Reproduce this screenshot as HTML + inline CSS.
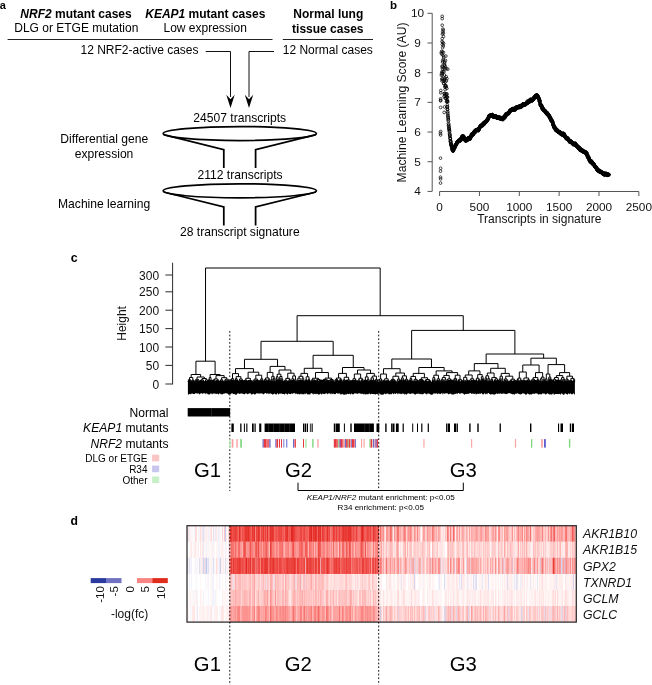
<!DOCTYPE html>
<html lang="en">
<head>
<meta charset="utf-8">
<title>NRF2 signature figure</title>
<style>
html,body{margin:0;padding:0;background:#fff;}
body{width:652px;height:685px;overflow:hidden;}
svg{display:block;font-family:'Liberation Sans', sans-serif;}
</style>
</head>
<body>
<svg width="652" height="685" viewBox="0 0 652 685">
<rect width="652" height="685" fill="#fff"/>
<g id="panel-a">
<text x="-0.2" y="8.9" font-size="11" font-weight="bold">a</text>
<text x="76" y="17.5" font-size="12" text-anchor="middle" font-weight="bold"><tspan font-style="italic">NRF2</tspan> mutant cases</text>
<text x="76.3" y="31.6" font-size="12" text-anchor="middle">DLG or ETGE mutation</text>
<text x="205.3" y="17.6" font-size="12" text-anchor="middle" font-weight="bold"><tspan font-style="italic">KEAP1</tspan> mutant cases</text>
<text x="205.2" y="31.6" font-size="12" text-anchor="middle">Low expression</text>
<text x="328.3" y="17.6" font-size="12" text-anchor="middle" font-weight="bold">Normal lung</text>
<text x="327.8" y="32.5" font-size="12" text-anchor="middle" font-weight="bold">tissue cases</text>
<path d="M7.6 39.5H272.5M282.8 39.5H373" stroke="#222" stroke-width="1" fill="none"/>
<text x="139.5" y="54" font-size="12" text-anchor="middle">12 NRF2-active cases</text>
<text x="327.8" y="54" font-size="12" text-anchor="middle">12 Normal cases</text>
<path d="M205.7 51.5H230.5V97M274 51.5H249V97" stroke="#111" stroke-width="1" fill="none"/>
<path d="M230.5 108L226.3 94.8L230.5 99.2L234.7 94.8Z" fill="#000"/>
<path d="M249 108L244.8 94.8L249 99.2L253.2 94.8Z" fill="#000"/>
<text x="239.7" y="122.2" font-size="12.1" text-anchor="middle">24507 transcripts</text>
<text x="240" y="179" font-size="12.1" text-anchor="middle">2112 transcripts</text>
<text x="239.8" y="236" font-size="12.1" text-anchor="middle">28 transcript signature</text>
<text x="104.3" y="142.85" font-size="12.1" text-anchor="middle">Differential gene</text>
<text x="104.1" y="158" font-size="12.1" text-anchor="middle">expression</text>
<text x="104.1" y="208.15" font-size="12.1" text-anchor="middle">Machine learning</text>
<ellipse cx="239.8" cy="133.5" rx="76.6" ry="7.0" fill="none" stroke="#000" stroke-width="1.75"/>
<path d="M163.6 134.7 L223.8 149.6 V168.1 M316 134.7 L255.6 149.6 V168.1" fill="none" stroke="#000" stroke-width="1.75" stroke-linejoin="miter"/>
<ellipse cx="239.8" cy="190.8" rx="76.6" ry="7.0" fill="none" stroke="#000" stroke-width="1.75"/>
<path d="M163.6 192 L223.8 206.9 V225.4 M316 192 L255.6 206.9 V225.4" fill="none" stroke="#000" stroke-width="1.75" stroke-linejoin="miter"/>
</g>
<g id="panel-b">
<text x="389.9" y="8.55" font-size="11.5" font-weight="bold">b</text>
<path d="M432.2 13.32 V191.4M432.2 191.4H427.5M432.2 161.72H427.5M432.2 132.04H427.5M432.2 102.36H427.5M432.2 72.68H427.5M432.2 43H427.5M432.2 13.32H427.5M439.6 191.5H638.85M439.6 191.5V196M479.45 191.5V196M519.3 191.5V196M559.15 191.5V196M599 191.5V196M638.85 191.5V196" stroke="#555" stroke-width="1" fill="none"/>
<text x="417.6" y="195.3" font-size="11.8" text-anchor="middle" fill="#111">4</text>
<text x="417.6" y="165.62" font-size="11.8" text-anchor="middle" fill="#111">5</text>
<text x="417.6" y="135.94" font-size="11.8" text-anchor="middle" fill="#111">6</text>
<text x="417.6" y="106.26" font-size="11.8" text-anchor="middle" fill="#111">7</text>
<text x="417.6" y="76.58" font-size="11.8" text-anchor="middle" fill="#111">8</text>
<text x="417.6" y="46.9" font-size="11.8" text-anchor="middle" fill="#111">9</text>
<text x="417.6" y="17.22" font-size="11.8" text-anchor="middle" fill="#111">10</text>
<text x="439.6" y="211.3" font-size="11.8" text-anchor="middle" fill="#111">0</text>
<text x="479.45" y="211.3" font-size="11.8" text-anchor="middle" fill="#111">500</text>
<text x="519.3" y="211.3" font-size="11.8" text-anchor="middle" fill="#111">1000</text>
<text x="559.15" y="211.3" font-size="11.8" text-anchor="middle" fill="#111">1500</text>
<text x="599" y="211.3" font-size="11.8" text-anchor="middle" fill="#111">2000</text>
<text x="638.85" y="211.3" font-size="11.8" text-anchor="middle" fill="#111">2500</text>
<text x="539.3" y="222.6" font-size="12" text-anchor="middle" fill="#111">Transcripts in signature</text>
<text x="405.6" y="102.4" font-size="12.15" text-anchor="middle" fill="#111" transform="rotate(-90 405.6 102.4)">Machine Learning Score (AU)</text>
<g fill="none" stroke="#000" stroke-width="0.7">
<circle cx="442.2" cy="16.29" r="1.35"/><circle cx="442.2" cy="18.66" r="1.35"/><circle cx="442.2" cy="25.19" r="1.35"/><circle cx="442.9" cy="29.05" r="1.35"/><circle cx="443.3" cy="30.24" r="1.35"/><circle cx="442.7" cy="31.72" r="1.35"/><circle cx="443.4" cy="33.21" r="1.35"/><circle cx="442.4" cy="34.1" r="1.35"/><circle cx="443.5" cy="36.47" r="1.35"/><circle cx="442.2" cy="38.55" r="1.35"/><circle cx="442" cy="41.52" r="1.35"/><circle cx="442.9" cy="42.41" r="1.35"/><circle cx="443.6" cy="43.59" r="1.35"/><circle cx="442.3" cy="44.48" r="1.35"/><circle cx="443.3" cy="45.97" r="1.35"/><circle cx="442.6" cy="47.75" r="1.35"/><circle cx="441.6" cy="51.31" r="1.35"/><circle cx="442.5" cy="51.9" r="1.35"/><circle cx="443.4" cy="52.5" r="1.35"/><circle cx="441.9" cy="54.28" r="1.35"/><circle cx="443" cy="55.47" r="1.35"/><circle cx="441.23" cy="53.05" r="1.35"/><circle cx="442.2" cy="67.05" r="1.35"/><circle cx="445.85" cy="56.04" r="1.35"/><circle cx="443.87" cy="67.77" r="1.35"/><circle cx="442.15" cy="66.02" r="1.35"/><circle cx="444.62" cy="62.9" r="1.35"/><circle cx="445.5" cy="60.36" r="1.35"/><circle cx="445.06" cy="68.83" r="1.35"/><circle cx="443.71" cy="56.97" r="1.35"/><circle cx="442.68" cy="60.58" r="1.35"/><circle cx="443" cy="71.47" r="1.35"/><circle cx="447.8" cy="69.2" r="1.35"/><circle cx="446.59" cy="68.82" r="1.35"/><circle cx="444.37" cy="64.98" r="1.35"/><circle cx="442.56" cy="62.1" r="1.35"/><circle cx="444.58" cy="61.62" r="1.35"/><circle cx="445.01" cy="78.15" r="1.35"/><circle cx="444.8" cy="65.3" r="1.35"/><circle cx="443.38" cy="59.21" r="1.35"/><circle cx="445.41" cy="66.86" r="1.35"/><circle cx="446.22" cy="76.74" r="1.35"/><circle cx="442.02" cy="80.98" r="1.35"/><circle cx="442.43" cy="68.75" r="1.35"/><circle cx="441.53" cy="73.57" r="1.35"/><circle cx="442.45" cy="73.01" r="1.35"/><circle cx="441.82" cy="71.88" r="1.35"/><circle cx="444.02" cy="71.83" r="1.35"/><circle cx="444.41" cy="75" r="1.35"/><circle cx="442.33" cy="75.21" r="1.35"/><circle cx="444.68" cy="93.46" r="1.35"/><circle cx="443.9" cy="83.48" r="1.35"/><circle cx="441.35" cy="75.23" r="1.35"/><circle cx="443.73" cy="83.65" r="1.35"/><circle cx="445.38" cy="86.22" r="1.35"/><circle cx="443.47" cy="80.89" r="1.35"/><circle cx="446.29" cy="87.05" r="1.35"/><circle cx="445.96" cy="85.58" r="1.35"/><circle cx="441.8" cy="78.99" r="1.35"/><circle cx="445.07" cy="89.65" r="1.35"/><circle cx="446.44" cy="80.99" r="1.35"/><circle cx="446.92" cy="78.64" r="1.35"/><circle cx="444.86" cy="86.97" r="1.35"/><circle cx="444.54" cy="80.11" r="1.35"/><circle cx="442.61" cy="78.93" r="1.35"/><circle cx="445.07" cy="82.21" r="1.35"/><circle cx="447.08" cy="99.97" r="1.35"/><circle cx="445.5" cy="85.75" r="1.35"/><circle cx="444.72" cy="95.46" r="1.35"/><circle cx="444.15" cy="79.21" r="1.35"/><circle cx="444.15" cy="112.4" r="1.35"/><circle cx="445.43" cy="98.22" r="1.35"/><circle cx="444.15" cy="93.6" r="1.35"/><circle cx="447.54" cy="97.18" r="1.35"/><circle cx="447.8" cy="101.76" r="1.35"/><circle cx="444" cy="96.54" r="1.35"/><circle cx="446.86" cy="88.5" r="1.35"/><circle cx="447.22" cy="101.1" r="1.35"/><circle cx="444.43" cy="106.95" r="1.35"/><circle cx="446.51" cy="93.91" r="1.35"/><circle cx="445.53" cy="93.93" r="1.35"/><circle cx="446.63" cy="96.27" r="1.35"/><circle cx="445.52" cy="98.23" r="1.35"/><circle cx="446.63" cy="97.63" r="1.35"/><circle cx="447.39" cy="100.83" r="1.35"/><circle cx="446.45" cy="101.83" r="1.35"/><circle cx="447.32" cy="104.83" r="1.35"/><circle cx="447.48" cy="109.43" r="1.35"/><circle cx="447.36" cy="107.12" r="1.35"/><circle cx="440.5" cy="183.09" r="1.35"/><circle cx="440.6" cy="178.93" r="1.35"/><circle cx="440.5" cy="177.15" r="1.35"/><circle cx="440.5" cy="171.22" r="1.35"/><circle cx="440.6" cy="168.25" r="1.35"/><circle cx="440.5" cy="158.16" r="1.35"/><circle cx="440.6" cy="135.01" r="1.35"/><circle cx="440.4" cy="133.23" r="1.35"/><circle cx="440.7" cy="131.45" r="1.35"/><circle cx="440.6" cy="107.41" r="1.35"/><circle cx="440.7" cy="100.28" r="1.35"/><circle cx="440.6" cy="98.8" r="1.35"/><circle cx="440.8" cy="92.86" r="1.35"/><circle cx="440.8" cy="90.49" r="1.35"/><circle cx="440.6" cy="100.88" r="1.35"/><circle cx="447" cy="94.05" r="1.35"/><circle cx="447" cy="97.02" r="1.35"/><circle cx="447.1" cy="101.77" r="1.35"/>
</g>
<g fill="none" stroke="#000" stroke-width="0.9">
<circle cx="447.25" cy="106.7" r="1.45"/><circle cx="447.41" cy="109.27" r="1.45"/><circle cx="447.57" cy="111.69" r="1.45"/><circle cx="447.73" cy="113.35" r="1.45"/><circle cx="447.89" cy="115.36" r="1.45"/><circle cx="448.05" cy="117.05" r="1.45"/><circle cx="448.21" cy="119.03" r="1.45"/><circle cx="448.37" cy="120.74" r="1.45"/><circle cx="448.53" cy="123.72" r="1.45"/><circle cx="448.69" cy="125.19" r="1.45"/><circle cx="448.85" cy="126.62" r="1.45"/><circle cx="449" cy="128.2" r="1.45"/><circle cx="449.16" cy="129.12" r="1.45"/><circle cx="449.32" cy="130.22" r="1.45"/><circle cx="449.48" cy="131.62" r="1.45"/><circle cx="449.64" cy="133.87" r="1.45"/><circle cx="449.8" cy="135.1" r="1.45"/><circle cx="449.96" cy="136.17" r="1.45"/><circle cx="450.12" cy="138.11" r="1.45"/><circle cx="450.28" cy="138.85" r="1.45"/><circle cx="450.44" cy="140.78" r="1.45"/><circle cx="450.6" cy="141.97" r="1.45"/><circle cx="450.76" cy="141.66" r="1.45"/><circle cx="450.92" cy="143.48" r="1.45"/><circle cx="451.08" cy="144.34" r="1.45"/><circle cx="451.24" cy="144.59" r="1.45"/><circle cx="451.4" cy="145.34" r="1.45"/><circle cx="451.56" cy="145.76" r="1.45"/><circle cx="451.71" cy="146.26" r="1.45"/><circle cx="451.87" cy="147.55" r="1.45"/><circle cx="452.03" cy="147.88" r="1.45"/><circle cx="452.19" cy="148.99" r="1.45"/><circle cx="452.35" cy="149.72" r="1.45"/><circle cx="452.51" cy="150.03" r="1.45"/><circle cx="452.67" cy="149.77" r="1.45"/><circle cx="452.83" cy="149.37" r="1.45"/><circle cx="452.99" cy="151.15" r="1.45"/><circle cx="453.15" cy="150.52" r="1.45"/><circle cx="453.31" cy="150.32" r="1.45"/><circle cx="453.47" cy="149.9" r="1.45"/><circle cx="453.63" cy="149.35" r="1.45"/><circle cx="453.79" cy="148.48" r="1.45"/><circle cx="453.95" cy="148.05" r="1.45"/><circle cx="454.11" cy="147.9" r="1.45"/><circle cx="454.26" cy="147.55" r="1.45"/><circle cx="454.42" cy="148.15" r="1.45"/><circle cx="454.58" cy="147.95" r="1.45"/><circle cx="454.74" cy="146.62" r="1.45"/><circle cx="454.9" cy="146.46" r="1.45"/><circle cx="455.06" cy="146.6" r="1.45"/><circle cx="455.22" cy="145.92" r="1.45"/><circle cx="455.38" cy="145.41" r="1.45"/><circle cx="455.54" cy="145.85" r="1.45"/><circle cx="455.7" cy="145.1" r="1.45"/><circle cx="455.86" cy="144.73" r="1.45"/><circle cx="456.02" cy="144.53" r="1.45"/><circle cx="456.18" cy="144.54" r="1.45"/><circle cx="456.34" cy="144.33" r="1.45"/><circle cx="456.5" cy="143.91" r="1.45"/><circle cx="456.66" cy="143.47" r="1.45"/><circle cx="456.82" cy="142.92" r="1.45"/><circle cx="456.97" cy="142.43" r="1.45"/><circle cx="457.13" cy="142.51" r="1.45"/><circle cx="457.29" cy="142.23" r="1.45"/><circle cx="457.45" cy="142.31" r="1.45"/><circle cx="457.61" cy="142.16" r="1.45"/><circle cx="457.77" cy="141.67" r="1.45"/><circle cx="457.93" cy="141.15" r="1.45"/><circle cx="458.09" cy="141.51" r="1.45"/><circle cx="458.25" cy="141.01" r="1.45"/><circle cx="458.41" cy="141.24" r="1.45"/><circle cx="458.57" cy="141.72" r="1.45"/><circle cx="458.73" cy="141" r="1.45"/><circle cx="458.89" cy="140.82" r="1.45"/><circle cx="459.05" cy="140.71" r="1.45"/><circle cx="459.21" cy="140.97" r="1.45"/><circle cx="459.37" cy="139.91" r="1.45"/><circle cx="459.53" cy="140.21" r="1.45"/><circle cx="459.68" cy="140.16" r="1.45"/><circle cx="459.84" cy="140.93" r="1.45"/><circle cx="460" cy="140.7" r="1.45"/><circle cx="460.16" cy="139.79" r="1.45"/><circle cx="460.32" cy="139.19" r="1.45"/><circle cx="460.48" cy="140.15" r="1.45"/><circle cx="460.64" cy="139.69" r="1.45"/><circle cx="460.8" cy="140.36" r="1.45"/><circle cx="460.96" cy="139.45" r="1.45"/><circle cx="461.12" cy="139.14" r="1.45"/><circle cx="461.28" cy="138.01" r="1.45"/><circle cx="461.44" cy="138.28" r="1.45"/><circle cx="461.6" cy="137.95" r="1.45"/><circle cx="461.76" cy="137.36" r="1.45"/><circle cx="461.92" cy="137.6" r="1.45"/><circle cx="462.08" cy="137.06" r="1.45"/><circle cx="462.23" cy="136.48" r="1.45"/><circle cx="462.39" cy="136.09" r="1.45"/><circle cx="462.55" cy="136.02" r="1.45"/><circle cx="462.71" cy="137.15" r="1.45"/><circle cx="462.87" cy="136.68" r="1.45"/><circle cx="463.03" cy="137.04" r="1.45"/><circle cx="463.19" cy="136.03" r="1.45"/><circle cx="463.35" cy="136.64" r="1.45"/><circle cx="463.51" cy="137.16" r="1.45"/><circle cx="463.67" cy="136.42" r="1.45"/><circle cx="463.83" cy="137.11" r="1.45"/><circle cx="463.99" cy="137.87" r="1.45"/><circle cx="464.15" cy="138.26" r="1.45"/><circle cx="464.31" cy="139.35" r="1.45"/><circle cx="464.47" cy="139.23" r="1.45"/><circle cx="464.63" cy="139.69" r="1.45"/><circle cx="464.79" cy="138.9" r="1.45"/><circle cx="464.94" cy="139.53" r="1.45"/><circle cx="465.1" cy="139.77" r="1.45"/><circle cx="465.26" cy="140.48" r="1.45"/><circle cx="465.42" cy="140.15" r="1.45"/><circle cx="465.58" cy="140.76" r="1.45"/><circle cx="465.74" cy="140.68" r="1.45"/><circle cx="465.9" cy="140.91" r="1.45"/><circle cx="466.06" cy="140.21" r="1.45"/><circle cx="466.22" cy="139.82" r="1.45"/><circle cx="466.38" cy="139.76" r="1.45"/><circle cx="466.54" cy="138.98" r="1.45"/><circle cx="466.7" cy="139.28" r="1.45"/><circle cx="466.86" cy="140.32" r="1.45"/><circle cx="467.02" cy="139.86" r="1.45"/><circle cx="467.18" cy="140.29" r="1.45"/><circle cx="467.34" cy="140.05" r="1.45"/><circle cx="467.5" cy="139.82" r="1.45"/><circle cx="467.65" cy="139.1" r="1.45"/><circle cx="467.81" cy="138.4" r="1.45"/><circle cx="467.97" cy="139.05" r="1.45"/><circle cx="468.13" cy="138.16" r="1.45"/><circle cx="468.29" cy="138.98" r="1.45"/><circle cx="468.45" cy="138.01" r="1.45"/><circle cx="468.61" cy="137.84" r="1.45"/><circle cx="468.77" cy="138.34" r="1.45"/><circle cx="468.93" cy="138.42" r="1.45"/><circle cx="469.09" cy="137.95" r="1.45"/><circle cx="469.25" cy="138.12" r="1.45"/><circle cx="469.41" cy="138.11" r="1.45"/><circle cx="469.57" cy="138.04" r="1.45"/><circle cx="469.73" cy="138.44" r="1.45"/><circle cx="469.89" cy="139.12" r="1.45"/><circle cx="470.05" cy="138.03" r="1.45"/><circle cx="470.2" cy="138.58" r="1.45"/><circle cx="470.36" cy="138.04" r="1.45"/><circle cx="470.52" cy="137.13" r="1.45"/><circle cx="470.68" cy="136.87" r="1.45"/><circle cx="470.84" cy="136.2" r="1.45"/><circle cx="471" cy="136.91" r="1.45"/><circle cx="471.16" cy="135.34" r="1.45"/><circle cx="471.32" cy="135.96" r="1.45"/><circle cx="471.48" cy="135.79" r="1.45"/><circle cx="471.64" cy="134.13" r="1.45"/><circle cx="471.8" cy="134.96" r="1.45"/><circle cx="471.96" cy="134.66" r="1.45"/><circle cx="472.12" cy="134.13" r="1.45"/><circle cx="472.28" cy="134.71" r="1.45"/><circle cx="472.44" cy="134.25" r="1.45"/><circle cx="472.6" cy="134.57" r="1.45"/><circle cx="472.76" cy="134.84" r="1.45"/><circle cx="472.91" cy="134.34" r="1.45"/><circle cx="473.07" cy="134.75" r="1.45"/><circle cx="473.23" cy="133.14" r="1.45"/><circle cx="473.39" cy="134.19" r="1.45"/><circle cx="473.55" cy="132.84" r="1.45"/><circle cx="473.71" cy="132.32" r="1.45"/><circle cx="473.87" cy="132.25" r="1.45"/><circle cx="474.03" cy="132.52" r="1.45"/><circle cx="474.19" cy="132.91" r="1.45"/><circle cx="474.35" cy="131.52" r="1.45"/><circle cx="474.51" cy="132.67" r="1.45"/><circle cx="474.67" cy="132.13" r="1.45"/><circle cx="474.83" cy="132.49" r="1.45"/><circle cx="474.99" cy="131.03" r="1.45"/><circle cx="475.15" cy="132.09" r="1.45"/><circle cx="475.31" cy="130.65" r="1.45"/><circle cx="475.47" cy="130.11" r="1.45"/><circle cx="475.62" cy="130.48" r="1.45"/><circle cx="475.78" cy="131.31" r="1.45"/><circle cx="475.94" cy="130.69" r="1.45"/><circle cx="476.1" cy="130.93" r="1.45"/><circle cx="476.26" cy="130.41" r="1.45"/><circle cx="476.42" cy="130.18" r="1.45"/><circle cx="476.58" cy="129.97" r="1.45"/><circle cx="476.74" cy="130.42" r="1.45"/><circle cx="476.9" cy="130.18" r="1.45"/><circle cx="477.06" cy="130.02" r="1.45"/><circle cx="477.22" cy="129.89" r="1.45"/><circle cx="477.38" cy="130.3" r="1.45"/><circle cx="477.54" cy="129.23" r="1.45"/><circle cx="477.7" cy="129.44" r="1.45"/><circle cx="477.86" cy="129.49" r="1.45"/><circle cx="478.02" cy="129.54" r="1.45"/><circle cx="478.17" cy="129.39" r="1.45"/><circle cx="478.33" cy="130.7" r="1.45"/><circle cx="478.49" cy="129.27" r="1.45"/><circle cx="478.65" cy="130.19" r="1.45"/><circle cx="478.81" cy="129.49" r="1.45"/><circle cx="478.97" cy="129.24" r="1.45"/><circle cx="479.13" cy="128.44" r="1.45"/><circle cx="479.29" cy="128.34" r="1.45"/><circle cx="479.45" cy="127.61" r="1.45"/><circle cx="479.61" cy="127.93" r="1.45"/><circle cx="479.77" cy="127.21" r="1.45"/><circle cx="479.93" cy="127.05" r="1.45"/><circle cx="480.09" cy="126.81" r="1.45"/><circle cx="480.25" cy="126.16" r="1.45"/><circle cx="480.41" cy="126.67" r="1.45"/><circle cx="480.57" cy="125.55" r="1.45"/><circle cx="480.73" cy="126.15" r="1.45"/><circle cx="480.88" cy="126.07" r="1.45"/><circle cx="481.04" cy="126.22" r="1.45"/><circle cx="481.2" cy="125.65" r="1.45"/><circle cx="481.36" cy="125.7" r="1.45"/><circle cx="481.52" cy="125.17" r="1.45"/><circle cx="481.68" cy="125.2" r="1.45"/><circle cx="481.84" cy="124.94" r="1.45"/><circle cx="482" cy="125.58" r="1.45"/><circle cx="482.16" cy="125.73" r="1.45"/><circle cx="482.32" cy="125.88" r="1.45"/><circle cx="482.48" cy="124.98" r="1.45"/><circle cx="482.64" cy="124.86" r="1.45"/><circle cx="482.8" cy="125.23" r="1.45"/><circle cx="482.96" cy="123.88" r="1.45"/><circle cx="483.12" cy="123.97" r="1.45"/><circle cx="483.28" cy="124.26" r="1.45"/><circle cx="483.44" cy="122.97" r="1.45"/><circle cx="483.59" cy="123.74" r="1.45"/><circle cx="483.75" cy="124.02" r="1.45"/><circle cx="483.91" cy="124.12" r="1.45"/><circle cx="484.07" cy="124.21" r="1.45"/><circle cx="484.23" cy="123.4" r="1.45"/><circle cx="484.39" cy="122.83" r="1.45"/><circle cx="484.55" cy="122.05" r="1.45"/><circle cx="484.71" cy="122.83" r="1.45"/><circle cx="484.87" cy="123.1" r="1.45"/><circle cx="485.03" cy="122.5" r="1.45"/><circle cx="485.19" cy="122.69" r="1.45"/><circle cx="485.35" cy="122.25" r="1.45"/><circle cx="485.51" cy="122.15" r="1.45"/><circle cx="485.67" cy="122.07" r="1.45"/><circle cx="485.83" cy="121.23" r="1.45"/><circle cx="485.99" cy="121.4" r="1.45"/><circle cx="486.14" cy="121.95" r="1.45"/><circle cx="486.3" cy="121.01" r="1.45"/><circle cx="486.46" cy="121.1" r="1.45"/><circle cx="486.62" cy="121.33" r="1.45"/><circle cx="486.78" cy="120.74" r="1.45"/><circle cx="486.94" cy="120.01" r="1.45"/><circle cx="487.1" cy="120.29" r="1.45"/><circle cx="487.26" cy="119.8" r="1.45"/><circle cx="487.42" cy="119.23" r="1.45"/><circle cx="487.58" cy="119.79" r="1.45"/><circle cx="487.74" cy="119.44" r="1.45"/><circle cx="487.9" cy="119.27" r="1.45"/><circle cx="488.06" cy="119.04" r="1.45"/><circle cx="488.22" cy="118.81" r="1.45"/><circle cx="488.38" cy="117.9" r="1.45"/><circle cx="488.54" cy="117.27" r="1.45"/><circle cx="488.7" cy="117.72" r="1.45"/><circle cx="488.85" cy="116.88" r="1.45"/><circle cx="489.01" cy="115.83" r="1.45"/><circle cx="489.17" cy="116.11" r="1.45"/><circle cx="489.33" cy="116.01" r="1.45"/><circle cx="489.49" cy="116.28" r="1.45"/><circle cx="489.65" cy="116.48" r="1.45"/><circle cx="489.81" cy="116.16" r="1.45"/><circle cx="489.97" cy="115.02" r="1.45"/><circle cx="490.13" cy="115.87" r="1.45"/><circle cx="490.29" cy="115.58" r="1.45"/><circle cx="490.45" cy="115.75" r="1.45"/><circle cx="490.61" cy="115.44" r="1.45"/><circle cx="490.77" cy="115.29" r="1.45"/><circle cx="490.93" cy="115.44" r="1.45"/><circle cx="491.09" cy="115.55" r="1.45"/><circle cx="491.25" cy="115.29" r="1.45"/><circle cx="491.41" cy="115.08" r="1.45"/><circle cx="491.56" cy="114.95" r="1.45"/><circle cx="491.72" cy="114.98" r="1.45"/><circle cx="491.88" cy="115.02" r="1.45"/><circle cx="492.04" cy="115.33" r="1.45"/><circle cx="492.2" cy="114.73" r="1.45"/><circle cx="492.36" cy="114.6" r="1.45"/><circle cx="492.52" cy="115.25" r="1.45"/><circle cx="492.68" cy="115.82" r="1.45"/><circle cx="492.84" cy="115.7" r="1.45"/><circle cx="493" cy="116.42" r="1.45"/><circle cx="493.16" cy="117.02" r="1.45"/><circle cx="493.32" cy="116.29" r="1.45"/><circle cx="493.48" cy="116.3" r="1.45"/><circle cx="493.64" cy="116.65" r="1.45"/><circle cx="493.8" cy="116.8" r="1.45"/><circle cx="493.96" cy="116.23" r="1.45"/><circle cx="494.11" cy="116.33" r="1.45"/><circle cx="494.27" cy="116.48" r="1.45"/><circle cx="494.43" cy="116.12" r="1.45"/><circle cx="494.59" cy="116.51" r="1.45"/><circle cx="494.75" cy="116.87" r="1.45"/><circle cx="494.91" cy="117.01" r="1.45"/><circle cx="495.07" cy="116.6" r="1.45"/><circle cx="495.23" cy="115.88" r="1.45"/><circle cx="495.39" cy="116.83" r="1.45"/><circle cx="495.55" cy="116.79" r="1.45"/><circle cx="495.71" cy="116.33" r="1.45"/><circle cx="495.87" cy="116.3" r="1.45"/><circle cx="496.03" cy="116.48" r="1.45"/><circle cx="496.19" cy="116.41" r="1.45"/><circle cx="496.35" cy="117.59" r="1.45"/><circle cx="496.51" cy="117.66" r="1.45"/><circle cx="496.67" cy="117.38" r="1.45"/><circle cx="496.82" cy="117.55" r="1.45"/><circle cx="496.98" cy="117.45" r="1.45"/><circle cx="497.14" cy="117.47" r="1.45"/><circle cx="497.3" cy="117.86" r="1.45"/><circle cx="497.46" cy="117.91" r="1.45"/><circle cx="497.62" cy="117.5" r="1.45"/><circle cx="497.78" cy="117.8" r="1.45"/><circle cx="497.94" cy="117.72" r="1.45"/><circle cx="498.1" cy="117.6" r="1.45"/><circle cx="498.26" cy="117.09" r="1.45"/><circle cx="498.42" cy="117.33" r="1.45"/><circle cx="498.58" cy="117.23" r="1.45"/><circle cx="498.74" cy="117.31" r="1.45"/><circle cx="498.9" cy="118.27" r="1.45"/><circle cx="499.06" cy="117.59" r="1.45"/><circle cx="499.22" cy="117.4" r="1.45"/><circle cx="499.38" cy="118.13" r="1.45"/><circle cx="499.53" cy="117.92" r="1.45"/><circle cx="499.69" cy="118.58" r="1.45"/><circle cx="499.85" cy="118.38" r="1.45"/><circle cx="500.01" cy="117.93" r="1.45"/><circle cx="500.17" cy="117.31" r="1.45"/><circle cx="500.33" cy="118.54" r="1.45"/><circle cx="500.49" cy="117.99" r="1.45"/><circle cx="500.65" cy="118.92" r="1.45"/><circle cx="500.81" cy="118.35" r="1.45"/><circle cx="500.97" cy="118.89" r="1.45"/><circle cx="501.13" cy="118.77" r="1.45"/><circle cx="501.29" cy="118.97" r="1.45"/><circle cx="501.45" cy="118.63" r="1.45"/><circle cx="501.61" cy="118.73" r="1.45"/><circle cx="501.77" cy="118.66" r="1.45"/><circle cx="501.93" cy="118.14" r="1.45"/><circle cx="502.08" cy="118.19" r="1.45"/><circle cx="502.24" cy="118.09" r="1.45"/><circle cx="502.4" cy="118.63" r="1.45"/><circle cx="502.56" cy="118.71" r="1.45"/><circle cx="502.72" cy="119.67" r="1.45"/><circle cx="502.88" cy="118.66" r="1.45"/><circle cx="503.04" cy="118.38" r="1.45"/><circle cx="503.2" cy="118.78" r="1.45"/><circle cx="503.36" cy="118.78" r="1.45"/><circle cx="503.52" cy="118.22" r="1.45"/><circle cx="503.68" cy="117.83" r="1.45"/><circle cx="503.84" cy="117.75" r="1.45"/><circle cx="504" cy="116.68" r="1.45"/><circle cx="504.16" cy="116.46" r="1.45"/><circle cx="504.32" cy="117.3" r="1.45"/><circle cx="504.48" cy="116.7" r="1.45"/><circle cx="504.64" cy="117.96" r="1.45"/><circle cx="504.79" cy="116.55" r="1.45"/><circle cx="504.95" cy="115.54" r="1.45"/><circle cx="505.11" cy="116.16" r="1.45"/><circle cx="505.27" cy="115.71" r="1.45"/><circle cx="505.43" cy="115.71" r="1.45"/><circle cx="505.59" cy="116.52" r="1.45"/><circle cx="505.75" cy="115.11" r="1.45"/><circle cx="505.91" cy="113.88" r="1.45"/><circle cx="506.07" cy="114.68" r="1.45"/><circle cx="506.23" cy="114.95" r="1.45"/><circle cx="506.39" cy="114.5" r="1.45"/><circle cx="506.55" cy="114.57" r="1.45"/><circle cx="506.71" cy="114.2" r="1.45"/><circle cx="506.87" cy="114.31" r="1.45"/><circle cx="507.03" cy="114.03" r="1.45"/><circle cx="507.19" cy="113.67" r="1.45"/><circle cx="507.35" cy="114.26" r="1.45"/><circle cx="507.5" cy="113.39" r="1.45"/><circle cx="507.66" cy="113.26" r="1.45"/><circle cx="507.82" cy="113.28" r="1.45"/><circle cx="507.98" cy="113.46" r="1.45"/><circle cx="508.14" cy="113.34" r="1.45"/><circle cx="508.3" cy="113.6" r="1.45"/><circle cx="508.46" cy="113.19" r="1.45"/><circle cx="508.62" cy="113.01" r="1.45"/><circle cx="508.78" cy="113.51" r="1.45"/><circle cx="508.94" cy="112.48" r="1.45"/><circle cx="509.1" cy="112.34" r="1.45"/><circle cx="509.26" cy="111.56" r="1.45"/><circle cx="509.42" cy="111.83" r="1.45"/><circle cx="509.58" cy="111.5" r="1.45"/><circle cx="509.74" cy="111.36" r="1.45"/><circle cx="509.9" cy="111.03" r="1.45"/><circle cx="510.05" cy="110.51" r="1.45"/><circle cx="510.21" cy="110.45" r="1.45"/><circle cx="510.37" cy="110.2" r="1.45"/><circle cx="510.53" cy="110.45" r="1.45"/><circle cx="510.69" cy="110.49" r="1.45"/><circle cx="510.85" cy="110.73" r="1.45"/><circle cx="511.01" cy="110.47" r="1.45"/><circle cx="511.17" cy="110.29" r="1.45"/><circle cx="511.33" cy="109.88" r="1.45"/><circle cx="511.49" cy="110.27" r="1.45"/><circle cx="511.65" cy="109.38" r="1.45"/><circle cx="511.81" cy="109.79" r="1.45"/><circle cx="511.97" cy="109.46" r="1.45"/><circle cx="512.13" cy="109.02" r="1.45"/><circle cx="512.29" cy="109.97" r="1.45"/><circle cx="512.45" cy="109.15" r="1.45"/><circle cx="512.61" cy="108.81" r="1.45"/><circle cx="512.76" cy="109.52" r="1.45"/><circle cx="512.92" cy="108.76" r="1.45"/><circle cx="513.08" cy="109.78" r="1.45"/><circle cx="513.24" cy="110.07" r="1.45"/><circle cx="513.4" cy="109.55" r="1.45"/><circle cx="513.56" cy="109.46" r="1.45"/><circle cx="513.72" cy="109.54" r="1.45"/><circle cx="513.88" cy="109.57" r="1.45"/><circle cx="514.04" cy="108.98" r="1.45"/><circle cx="514.2" cy="108.24" r="1.45"/><circle cx="514.36" cy="109.16" r="1.45"/><circle cx="514.52" cy="108.93" r="1.45"/><circle cx="514.68" cy="109.66" r="1.45"/><circle cx="514.84" cy="109.82" r="1.45"/><circle cx="515" cy="109.08" r="1.45"/><circle cx="515.16" cy="109.34" r="1.45"/><circle cx="515.32" cy="109.62" r="1.45"/><circle cx="515.47" cy="108.55" r="1.45"/><circle cx="515.63" cy="108.26" r="1.45"/><circle cx="515.79" cy="108.08" r="1.45"/><circle cx="515.95" cy="107.89" r="1.45"/><circle cx="516.11" cy="107.83" r="1.45"/><circle cx="516.27" cy="106.97" r="1.45"/><circle cx="516.43" cy="107.52" r="1.45"/><circle cx="516.59" cy="108.05" r="1.45"/><circle cx="516.75" cy="107.35" r="1.45"/><circle cx="516.91" cy="107.34" r="1.45"/><circle cx="517.07" cy="107.03" r="1.45"/><circle cx="517.23" cy="107.77" r="1.45"/><circle cx="517.39" cy="107.27" r="1.45"/><circle cx="517.55" cy="107.54" r="1.45"/><circle cx="517.71" cy="107.14" r="1.45"/><circle cx="517.87" cy="107.65" r="1.45"/><circle cx="518.02" cy="107" r="1.45"/><circle cx="518.18" cy="107.02" r="1.45"/><circle cx="518.34" cy="107.42" r="1.45"/><circle cx="518.5" cy="106.54" r="1.45"/><circle cx="518.66" cy="106.99" r="1.45"/><circle cx="518.82" cy="106.48" r="1.45"/><circle cx="518.98" cy="106.9" r="1.45"/><circle cx="519.14" cy="107.1" r="1.45"/><circle cx="519.3" cy="107.57" r="1.45"/><circle cx="519.46" cy="106.54" r="1.45"/><circle cx="519.62" cy="106.9" r="1.45"/><circle cx="519.78" cy="105.98" r="1.45"/><circle cx="519.94" cy="106.13" r="1.45"/><circle cx="520.1" cy="106.41" r="1.45"/><circle cx="520.26" cy="106.8" r="1.45"/><circle cx="520.42" cy="106.33" r="1.45"/><circle cx="520.58" cy="107.26" r="1.45"/><circle cx="520.73" cy="105.94" r="1.45"/><circle cx="520.89" cy="106.02" r="1.45"/><circle cx="521.05" cy="105.85" r="1.45"/><circle cx="521.21" cy="106.69" r="1.45"/><circle cx="521.37" cy="105.92" r="1.45"/><circle cx="521.53" cy="106.69" r="1.45"/><circle cx="521.69" cy="105.5" r="1.45"/><circle cx="521.85" cy="105.25" r="1.45"/><circle cx="522.01" cy="104.98" r="1.45"/><circle cx="522.17" cy="104.9" r="1.45"/><circle cx="522.33" cy="104.71" r="1.45"/><circle cx="522.49" cy="104.57" r="1.45"/><circle cx="522.65" cy="104.61" r="1.45"/><circle cx="522.81" cy="104.42" r="1.45"/><circle cx="522.97" cy="104.88" r="1.45"/><circle cx="523.13" cy="104.23" r="1.45"/><circle cx="523.28" cy="104.84" r="1.45"/><circle cx="523.44" cy="104.4" r="1.45"/><circle cx="523.6" cy="105.37" r="1.45"/><circle cx="523.76" cy="104.09" r="1.45"/><circle cx="523.92" cy="104.27" r="1.45"/><circle cx="524.08" cy="104.22" r="1.45"/><circle cx="524.24" cy="104.55" r="1.45"/><circle cx="524.4" cy="104.58" r="1.45"/><circle cx="524.56" cy="104.34" r="1.45"/><circle cx="524.72" cy="104.54" r="1.45"/><circle cx="524.88" cy="104.74" r="1.45"/><circle cx="525.04" cy="104.22" r="1.45"/><circle cx="525.2" cy="104.33" r="1.45"/><circle cx="525.36" cy="104.76" r="1.45"/><circle cx="525.52" cy="104.1" r="1.45"/><circle cx="525.68" cy="104.09" r="1.45"/><circle cx="525.84" cy="103.49" r="1.45"/><circle cx="525.99" cy="103.17" r="1.45"/><circle cx="526.15" cy="103.36" r="1.45"/><circle cx="526.31" cy="103.43" r="1.45"/><circle cx="526.47" cy="103.86" r="1.45"/><circle cx="526.63" cy="103.23" r="1.45"/><circle cx="526.79" cy="103.36" r="1.45"/><circle cx="526.95" cy="103.12" r="1.45"/><circle cx="527.11" cy="103.3" r="1.45"/><circle cx="527.27" cy="103.02" r="1.45"/><circle cx="527.43" cy="101.09" r="1.45"/><circle cx="527.59" cy="102.62" r="1.45"/><circle cx="527.75" cy="102.5" r="1.45"/><circle cx="527.91" cy="102.94" r="1.45"/><circle cx="528.07" cy="101.69" r="1.45"/><circle cx="528.23" cy="101.97" r="1.45"/><circle cx="528.39" cy="101.7" r="1.45"/><circle cx="528.55" cy="101.6" r="1.45"/><circle cx="528.7" cy="101.98" r="1.45"/><circle cx="528.86" cy="101.51" r="1.45"/><circle cx="529.02" cy="101.91" r="1.45"/><circle cx="529.18" cy="101.53" r="1.45"/><circle cx="529.34" cy="100.42" r="1.45"/><circle cx="529.5" cy="101.98" r="1.45"/><circle cx="529.66" cy="100.41" r="1.45"/><circle cx="529.82" cy="100.34" r="1.45"/><circle cx="529.98" cy="100.99" r="1.45"/><circle cx="530.14" cy="100.74" r="1.45"/><circle cx="530.3" cy="101.21" r="1.45"/><circle cx="530.46" cy="99.38" r="1.45"/><circle cx="530.62" cy="100.47" r="1.45"/><circle cx="530.78" cy="100.35" r="1.45"/><circle cx="530.94" cy="99.7" r="1.45"/><circle cx="531.1" cy="99.47" r="1.45"/><circle cx="531.25" cy="99.95" r="1.45"/><circle cx="531.41" cy="100.05" r="1.45"/><circle cx="531.57" cy="100" r="1.45"/><circle cx="531.73" cy="100.95" r="1.45"/><circle cx="531.89" cy="100.63" r="1.45"/><circle cx="532.05" cy="100.17" r="1.45"/><circle cx="532.21" cy="99.82" r="1.45"/><circle cx="532.37" cy="100.19" r="1.45"/><circle cx="532.53" cy="100.39" r="1.45"/><circle cx="532.69" cy="99.79" r="1.45"/><circle cx="532.85" cy="99.88" r="1.45"/><circle cx="533.01" cy="99.36" r="1.45"/><circle cx="533.17" cy="98.8" r="1.45"/><circle cx="533.33" cy="98.35" r="1.45"/><circle cx="533.49" cy="98.97" r="1.45"/><circle cx="533.65" cy="99.2" r="1.45"/><circle cx="533.81" cy="97.71" r="1.45"/><circle cx="533.96" cy="98.02" r="1.45"/><circle cx="534.12" cy="97.51" r="1.45"/><circle cx="534.28" cy="97.85" r="1.45"/><circle cx="534.44" cy="97.37" r="1.45"/><circle cx="534.6" cy="97.05" r="1.45"/><circle cx="534.76" cy="97.41" r="1.45"/><circle cx="534.92" cy="97.7" r="1.45"/><circle cx="535.08" cy="97.12" r="1.45"/><circle cx="535.24" cy="96.07" r="1.45"/><circle cx="535.4" cy="96.35" r="1.45"/><circle cx="535.56" cy="96.46" r="1.45"/><circle cx="535.72" cy="95.9" r="1.45"/><circle cx="535.88" cy="95.74" r="1.45"/><circle cx="536.04" cy="95.72" r="1.45"/><circle cx="536.2" cy="95.09" r="1.45"/><circle cx="536.36" cy="95.98" r="1.45"/><circle cx="536.52" cy="96.05" r="1.45"/><circle cx="536.67" cy="95.6" r="1.45"/><circle cx="536.83" cy="95.05" r="1.45"/><circle cx="536.99" cy="95.89" r="1.45"/><circle cx="537.15" cy="95.1" r="1.45"/><circle cx="537.31" cy="95.89" r="1.45"/><circle cx="537.47" cy="96.23" r="1.45"/><circle cx="537.63" cy="95.97" r="1.45"/><circle cx="537.79" cy="96.33" r="1.45"/><circle cx="537.95" cy="96.44" r="1.45"/><circle cx="538.11" cy="98.03" r="1.45"/><circle cx="538.27" cy="97.93" r="1.45"/><circle cx="538.43" cy="98.27" r="1.45"/><circle cx="538.59" cy="98.67" r="1.45"/><circle cx="538.75" cy="97.97" r="1.45"/><circle cx="538.91" cy="98.69" r="1.45"/><circle cx="539.07" cy="99.16" r="1.45"/><circle cx="539.23" cy="99.38" r="1.45"/><circle cx="539.38" cy="101.04" r="1.45"/><circle cx="539.54" cy="101.01" r="1.45"/><circle cx="539.7" cy="101.24" r="1.45"/><circle cx="539.86" cy="100.74" r="1.45"/><circle cx="540.02" cy="102.72" r="1.45"/><circle cx="540.18" cy="104.04" r="1.45"/><circle cx="540.34" cy="104.01" r="1.45"/><circle cx="540.5" cy="105.26" r="1.45"/><circle cx="540.66" cy="105.06" r="1.45"/><circle cx="540.82" cy="105.86" r="1.45"/><circle cx="540.98" cy="105.4" r="1.45"/><circle cx="541.14" cy="105.27" r="1.45"/><circle cx="541.3" cy="105.88" r="1.45"/><circle cx="541.46" cy="105.31" r="1.45"/><circle cx="541.62" cy="106.16" r="1.45"/><circle cx="541.78" cy="106.63" r="1.45"/><circle cx="541.93" cy="107.67" r="1.45"/><circle cx="542.09" cy="108.29" r="1.45"/><circle cx="542.25" cy="107.6" r="1.45"/><circle cx="542.41" cy="108.04" r="1.45"/><circle cx="542.57" cy="109.36" r="1.45"/><circle cx="542.73" cy="108.31" r="1.45"/><circle cx="542.89" cy="108.95" r="1.45"/><circle cx="543.05" cy="108.61" r="1.45"/><circle cx="543.21" cy="108.92" r="1.45"/><circle cx="543.37" cy="109.49" r="1.45"/><circle cx="543.53" cy="110.06" r="1.45"/><circle cx="543.69" cy="110.15" r="1.45"/><circle cx="543.85" cy="109.94" r="1.45"/><circle cx="544.01" cy="110.46" r="1.45"/><circle cx="544.17" cy="110.19" r="1.45"/><circle cx="544.33" cy="110.47" r="1.45"/><circle cx="544.49" cy="110.23" r="1.45"/><circle cx="544.64" cy="110.88" r="1.45"/><circle cx="544.8" cy="111.05" r="1.45"/><circle cx="544.96" cy="111.32" r="1.45"/><circle cx="545.12" cy="110.79" r="1.45"/><circle cx="545.28" cy="111.28" r="1.45"/><circle cx="545.44" cy="111.47" r="1.45"/><circle cx="545.6" cy="112.3" r="1.45"/><circle cx="545.76" cy="112.4" r="1.45"/><circle cx="545.92" cy="112.54" r="1.45"/><circle cx="546.08" cy="112.3" r="1.45"/><circle cx="546.24" cy="113.38" r="1.45"/><circle cx="546.4" cy="112.24" r="1.45"/><circle cx="546.56" cy="112.94" r="1.45"/><circle cx="546.72" cy="112.64" r="1.45"/><circle cx="546.88" cy="112.96" r="1.45"/><circle cx="547.04" cy="112.85" r="1.45"/><circle cx="547.2" cy="113.66" r="1.45"/><circle cx="547.35" cy="114.55" r="1.45"/><circle cx="547.51" cy="113.68" r="1.45"/><circle cx="547.67" cy="113.48" r="1.45"/><circle cx="547.83" cy="114.76" r="1.45"/><circle cx="547.99" cy="114.79" r="1.45"/><circle cx="548.15" cy="114.75" r="1.45"/><circle cx="548.31" cy="115.12" r="1.45"/><circle cx="548.47" cy="115.2" r="1.45"/><circle cx="548.63" cy="115.01" r="1.45"/><circle cx="548.79" cy="115.45" r="1.45"/><circle cx="548.95" cy="115.31" r="1.45"/><circle cx="549.11" cy="115.56" r="1.45"/><circle cx="549.27" cy="116.68" r="1.45"/><circle cx="549.43" cy="117.19" r="1.45"/><circle cx="549.59" cy="116.78" r="1.45"/><circle cx="549.75" cy="116.48" r="1.45"/><circle cx="549.9" cy="118.12" r="1.45"/><circle cx="550.06" cy="117.47" r="1.45"/><circle cx="550.22" cy="118.56" r="1.45"/><circle cx="550.38" cy="117.96" r="1.45"/><circle cx="550.54" cy="118.64" r="1.45"/><circle cx="550.7" cy="118.5" r="1.45"/><circle cx="550.86" cy="119.99" r="1.45"/><circle cx="551.02" cy="119.45" r="1.45"/><circle cx="551.18" cy="119.69" r="1.45"/><circle cx="551.34" cy="120.58" r="1.45"/><circle cx="551.5" cy="120.8" r="1.45"/><circle cx="551.66" cy="121.02" r="1.45"/><circle cx="551.82" cy="120.25" r="1.45"/><circle cx="551.98" cy="120.84" r="1.45"/><circle cx="552.14" cy="121.13" r="1.45"/><circle cx="552.3" cy="122" r="1.45"/><circle cx="552.46" cy="121.52" r="1.45"/><circle cx="552.61" cy="122.21" r="1.45"/><circle cx="552.77" cy="122.85" r="1.45"/><circle cx="552.93" cy="123.4" r="1.45"/><circle cx="553.09" cy="124.7" r="1.45"/><circle cx="553.25" cy="125.2" r="1.45"/><circle cx="553.41" cy="124.68" r="1.45"/><circle cx="553.57" cy="125.42" r="1.45"/><circle cx="553.73" cy="125.93" r="1.45"/><circle cx="553.89" cy="126.64" r="1.45"/><circle cx="554.05" cy="126.61" r="1.45"/><circle cx="554.21" cy="127.73" r="1.45"/><circle cx="554.37" cy="127.67" r="1.45"/><circle cx="554.53" cy="127.5" r="1.45"/><circle cx="554.69" cy="127.78" r="1.45"/><circle cx="554.85" cy="127.36" r="1.45"/><circle cx="555.01" cy="127.57" r="1.45"/><circle cx="555.16" cy="128.47" r="1.45"/><circle cx="555.32" cy="128.48" r="1.45"/><circle cx="555.48" cy="128.58" r="1.45"/><circle cx="555.64" cy="129.39" r="1.45"/><circle cx="555.8" cy="130.32" r="1.45"/><circle cx="555.96" cy="129.09" r="1.45"/><circle cx="556.12" cy="129.98" r="1.45"/><circle cx="556.28" cy="130.43" r="1.45"/><circle cx="556.44" cy="130.1" r="1.45"/><circle cx="556.6" cy="129.54" r="1.45"/><circle cx="556.76" cy="130.06" r="1.45"/><circle cx="556.92" cy="129.52" r="1.45"/><circle cx="557.08" cy="130.57" r="1.45"/><circle cx="557.24" cy="131" r="1.45"/><circle cx="557.4" cy="131.3" r="1.45"/><circle cx="557.56" cy="131.15" r="1.45"/><circle cx="557.72" cy="131.07" r="1.45"/><circle cx="557.87" cy="131.67" r="1.45"/><circle cx="558.03" cy="130.85" r="1.45"/><circle cx="558.19" cy="131.67" r="1.45"/><circle cx="558.35" cy="131.6" r="1.45"/><circle cx="558.51" cy="131.79" r="1.45"/><circle cx="558.67" cy="132.1" r="1.45"/><circle cx="558.83" cy="132.33" r="1.45"/><circle cx="558.99" cy="131.97" r="1.45"/><circle cx="559.15" cy="132.48" r="1.45"/><circle cx="559.31" cy="131.71" r="1.45"/><circle cx="559.47" cy="132.45" r="1.45"/><circle cx="559.63" cy="131.94" r="1.45"/><circle cx="559.79" cy="132.87" r="1.45"/><circle cx="559.95" cy="132.8" r="1.45"/><circle cx="560.11" cy="131.99" r="1.45"/><circle cx="560.27" cy="132.84" r="1.45"/><circle cx="560.43" cy="133.73" r="1.45"/><circle cx="560.58" cy="133.41" r="1.45"/><circle cx="560.74" cy="133.75" r="1.45"/><circle cx="560.9" cy="133.93" r="1.45"/><circle cx="561.06" cy="133.85" r="1.45"/><circle cx="561.22" cy="133.69" r="1.45"/><circle cx="561.38" cy="134.02" r="1.45"/><circle cx="561.54" cy="133.77" r="1.45"/><circle cx="561.7" cy="133.69" r="1.45"/><circle cx="561.86" cy="133.78" r="1.45"/><circle cx="562.02" cy="134.4" r="1.45"/><circle cx="562.18" cy="135.12" r="1.45"/><circle cx="562.34" cy="134.72" r="1.45"/><circle cx="562.5" cy="133.83" r="1.45"/><circle cx="562.66" cy="134.2" r="1.45"/><circle cx="562.82" cy="133.23" r="1.45"/><circle cx="562.98" cy="134.07" r="1.45"/><circle cx="563.13" cy="133.52" r="1.45"/><circle cx="563.29" cy="134.21" r="1.45"/><circle cx="563.45" cy="134" r="1.45"/><circle cx="563.61" cy="133.7" r="1.45"/><circle cx="563.77" cy="134.47" r="1.45"/><circle cx="563.93" cy="134.82" r="1.45"/><circle cx="564.09" cy="133.76" r="1.45"/><circle cx="564.25" cy="135.42" r="1.45"/><circle cx="564.41" cy="136.15" r="1.45"/><circle cx="564.57" cy="136.17" r="1.45"/><circle cx="564.73" cy="135.01" r="1.45"/><circle cx="564.89" cy="136.24" r="1.45"/><circle cx="565.05" cy="136.46" r="1.45"/><circle cx="565.21" cy="137.07" r="1.45"/><circle cx="565.37" cy="136.79" r="1.45"/><circle cx="565.53" cy="137.1" r="1.45"/><circle cx="565.69" cy="137.24" r="1.45"/><circle cx="565.84" cy="137.59" r="1.45"/><circle cx="566" cy="138.3" r="1.45"/><circle cx="566.16" cy="137.52" r="1.45"/><circle cx="566.32" cy="137.82" r="1.45"/><circle cx="566.48" cy="138.75" r="1.45"/><circle cx="566.64" cy="138.07" r="1.45"/><circle cx="566.8" cy="138.22" r="1.45"/><circle cx="566.96" cy="138.81" r="1.45"/><circle cx="567.12" cy="137.95" r="1.45"/><circle cx="567.28" cy="139.08" r="1.45"/><circle cx="567.44" cy="137.82" r="1.45"/><circle cx="567.6" cy="139.01" r="1.45"/><circle cx="567.76" cy="138.94" r="1.45"/><circle cx="567.92" cy="139.42" r="1.45"/><circle cx="568.08" cy="138.59" r="1.45"/><circle cx="568.24" cy="139.06" r="1.45"/><circle cx="568.4" cy="139.86" r="1.45"/><circle cx="568.55" cy="139.34" r="1.45"/><circle cx="568.71" cy="139.84" r="1.45"/><circle cx="568.87" cy="140.23" r="1.45"/><circle cx="569.03" cy="140.22" r="1.45"/><circle cx="569.19" cy="140.21" r="1.45"/><circle cx="569.35" cy="141.04" r="1.45"/><circle cx="569.51" cy="141.79" r="1.45"/><circle cx="569.67" cy="141.11" r="1.45"/><circle cx="569.83" cy="141.04" r="1.45"/><circle cx="569.99" cy="142.28" r="1.45"/><circle cx="570.15" cy="141.26" r="1.45"/><circle cx="570.31" cy="141.51" r="1.45"/><circle cx="570.47" cy="141.02" r="1.45"/><circle cx="570.63" cy="141.08" r="1.45"/><circle cx="570.79" cy="141.18" r="1.45"/><circle cx="570.95" cy="141.95" r="1.45"/><circle cx="571.11" cy="141.56" r="1.45"/><circle cx="571.26" cy="142.07" r="1.45"/><circle cx="571.42" cy="142.43" r="1.45"/><circle cx="571.58" cy="142.39" r="1.45"/><circle cx="571.74" cy="142.76" r="1.45"/><circle cx="571.9" cy="142.67" r="1.45"/><circle cx="572.06" cy="142.48" r="1.45"/><circle cx="572.22" cy="143.36" r="1.45"/><circle cx="572.38" cy="143.13" r="1.45"/><circle cx="572.54" cy="143.3" r="1.45"/><circle cx="572.7" cy="143.17" r="1.45"/><circle cx="572.86" cy="142.91" r="1.45"/><circle cx="573.02" cy="143.14" r="1.45"/><circle cx="573.18" cy="144.61" r="1.45"/><circle cx="573.34" cy="143.54" r="1.45"/><circle cx="573.5" cy="143.61" r="1.45"/><circle cx="573.66" cy="144.08" r="1.45"/><circle cx="573.81" cy="143.72" r="1.45"/><circle cx="573.97" cy="143.4" r="1.45"/><circle cx="574.13" cy="144.61" r="1.45"/><circle cx="574.29" cy="144.02" r="1.45"/><circle cx="574.45" cy="144.15" r="1.45"/><circle cx="574.61" cy="144.69" r="1.45"/><circle cx="574.77" cy="144.55" r="1.45"/><circle cx="574.93" cy="144.31" r="1.45"/><circle cx="575.09" cy="143.36" r="1.45"/><circle cx="575.25" cy="143.41" r="1.45"/><circle cx="575.41" cy="143.98" r="1.45"/><circle cx="575.57" cy="144.59" r="1.45"/><circle cx="575.73" cy="144.82" r="1.45"/><circle cx="575.89" cy="144.19" r="1.45"/><circle cx="576.05" cy="145.44" r="1.45"/><circle cx="576.21" cy="145.15" r="1.45"/><circle cx="576.37" cy="145.91" r="1.45"/><circle cx="576.52" cy="146.08" r="1.45"/><circle cx="576.68" cy="145.47" r="1.45"/><circle cx="576.84" cy="146.55" r="1.45"/><circle cx="577" cy="146.16" r="1.45"/><circle cx="577.16" cy="146.44" r="1.45"/><circle cx="577.32" cy="146.08" r="1.45"/><circle cx="577.48" cy="145.87" r="1.45"/><circle cx="577.64" cy="146.72" r="1.45"/><circle cx="577.8" cy="146.77" r="1.45"/><circle cx="577.96" cy="147.39" r="1.45"/><circle cx="578.12" cy="146.87" r="1.45"/><circle cx="578.28" cy="147.35" r="1.45"/><circle cx="578.44" cy="148.28" r="1.45"/><circle cx="578.6" cy="148.01" r="1.45"/><circle cx="578.76" cy="148.23" r="1.45"/><circle cx="578.92" cy="148.43" r="1.45"/><circle cx="579.08" cy="147.36" r="1.45"/><circle cx="579.23" cy="148.66" r="1.45"/><circle cx="579.39" cy="147.92" r="1.45"/><circle cx="579.55" cy="148.05" r="1.45"/><circle cx="579.71" cy="148.5" r="1.45"/><circle cx="579.87" cy="148.64" r="1.45"/><circle cx="580.03" cy="148.96" r="1.45"/><circle cx="580.19" cy="150.3" r="1.45"/><circle cx="580.35" cy="150.05" r="1.45"/><circle cx="580.51" cy="149.6" r="1.45"/><circle cx="580.67" cy="149.76" r="1.45"/><circle cx="580.83" cy="150.47" r="1.45"/><circle cx="580.99" cy="149.2" r="1.45"/><circle cx="581.15" cy="149.97" r="1.45"/><circle cx="581.31" cy="149.77" r="1.45"/><circle cx="581.47" cy="150.01" r="1.45"/><circle cx="581.63" cy="150.61" r="1.45"/><circle cx="581.78" cy="149.96" r="1.45"/><circle cx="581.94" cy="150.86" r="1.45"/><circle cx="582.1" cy="150.01" r="1.45"/><circle cx="582.26" cy="150.6" r="1.45"/><circle cx="582.42" cy="151.25" r="1.45"/><circle cx="582.58" cy="151.12" r="1.45"/><circle cx="582.74" cy="150.65" r="1.45"/><circle cx="582.9" cy="151.61" r="1.45"/><circle cx="583.06" cy="150.56" r="1.45"/><circle cx="583.22" cy="151.27" r="1.45"/><circle cx="583.38" cy="152.01" r="1.45"/><circle cx="583.54" cy="151.76" r="1.45"/><circle cx="583.7" cy="151.87" r="1.45"/><circle cx="583.86" cy="151.72" r="1.45"/><circle cx="584.02" cy="151.34" r="1.45"/><circle cx="584.18" cy="151.83" r="1.45"/><circle cx="584.34" cy="152.27" r="1.45"/><circle cx="584.49" cy="152.44" r="1.45"/><circle cx="584.65" cy="152.34" r="1.45"/><circle cx="584.81" cy="151.83" r="1.45"/><circle cx="584.97" cy="152.45" r="1.45"/><circle cx="585.13" cy="152.78" r="1.45"/><circle cx="585.29" cy="152.78" r="1.45"/><circle cx="585.45" cy="151.85" r="1.45"/><circle cx="585.61" cy="152.39" r="1.45"/><circle cx="585.77" cy="152.61" r="1.45"/><circle cx="585.93" cy="153" r="1.45"/><circle cx="586.09" cy="152.58" r="1.45"/><circle cx="586.25" cy="153.15" r="1.45"/><circle cx="586.41" cy="152.65" r="1.45"/><circle cx="586.57" cy="152.9" r="1.45"/><circle cx="586.73" cy="153.38" r="1.45"/><circle cx="586.89" cy="154.6" r="1.45"/><circle cx="587.05" cy="155.07" r="1.45"/><circle cx="587.2" cy="155.53" r="1.45"/><circle cx="587.36" cy="156.15" r="1.45"/><circle cx="587.52" cy="155.08" r="1.45"/><circle cx="587.68" cy="155.56" r="1.45"/><circle cx="587.84" cy="157.44" r="1.45"/><circle cx="588" cy="157.47" r="1.45"/><circle cx="588.16" cy="157.51" r="1.45"/><circle cx="588.32" cy="157.27" r="1.45"/><circle cx="588.48" cy="157.29" r="1.45"/><circle cx="588.64" cy="157.43" r="1.45"/><circle cx="588.8" cy="158.09" r="1.45"/><circle cx="588.96" cy="158.11" r="1.45"/><circle cx="589.12" cy="158.87" r="1.45"/><circle cx="589.28" cy="160.03" r="1.45"/><circle cx="589.44" cy="159.34" r="1.45"/><circle cx="589.6" cy="160.58" r="1.45"/><circle cx="589.75" cy="160.47" r="1.45"/><circle cx="589.91" cy="161.24" r="1.45"/><circle cx="590.07" cy="160.83" r="1.45"/><circle cx="590.23" cy="161.1" r="1.45"/><circle cx="590.39" cy="161.61" r="1.45"/><circle cx="590.55" cy="161.6" r="1.45"/><circle cx="590.71" cy="162.04" r="1.45"/><circle cx="590.87" cy="162.44" r="1.45"/><circle cx="591.03" cy="161.6" r="1.45"/><circle cx="591.19" cy="161.1" r="1.45"/><circle cx="591.35" cy="162.36" r="1.45"/><circle cx="591.51" cy="161.61" r="1.45"/><circle cx="591.67" cy="161.24" r="1.45"/><circle cx="591.83" cy="162.28" r="1.45"/><circle cx="591.99" cy="162.36" r="1.45"/><circle cx="592.15" cy="162.99" r="1.45"/><circle cx="592.31" cy="163.19" r="1.45"/><circle cx="592.46" cy="163.2" r="1.45"/><circle cx="592.62" cy="164.11" r="1.45"/><circle cx="592.78" cy="163.03" r="1.45"/><circle cx="592.94" cy="163.56" r="1.45"/><circle cx="593.1" cy="163.85" r="1.45"/><circle cx="593.26" cy="164.51" r="1.45"/><circle cx="593.42" cy="164.01" r="1.45"/><circle cx="593.58" cy="164.2" r="1.45"/><circle cx="593.74" cy="163.95" r="1.45"/><circle cx="593.9" cy="164.12" r="1.45"/><circle cx="594.06" cy="165.05" r="1.45"/><circle cx="594.22" cy="165.35" r="1.45"/><circle cx="594.38" cy="165.43" r="1.45"/><circle cx="594.54" cy="165.64" r="1.45"/><circle cx="594.7" cy="166.05" r="1.45"/><circle cx="594.86" cy="165.95" r="1.45"/><circle cx="595.01" cy="166.39" r="1.45"/><circle cx="595.17" cy="166.9" r="1.45"/><circle cx="595.33" cy="166.82" r="1.45"/><circle cx="595.49" cy="167.28" r="1.45"/><circle cx="595.65" cy="167.2" r="1.45"/><circle cx="595.81" cy="167.67" r="1.45"/><circle cx="595.97" cy="167.08" r="1.45"/><circle cx="596.13" cy="167.66" r="1.45"/><circle cx="596.29" cy="168.01" r="1.45"/><circle cx="596.45" cy="167.42" r="1.45"/><circle cx="596.61" cy="168.5" r="1.45"/><circle cx="596.77" cy="168.34" r="1.45"/><circle cx="596.93" cy="169.17" r="1.45"/><circle cx="597.09" cy="168.9" r="1.45"/><circle cx="597.25" cy="170.02" r="1.45"/><circle cx="597.41" cy="170.12" r="1.45"/><circle cx="597.57" cy="169.71" r="1.45"/><circle cx="597.72" cy="170.41" r="1.45"/><circle cx="597.88" cy="170.35" r="1.45"/><circle cx="598.04" cy="170.62" r="1.45"/><circle cx="598.2" cy="170.81" r="1.45"/><circle cx="598.36" cy="170.48" r="1.45"/><circle cx="598.52" cy="170.65" r="1.45"/><circle cx="598.68" cy="170.73" r="1.45"/><circle cx="598.84" cy="169.95" r="1.45"/><circle cx="599" cy="170.78" r="1.45"/><circle cx="599.16" cy="171.08" r="1.45"/><circle cx="599.32" cy="171.29" r="1.45"/><circle cx="599.48" cy="171.59" r="1.45"/><circle cx="599.64" cy="171.12" r="1.45"/><circle cx="599.8" cy="172.06" r="1.45"/><circle cx="599.96" cy="171.22" r="1.45"/><circle cx="600.12" cy="171.75" r="1.45"/><circle cx="600.28" cy="171.44" r="1.45"/><circle cx="600.43" cy="171.65" r="1.45"/><circle cx="600.59" cy="172.05" r="1.45"/><circle cx="600.75" cy="172.18" r="1.45"/><circle cx="600.91" cy="172.12" r="1.45"/><circle cx="601.07" cy="171.98" r="1.45"/><circle cx="601.23" cy="171.58" r="1.45"/><circle cx="601.39" cy="172.19" r="1.45"/><circle cx="601.55" cy="172.62" r="1.45"/><circle cx="601.71" cy="172.08" r="1.45"/><circle cx="601.87" cy="172.76" r="1.45"/><circle cx="602.03" cy="172.85" r="1.45"/><circle cx="602.19" cy="172.91" r="1.45"/><circle cx="602.35" cy="172.43" r="1.45"/><circle cx="602.51" cy="172.91" r="1.45"/><circle cx="602.67" cy="172.85" r="1.45"/><circle cx="602.83" cy="173.12" r="1.45"/><circle cx="602.99" cy="174.12" r="1.45"/><circle cx="603.14" cy="173.16" r="1.45"/><circle cx="603.3" cy="173.79" r="1.45"/><circle cx="603.46" cy="174.08" r="1.45"/><circle cx="603.62" cy="173.38" r="1.45"/><circle cx="603.78" cy="173.87" r="1.45"/><circle cx="603.94" cy="173.54" r="1.45"/><circle cx="604.1" cy="174.34" r="1.45"/><circle cx="604.26" cy="173.69" r="1.45"/><circle cx="604.42" cy="174.32" r="1.45"/><circle cx="604.58" cy="175.19" r="1.45"/><circle cx="604.74" cy="174.85" r="1.45"/><circle cx="604.9" cy="173.77" r="1.45"/><circle cx="605.06" cy="173.57" r="1.45"/><circle cx="605.22" cy="173.1" r="1.45"/><circle cx="605.38" cy="174" r="1.45"/><circle cx="605.54" cy="173.96" r="1.45"/><circle cx="605.69" cy="174.11" r="1.45"/><circle cx="605.85" cy="174.14" r="1.45"/><circle cx="606.01" cy="173.88" r="1.45"/><circle cx="606.17" cy="173.71" r="1.45"/><circle cx="606.33" cy="174.14" r="1.45"/><circle cx="606.49" cy="173.61" r="1.45"/><circle cx="606.65" cy="174.04" r="1.45"/><circle cx="606.81" cy="174.29" r="1.45"/><circle cx="606.97" cy="174.93" r="1.45"/><circle cx="607.13" cy="175.07" r="1.45"/><circle cx="607.29" cy="175.22" r="1.45"/><circle cx="607.45" cy="175.03" r="1.45"/><circle cx="607.61" cy="174.6" r="1.45"/><circle cx="607.77" cy="174.49" r="1.45"/><circle cx="607.93" cy="174.66" r="1.45"/><circle cx="608.09" cy="174.26" r="1.45"/><circle cx="608.25" cy="174.91" r="1.45"/><circle cx="608.4" cy="174.68" r="1.45"/><circle cx="608.56" cy="174.59" r="1.45"/><circle cx="608.72" cy="174.78" r="1.45"/><circle cx="608.88" cy="174.56" r="1.45"/>
</g>
</g>
<g id="panel-c">
<text x="70.8" y="262.4" font-size="12.4" font-weight="bold">c</text>
<path d="M172.6 262.7V384.4M172.6 275H165.4M172.6 291.8H165.4M172.6 310.2H165.4M172.6 328.6H165.4M172.6 347H165.4M172.6 365.4H165.4M172.6 384H165.4" stroke="#222" stroke-width="0.95" fill="none"/>
<text x="159.1" y="279.6" font-size="12" text-anchor="end" fill="#111">300</text>
<text x="159.1" y="296.4" font-size="12" text-anchor="end" fill="#111">250</text>
<text x="159.1" y="314.8" font-size="12" text-anchor="end" fill="#111">200</text>
<text x="159.1" y="333.2" font-size="12" text-anchor="end" fill="#111">150</text>
<text x="159.1" y="351.6" font-size="12" text-anchor="end" fill="#111">100</text>
<text x="159.1" y="370" font-size="12" text-anchor="end" fill="#111">50</text>
<text x="159.1" y="388.6" font-size="12" text-anchor="end" fill="#111">0</text>
<text x="126.5" y="323.4" font-size="12" text-anchor="middle" fill="#111" transform="rotate(-90 126.5 323.4)">Height</text>
<path d="M188.24 382V380.7H189.06V382M190.04 382V380.76H190.9V382M188.65 380.7V379.62H190.47V380.76M191.51 382V381.19H192.19V382M193.21 382V381.12H194.3V382M191.85 381.19V380.17H193.76V381.12M189.56 379.62V377.5H192.81V380.17M195.3 382V380.28H196.32V382M197.25 382V381.04H197.98V382M198.78 382V380.95H199.49V382M197.61 381.04V380.08H199.13V380.95M195.81 380.28V379.3H198.37V380.08M200.26 382V380.51H201.32V382M202.73 382V381.01H204.08V382M200.79 380.51V379.86H203.4V381.01M205.09 382V381.08H205.89V382M206.77 382V380.74H207.89V382M205.49 381.08V379.75H207.33V380.74M202.1 379.86V378.5H206.41V379.75M197.09 379.3V377H204.25V378.5M191.18 377.5V374.5H200.67V377M208.84 382V379.33H209.61V382M211.2 382V381.23H211.96V382M210.42 382V380.27H211.58V381.23M209.22 379.33V377.6H211V380.27M212.87 382V380.71H213.68V382M214.48 382V381.2H215.59V382M213.27 380.71V379.95H215.04V381.2M216.61 382V380.81H217.49V382M218.35 382V381.33H219.1V382M217.05 380.81V380.26H218.72V381.33M214.16 379.95V378.98H217.89V380.26M220.16 382V380.66H221.18V382M222.12 382V380.72H223.03V382M220.67 380.66V379.74H222.57V380.72M224.18 382V380.78H226.09V382M228.57 382V381.26H229.27V382M227.7 382V380.25H228.92V381.26M225.14 380.78V379.24H228.31V380.25M221.62 379.74V377.68H226.72V379.24M216.02 378.98V375.6H224.17V377.68M210.11 377.6V374.5H220.1V375.6M195.93 374.5V361.2H215.1V374.5M230.31 382V380.71H231.03V382M231.68 382V380.62H232.33V382M230.67 380.71V379.91H232.01V380.62M233.13 382V380.55H234.22V382M231.34 379.91V378.7H233.67V380.55M236.48 382V379.99H237.43V382M235.41 382V378.63H236.95V379.99M238.22 382V381.39H239.11V382M240.08 382V381.21H240.8V382M238.66 381.39V380.82H240.44V381.21M241.68 382V380.48H242.72V382M239.55 380.82V378.95H242.2V380.48M236.18 378.63V376.63H240.88V378.95M232.51 378.7V373.6H238.53V376.63M244.02 382V381.16H245.35V382M246.49 382V381.21H247.51V382M244.69 381.16V380.25H247V381.21M248.6 382V381.34H249.89V382M250.99 382V381.19H251.93V382M249.24 381.34V380.46H251.46V381.19M245.84 380.25V378.27H250.35V380.46M254.48 382V381.07H255.35V382M253.18 382V380.65H254.92V381.07M256.2 382V381.04H257.14V382M258.03 382V381.28H258.99V382M256.67 381.04V380.5H258.51V381.28M254.05 380.65V379.14H257.59V380.5M259.95 382V380.96H260.64V382M260.3 380.96V379.91H261.34V382M262.15 382V379.87H263.07V382M260.82 379.91V378.79H262.61V379.87M255.82 379.14V375.19H261.71V378.79M248.1 378.27V372.2H258.76V375.19M235.52 373.6V368.6H253.43V372.2M264.13 382V380.92H265.08V382M265.89 382V380.93H266.84V382M264.61 380.92V379.53H266.36V380.93M267.77 382V380.42H268.49V382M269.5 382V380.62H270.5V382M268.13 380.42V379.28H270V380.62M265.48 379.53V377.96H269.06V379.28M271.34 382V379.61H272.17V382M272.95 382V379.15H273.78V382M273.36 379.15V378.01H274.8V382M271.75 379.61V376.34H274.08V378.01M267.27 377.96V372.4H272.92V376.34M275.9 382V379.02H276.81V382M277.67 382V379.35H278.46V382M276.35 379.02V376.76H278.06V379.35M279.34 382V378.07H280.28V382M282.32 382V380.33H283.06V382M281.31 382V378.93H282.69V380.33M279.81 378.07V376.51H282V378.93M277.21 376.76V374.2H280.9V376.51M283.94 382V381.13H285.1V382M286.44 382V381.29H287.66V382M284.52 381.13V380.28H287.05V381.29M288.63 382V380.41H289.42V382M290.03 382V380.84H290.69V382M289.03 380.41V379.55H290.36V380.84M285.78 380.28V378.38H289.69V379.55M291.44 382V380.66H292.23V382M293.15 382V380.6H294.11V382M291.83 380.66V378.74H293.63V380.6M294.95 382V379.26H295.96V382M292.73 378.74V375.92H295.46V379.26M287.74 378.38V373.2H294.09V375.92M279.06 374.2V370H290.92V373.2M270.1 372.4V366.4H284.99V370M244.47 368.6V359.3H277.54V366.4M297.23 382V380.19H298.38V382M299.25 382V380.85H299.95V382M299.6 380.85V380.34H300.72V382M297.81 380.19V378.18H300.16V380.34M301.6 382V379.94H302.48V382M303.36 382V380.35H304.12V382M302.04 379.94V378.19H303.74V380.35M298.98 378.18V376.31H302.89V378.19M304.86 382V380.67H305.73V382M306.67 382V380.9H307.47V382M305.29 380.67V379.96H307.07V380.9M308.12 382V380.51H308.78V382M308.45 380.51V379.18H309.53V382M306.18 379.96V376.79H308.99V379.18M300.94 376.31V373.4H307.59V376.79M310.6 382V381.07H311.82V382M313.13 382V381.13H314.44V382M311.21 381.07V379.9H313.79V381.13M315.42 382V381.12H316.23V382M317.28 382V380.9H318.37V382M315.83 381.12V380.19H317.82V380.9M320.42 382V381.1H321.2V382M319.44 382V380.34H320.81V381.1M316.82 380.19V379.46H320.12V380.34M312.5 379.9V378.25H318.47V379.46M322.05 382V381.34H323.1V382M322.58 381.34V380.71H324.4V382M325.67 382V381.15H326.59V382M326.13 381.15V380.61H327.53V382M323.49 380.71V379.43H326.83V380.61M328.75 382V380.93H329.83V382M330.6 382V380.84H331.43V382M329.29 380.93V380.31H331.01V380.84M333.32 382V381.22H334.1V382M332.39 382V380.4H333.71V381.22M330.15 380.31V379.49H333.05V380.4M325.16 379.43V378.14H331.6V379.49M315.49 378.25V372.5H328.38V378.14M304.26 373.4V368.3H321.93V372.5M334.86 382V380.16H335.76V382M337.91 382V381.4H338.75V382M336.8 382V380.61H338.33V381.4M335.31 380.16V379.39H337.56V380.61M339.46 382V380.9H340.17V382M341.07 382V380.44H342.24V382M339.82 380.9V379.23H341.66V380.44M336.44 379.39V378.02H340.74V379.23M344.5 382V380.93H345.4V382M343.45 382V379.73H344.95V380.93M346.29 382V381.3H347.08V382M346.68 381.3V380.54H348V382M349.22 382V381.15H350.54V382M347.34 380.54V379.96H349.88V381.15M344.2 379.73V377.28H348.61V379.96M338.59 378.02V373.4H346.41V377.28M351.76 382V381.39H352.74V382M352.25 381.39V380.55H353.78V382M354.72 382V380.67H355.38V382M355.05 380.67V380.09H356.22V382M353.01 380.55V378.72H355.64V380.09M357.4 382V381.06H358.62V382M359.52 382V380.85H360.26V382M358.01 381.06V380.1H359.89V380.85M360.99 382V380.9H361.92V382M362.83 382V381.07H363.58V382M361.46 380.9V379.61H363.21V381.07M358.95 380.1V378.26H362.33V379.61M354.32 378.72V374H360.64V378.26M364.42 382V381.18H365.07V382M364.74 381.18V379.9H365.96V382M366.85 382V380.6H367.51V382M368.45 382V380.75H369.51V382M367.18 380.6V379.29H368.98V380.75M365.35 379.9V376.91H368.08V379.29M370.56 382V379.76H371.64V382M372.84 382V379.86H374.02V382M371.1 379.76V377.87H373.43V379.86M374.92 382V380.32H375.81V382M376.89 382V380.5H378.01V382M375.37 380.32V379.65H377.45V380.5M372.26 377.87V376.1H376.41V379.65M366.72 376.91V373.4H374.34V376.1M357.48 374V370H370.53V373.4M342.5 373.4V367.5H364V370M313.1 368.3V355.3H353.25V367.5M261.01 359.3V341.3H333.17V355.3M379.19 382V380.73H379.97V382M381.01 382V380.24H382.29V382M379.58 380.73V378.93H381.65V380.24M383.35 382V381.16H384.25V382M385.11 382V381.37H385.9V382M383.8 381.16V380.76H385.51V381.37M386.8 382V381.2H387.76V382M388.62 382V381.11H389.41V382M387.28 381.2V380.59H389.01V381.11M384.65 380.76V378.81H388.14V380.59M380.61 378.93V374H386.4V378.81M390.26 382V381.15H391.05V382M391.87 382V381.17H392.61V382M390.66 381.15V380.36H392.24V381.17M393.2 382V381.11H393.87V382M394.8 382V381.2H395.94V382M393.54 381.11V380.73H395.37V381.2M391.45 380.36V379.39H394.45V380.73M397.04 382V380.45H398.21V382M399.28 382V380.52H400.25V382M397.63 380.45V379.08H399.77V380.52M392.95 379.39V376.25H398.7V379.08M401.18 382V380.09H402.04V382M402.83 382V379.3H403.58V382M401.61 380.09V377.84H403.21V379.3M404.26 382V381.16H404.99V382M404.63 381.16V380.54H405.89V382M407.92 382V381.29H408.8V382M406.88 382V380.73H408.36V381.29M405.26 380.54V379.27H407.62V380.73M402.41 377.84V375.87H406.44V379.27M395.82 376.25V373H404.43V375.87M383.51 374V368.7H400.12V373M409.62 382V379.86H410.55V382M411.34 382V379.69H412.08V382M410.09 379.86V378.57H411.71V379.69M414.51 382V381.35H415.37V382M413.33 382V380.94H414.94V381.35M416.47 382V380.92H417.49V382M414.13 380.94V379.36H416.98V380.92M410.9 378.57V376.43H415.56V379.36M418.35 382V381.11H419.25V382M418.8 381.11V380.34H420.31V382M421.48 382V381.16H422.53V382M423.48 382V381.04H424.16V382M422.01 381.16V380.66H423.82V381.04M419.56 380.34V379.46H422.91V380.66M426.06 382V381.38H426.94V382M424.97 382V380.67H426.5V381.38M428.23 382V380.87H430.59V382M425.73 380.67V379.51H429.41V380.87M421.24 379.46V377.74H427.57V379.51M413.23 376.43V373.4H424.4V377.74M432.42 382V379.98H433.36V382M434.32 382V379.43H435.23V382M432.89 379.98V377.61H434.77V379.43M436.16 382V381.37H436.97V382M436.57 381.37V380.72H437.87V382M438.81 382V381.09H439.49V382M439.15 381.09V380.19H440.2V382M437.22 380.72V378.87H439.67V380.19M433.83 377.61V375.2H438.45V378.87M441.1 382V380.49H441.89V382M443.31 382V381.26H443.98V382M442.61 382V380.37H443.65V381.26M441.49 380.49V379.38H443.13V380.37M444.94 382V379.07H446.01V382M442.31 379.38V377.58H445.48V379.07M447.91 382V380.95H448.63V382M447.06 382V379.97H448.27V380.95M449.47 382V381.08H450.27V382M451.17 382V380.77H452.34V382M449.87 381.08V380H451.75V380.77M447.67 379.97V378.91H450.81V380M443.89 377.58V375.4H449.24V378.91M453.34 382V380.95H454V382M453.67 380.95V379.66H454.72V382M455.37 382V380.73H456.06V382M455.72 380.73V379.45H456.89V382M454.2 379.66V378.37H456.3V379.45M458.87 382V381.22H459.76V382M457.89 382V380.72H459.32V381.22M460.84 382V380.62H461.91V382M458.6 380.72V379.32H461.37V380.62M455.25 378.37V375.2H459.99V379.32M446.57 375.4V372.6H457.62V375.2M436.14 375.2V370.9H452.09V372.6M418.81 373.4V367.5H444.12V370.9M391.82 368.7V359H431.47V367.5M462.78 382V380.57H463.47V382M463.12 380.57V379.94H464.24V382M465.32 382V381.2H466.33V382M467.23 382V380.95H468.28V382M465.82 381.2V379.98H467.75V380.95M463.68 379.94V377.32H466.79V379.98M469.24 382V380.61H470.16V382M471.08 382V381.09H471.98V382M469.7 380.61V379.92H471.53V381.09M473.96 382V380.83H474.64V382M473.06 382V380.28H474.3V380.83M470.61 379.92V378.79H473.68V380.28M465.24 377.32V375H472.15V378.79M475.42 382V381.01H476.08V382M475.75 381.01V380.24H476.93V382M477.93 382V380.54H478.71V382M479.41 382V380.61H480.09V382M478.32 380.54V379.65H479.75V380.61M476.34 380.24V378.32H479.03V379.65M480.94 382V379.5H481.72V382M482.51 382V378.78H483.6V382M481.33 379.5V376.7H483.05V378.78M477.69 378.32V374.6H482.19V376.7M468.69 375V370.9H479.94V374.6M484.6 382V379.89H485.56V382M486.42 382V379.19H487.07V382M485.08 379.89V377.92H486.74V379.19M489.01 382V380.19H489.67V382M488.02 382V378.39H489.34V380.19M485.91 377.92V375.81H488.68V378.39M490.49 382V380.77H491.41V382M492.18 382V381.01H493.21V382M490.95 380.77V379.44H492.69V381.01M494.51 382V379.85H495.8V382M497.01 382V380.14H498.09V382M495.15 379.85V378.85H497.55V380.14M491.82 379.44V377.59H496.35V378.85M487.3 375.81V373H494.09V377.59M499.05 382V379.92H499.75V382M500.43 382V380.52H501.13V382M499.4 379.92V378.91H500.78V380.52M501.9 382V378.52H502.79V382M500.09 378.91V376.2H502.34V378.52M503.81 382V380.77H505.05V382M507.34 382V381.03H508.25V382M506.28 382V380.19H507.8V381.03M504.43 380.77V378.96H507.04V380.19M509.21 382V381.27H510.4V382M509.8 381.27V380.93H512.12V382M515 382V381.19H515.67V382M513.91 382V380.76H515.33V381.19M510.96 380.93V379.2H514.62V380.76M505.73 378.96V376.2H512.79V379.2M501.22 376.2V373.4H509.26V376.2M490.69 373V368.3H505.24V373.4M474.31 370.9V363.6H497.97V368.3M516.56 382V380.6H517.5V382M518.26 382V380.77H518.98V382M517.03 380.6V379.63H518.62V380.77M519.67 382V380.75H520.4V382M521.17 382V380.97H521.85V382M520.03 380.75V380.11H521.51V380.97M517.82 379.63V378.16H520.77V380.11M522.64 382V381.08H523.51V382M524.34 382V381.2H525.24V382M523.07 381.08V380.42H524.79V381.2M527.73 382V381.35H528.5V382M526.52 382V380.8H528.12V381.35M529.35 382V380.82H530.42V382M527.32 380.8V379.93H529.88V380.82M523.93 380.42V377.99H528.6V379.93M519.3 378.16V372H526.27V377.99M531.46 382V380.15H532.39V382M533.23 382V381.16H534.07V382M534.79 382V381.01H535.47V382M533.65 381.16V380.45H535.13V381.01M531.93 380.15V379.27H534.39V380.45M536.48 382V381.02H537.48V382M538.33 382V380.68H539.17V382M536.98 381.02V379.71H538.75V380.68M533.16 379.27V377.57H537.86V379.71M540.01 382V379.63H541V382M540.5 379.63V378.71H542.14V382M543.05 382V380.84H543.74V382M543.39 380.84V379.39H544.56V382M541.32 378.71V377.14H543.98V379.39M535.51 377.57V372.6H542.65V377.14M522.78 372V365H539.08V372.6M545.64 382V378.68H546.94V382M547.98 382V380.67H548.65V382M548.32 380.67V378.8H549.34V382M550.95 382V380.84H551.61V382M550.21 382V378.95H551.28V380.84M548.83 378.8V377.08H550.75V378.95M546.29 378.68V374H549.79V377.08M552.75 382V380.68H554.12V382M555.06 382V380.14H555.96V382M553.44 380.68V379.24H555.51V380.14M556.92 382V380.78H557.9V382M558.82 382V380.77H559.59V382M557.41 380.78V380.14H559.21V380.77M554.47 379.24V377.5H558.31V380.14M560.46 382V380.61H561.31V382M560.88 380.61V379.19H562.21V382M563.33 382V379.3H564.56V382M561.55 379.19V377.62H563.95V379.3M556.39 377.5V375.6H562.75V377.62M565.55 382V380.66H566.35V382M567.27 382V379.93H568.33V382M565.95 380.66V379.01H567.8V379.93M569.51 382V381.35H570.45V382M571.31 382V381.18H572.29V382M569.98 381.35V380.61H571.8V381.18M573.09 382V380.84H573.76V382M573.43 380.84V379.44H574.64V382M570.89 380.61V378.39H574.03V379.44M566.88 379.01V376.2H572.46V378.39M559.57 375.6V372.6H569.67V376.2M548.04 374V364.6H564.62V372.6M530.93 365V358.2H556.33V364.6M486.14 363.6V354H543.63V358.2M411.64 359V330.4H514.89V354M297.09 341.3V315.7H463.26V330.4M205.52 361.2V268H380.18V315.7" stroke="#000" stroke-width="1" fill="none" stroke-linejoin="miter"/>
<path d="M187.9 380.71L188.65 379.77L189.4 379.75L190.15 379.94L190.9 381.39L191.65 381.44L192.4 380.62L193.15 380.87L193.9 379.4L194.65 381.23L195.4 381.66L196.15 379.71L196.9 380.64L197.65 380.49L198.4 381.46L199.15 381.75L199.9 380.77L200.65 379.94L201.4 380.14L202.15 380.15L202.9 380.72L203.65 380.89L204.4 381.52L205.15 379.99L205.9 381.16L206.65 381.42L207.4 380.41L208.15 379.88L208.9 379.41L209.65 381.36L210.4 379.69L211.15 381.31L211.9 379.95L212.65 379.68L213.4 380.1L214.15 379.51L214.9 381.99L215.65 381.28L216.4 379.98L217.15 379.95L217.9 381.82L218.65 380.21L219.4 380.95L220.15 380.39L220.9 379.46L221.65 381.18L222.4 380.89L223.15 380.55L223.9 381.58L224.65 381.41L225.4 380.24L226.15 380.78L226.9 379.85L227.65 380.56L228.4 380.51L229.15 381.13L229.9 379.85L230.65 379.5L231.4 380.28L232.15 379.35L232.9 380.01L233.65 381.79L234.4 380.03L235.15 379.71L235.9 380.27L236.65 381.25L237.4 379.36L238.15 380.34L238.9 381.68L239.65 381.38L240.4 379.45L241.15 379.94L241.9 379.71L242.65 379.39L243.4 380.44L244.15 379.67L244.9 380L245.65 381.1L246.4 379.85L247.15 381.22L247.9 380.34L248.65 379.91L249.4 380.23L250.15 379.41L250.9 381L251.65 381.48L252.4 380.1L253.15 381.78L253.9 381.16L254.65 381.88L255.4 379.93L256.15 379.54L256.9 380.36L257.65 380.34L258.4 380.64L259.15 379.73L259.9 380.58L260.65 381.1L261.4 379.55L262.15 380.44L262.9 380.87L263.65 380.79L264.4 379.36L265.15 380.28L265.9 380.39L266.65 380.64L267.4 380.57L268.15 379.98L268.9 380.24L269.65 380.83L270.4 381.1L271.15 380.57L271.9 381.88L272.65 380.86L273.4 381.38L274.15 380.98L274.9 380.42L275.65 381.54L276.4 380.33L277.15 379.4L277.9 380.67L278.65 380.27L279.4 379.7L280.15 379.92L280.9 379.93L281.65 380.77L282.4 379.95L283.15 381.06L283.9 380.99L284.65 381.54L285.4 380.2L286.15 381.69L286.9 381.23L287.65 381.15L288.4 381.53L289.15 380.98L289.9 380.82L290.65 380.07L291.4 380.74L292.15 379.97L292.9 379.78L293.65 379.64L294.4 379.49L295.15 381.2L295.9 380.52L296.65 380.6L297.4 381.64L298.15 379.44L298.9 380.67L299.65 380.36L300.4 379.98L301.15 380.18L301.9 381.35L302.65 381.54L303.4 380.44L304.15 380.98L304.9 381.46L305.65 380.32L306.4 379.92L307.15 379.34L307.9 381.84L308.65 379.66L309.4 380.43L310.15 380.37L310.9 381.97L311.65 381.23L312.4 379.41L313.15 381.27L313.9 379.62L314.65 379.37L315.4 380.6L316.15 380.13L316.9 381.56L317.65 380.36L318.4 381.37L319.15 380.35L319.9 380.77L320.65 379.7L321.4 379.59L322.15 379.98L322.9 379.62L323.65 379.35L324.4 379.69L325.15 380.04L325.9 380.6L326.65 380L327.4 379.47L328.15 380.14L328.9 379.79L329.65 381.99L330.4 381.64L331.15 380.42L331.9 380.37L332.65 380.79L333.4 380.98L334.15 381.83L334.9 381.98L335.65 381.55L336.4 379.77L337.15 379.76L337.9 379.5L338.65 381.33L339.4 380.69L340.15 379.87L340.9 379.33L341.65 381.49L342.4 381.29L343.15 381.47L343.9 381.37L344.65 379.57L345.4 380.39L346.15 379.98L346.9 379.36L347.65 379.91L348.4 380.3L349.15 381.49L349.9 381.02L350.65 380.05L351.4 380.17L352.15 380.2L352.9 379.87L353.65 380.77L354.4 379.78L355.15 379.69L355.9 380.46L356.65 380.66L357.4 380.17L358.15 381.87L358.9 381.68L359.65 381.34L360.4 381.97L361.15 381.9L361.9 380.4L362.65 379.78L363.4 381.13L364.15 380.17L364.9 380.26L365.65 379.7L366.4 380.32L367.15 379.87L367.9 381.7L368.65 381L369.4 380.83L370.15 381.56L370.9 380.52L371.65 380.43L372.4 379.92L373.15 380.85L373.9 379.39L374.65 380.51L375.4 380.91L376.15 379.71L376.9 381.98L377.65 380.15L378.4 381.97L379.15 381.64L379.9 381.97L380.65 379.93L381.4 381.05L382.15 381.54L382.9 380.68L383.65 379.48L384.4 381.22L385.15 381.48L385.9 380.75L386.65 379.83L387.4 381.04L388.15 380.8L388.9 380.63L389.65 381.46L390.4 381.38L391.15 381.75L391.9 379.71L392.65 379.57L393.4 380.23L394.15 381.55L394.9 379.79L395.65 381.59L396.4 381.73L397.15 381.97L397.9 381L398.65 381.26L399.4 381.1L400.15 379.34L400.9 380.15L401.65 380.05L402.4 381.18L403.15 379.65L403.9 380.56L404.65 379.61L405.4 380.95L406.15 379.83L406.9 381.17L407.65 380.27L408.4 380.4L409.15 381L409.9 381.51L410.65 380.53L411.4 381.84L412.15 381.2L412.9 380.86L413.65 381.66L414.4 381.61L415.15 380.53L415.9 380.35L416.65 380.92L417.4 379.47L418.15 380.06L418.9 381.88L419.65 381.18L420.4 379.96L421.15 379.66L421.9 379.98L422.65 380.22L423.4 381.6L424.15 380.77L424.9 381.72L425.65 380.28L426.4 381.25L427.15 380.23L427.9 381.86L428.65 381.01L429.4 380.28L430.15 380.15L430.9 380.93L431.65 381.94L432.4 380.37L433.15 381.05L433.9 381.99L434.65 380.55L435.4 381.07L436.15 381.97L436.9 380.3L437.65 380.37L438.4 379.53L439.15 381.05L439.9 381.3L440.65 381.49L441.4 381.4L442.15 380.57L442.9 381.62L443.65 381.72L444.4 380.25L445.15 380.74L445.9 381.43L446.65 380.67L447.4 380.83L448.15 379.54L448.9 380.09L449.65 379.97L450.4 379.45L451.15 380.52L451.9 380.54L452.65 379.58L453.4 379.72L454.15 380.72L454.9 380.95L455.65 381.9L456.4 379.33L457.15 381.51L457.9 381.22L458.65 380.73L459.4 379.6L460.15 381.91L460.9 381.59L461.65 380.42L462.4 380L463.15 381.78L463.9 380.62L464.65 381.69L465.4 380.83L466.15 381.74L466.9 380.11L467.65 380L468.4 380.46L469.15 380.27L469.9 380.52L470.65 381.56L471.4 380.73L472.15 380.38L472.9 379.57L473.65 380.15L474.4 379.92L475.15 380.62L475.9 380.4L476.65 379.32L477.4 381.89L478.15 380.91L478.9 380.11L479.65 380.89L480.4 380.64L481.15 381.34L481.9 379.55L482.65 380.03L483.4 380.45L484.15 380.39L484.9 381.14L485.65 381.96L486.4 380.19L487.15 381.51L487.9 381.03L488.65 381.36L489.4 380.99L490.15 381.8L490.9 379.36L491.65 381.33L492.4 379.32L493.15 380.43L493.9 381.96L494.65 379.5L495.4 380.49L496.15 380.32L496.9 380.48L497.65 380.16L498.4 379.49L499.15 381.55L499.9 380.78L500.65 379.62L501.4 381.88L502.15 381.79L502.9 380.42L503.65 381.57L504.4 381.66L505.15 379.38L505.9 380.32L506.65 381.81L507.4 381.16L508.15 381.4L508.9 381.3L509.65 380.88L510.4 380.23L511.15 380.24L511.9 380.7L512.65 380.85L513.4 380.27L514.15 380.6L514.9 380.19L515.65 379.93L516.4 381.27L517.15 379.99L517.9 381.53L518.65 381.23L519.4 380.97L520.15 381.93L520.9 380.53L521.65 379.92L522.4 379.58L523.15 381.59L523.9 381.19L524.65 380.79L525.4 379.71L526.15 381.36L526.9 379.56L527.65 379.89L528.4 380.74L529.15 379.63L529.9 380.87L530.65 381.79L531.4 380.28L532.15 381.24L532.9 381.62L533.65 380.01L534.4 379.35L535.15 379.98L535.9 379.98L536.65 380.61L537.4 380.07L538.15 380.67L538.9 379.73L539.65 381.61L540.4 380.77L541.15 380.74L541.9 381.78L542.65 380L543.4 381.83L544.15 381.43L544.9 380.52L545.65 381.27L546.4 380.67L547.15 380.24L547.9 381.86L548.65 381.84L549.4 379.49L550.15 379.58L550.9 379.62L551.65 380.14L552.4 379.47L553.15 379.48L553.9 380.84L554.65 381.15L555.4 381.42L556.15 379.51L556.9 379.8L557.65 380.26L558.4 379.83L559.15 380.43L559.9 379.51L560.65 380.81L561.4 380.82L562.15 380.11L562.9 381.2L563.65 381.94L564.4 381.8L565.15 381.82L565.9 380.62L566.65 381.15L567.4 380.96L568.15 379.53L568.9 381.89L569.65 379.6L570.4 381.88L571.15 379.39L571.9 381.16L572.65 380.87L573.4 381.48L574.15 379.48L574.9 381.93L574.9 394.5L574.15 394.43L573.4 393L572.65 394.36L571.9 393.94L571.15 394.49L570.4 393.04L569.65 394.56L568.9 393.06L568.15 393.93L567.4 394.68L566.65 394.1L565.9 394.06L565.15 393.04L564.4 394.55L563.65 394.71L562.9 394.69L562.15 393.6L561.4 393.24L560.65 394.75L559.9 393.88L559.15 393.87L558.4 394.27L557.65 393.9L556.9 393.95L556.15 393.95L555.4 393.94L554.65 394.54L553.9 394.77L553.15 393.05L552.4 394.2L551.65 394.57L550.9 394.78L550.15 394.02L549.4 394.62L548.65 394.18L547.9 393.2L547.15 393.42L546.4 394.02L545.65 394.7L544.9 393.67L544.15 393.42L543.4 393.65L542.65 393.1L541.9 394.4L541.15 394.19L540.4 394.32L539.65 394.1L538.9 394.55L538.15 394.57L537.4 393.5L536.65 393.49L535.9 393.24L535.15 393.53L534.4 393.97L533.65 393.45L532.9 394.31L532.15 393.52L531.4 394.71L530.65 394.24L529.9 394.62L529.15 394.38L528.4 394.1L527.65 393.36L526.9 394.41L526.15 394.45L525.4 394.71L524.65 393.6L523.9 394.02L523.15 393.06L522.4 393.55L521.65 394.36L520.9 393.88L520.15 394.64L519.4 394.01L518.65 393.78L517.9 393.68L517.15 393.12L516.4 394.03L515.65 393.47L514.9 394.26L514.15 394.77L513.4 394.05L512.65 394.52L511.9 393.7L511.15 394.06L510.4 393.29L509.65 393.36L508.9 393.3L508.15 393.19L507.4 393.7L506.65 393.89L505.9 394.21L505.15 393.78L504.4 393.85L503.65 393.22L502.9 393.97L502.15 393.38L501.4 394.01L500.65 393.56L499.9 393.2L499.15 394.2L498.4 393.21L497.65 394.32L496.9 393.21L496.15 393.81L495.4 394.35L494.65 394.41L493.9 394.65L493.15 394.22L492.4 394.33L491.65 394.04L490.9 394.68L490.15 394.15L489.4 393.99L488.65 393.09L487.9 393.1L487.15 394.42L486.4 393.57L485.65 394.5L484.9 393.15L484.15 393.51L483.4 394.55L482.65 394.43L481.9 393.45L481.15 393.1L480.4 393.93L479.65 393.57L478.9 394.1L478.15 393.66L477.4 393.66L476.65 394.07L475.9 394.74L475.15 393.02L474.4 394.35L473.65 393.87L472.9 393.67L472.15 393.4L471.4 393.99L470.65 393.11L469.9 393.09L469.15 393.77L468.4 393.86L467.65 393.66L466.9 394.33L466.15 393.71L465.4 393.9L464.65 394.7L463.9 394.18L463.15 393.59L462.4 393.2L461.65 393.14L460.9 393.08L460.15 394.16L459.4 393.54L458.65 393.05L457.9 393.28L457.15 394.32L456.4 393.28L455.65 393.74L454.9 394.55L454.15 393.73L453.4 394.75L452.65 394.53L451.9 394.53L451.15 394L450.4 393.39L449.65 393.75L448.9 394.4L448.15 393.92L447.4 393.23L446.65 393.22L445.9 393.54L445.15 393.2L444.4 393.96L443.65 393.04L442.9 394.7L442.15 393.03L441.4 393.22L440.65 394.32L439.9 393.46L439.15 394.12L438.4 393.3L437.65 394.34L436.9 393.26L436.15 393.38L435.4 393.39L434.65 393.72L433.9 393.12L433.15 394.26L432.4 394.49L431.65 394.79L430.9 394.75L430.15 394.21L429.4 393.84L428.65 393.84L427.9 393.04L427.15 394.62L426.4 394.2L425.65 393.67L424.9 393.16L424.15 393.18L423.4 394.06L422.65 394.48L421.9 393.76L421.15 394.61L420.4 393.74L419.65 394.21L418.9 393.53L418.15 393.79L417.4 393.75L416.65 393.81L415.9 394.34L415.15 394.68L414.4 394.22L413.65 393.52L412.9 393.51L412.15 393.42L411.4 393.62L410.65 393.91L409.9 393.74L409.15 393.76L408.4 393.26L407.65 393.56L406.9 394.33L406.15 394.79L405.4 393.64L404.65 394.69L403.9 393.23L403.15 394.25L402.4 393.33L401.65 394.09L400.9 394.13L400.15 393.61L399.4 393.78L398.65 393.35L397.9 394.58L397.15 393.37L396.4 393.13L395.65 394.11L394.9 393.7L394.15 393.21L393.4 394.56L392.65 393.07L391.9 393.66L391.15 394.43L390.4 393.99L389.65 394.54L388.9 393.44L388.15 394.42L387.4 393.13L386.65 393.5L385.9 394.56L385.15 393.82L384.4 393.45L383.65 394.57L382.9 394.79L382.15 394.44L381.4 394.69L380.65 394.51L379.9 393.88L379.15 393.23L378.4 393.72L377.65 394.33L376.9 394.33L376.15 393.84L375.4 394.68L374.65 394.07L373.9 394.13L373.15 393.93L372.4 394.08L371.65 393.69L370.9 394.2L370.15 394.24L369.4 393.21L368.65 393.91L367.9 394.54L367.15 394.11L366.4 394.16L365.65 394.14L364.9 394.78L364.15 393.33L363.4 394.71L362.65 393.49L361.9 394.27L361.15 393.4L360.4 393.77L359.65 393.2L358.9 393.58L358.15 393.37L357.4 393.97L356.65 393.73L355.9 393.02L355.15 393.63L354.4 393.19L353.65 394.22L352.9 394.34L352.15 394.33L351.4 393.17L350.65 394.63L349.9 393.64L349.15 393.66L348.4 394.18L347.65 393.7L346.9 394.04L346.15 394.64L345.4 394.27L344.65 394.71L343.9 394.77L343.15 394.49L342.4 393.72L341.65 394.43L340.9 393.95L340.15 394.73L339.4 393.02L338.65 393.56L337.9 393.65L337.15 393.21L336.4 393.05L335.65 394.3L334.9 393.8L334.15 394.56L333.4 393.5L332.65 394.18L331.9 393.1L331.15 394.45L330.4 393.87L329.65 393.36L328.9 393.87L328.15 393.14L327.4 394.61L326.65 393.09L325.9 393.66L325.15 393.41L324.4 394.13L323.65 394.02L322.9 393.58L322.15 393.88L321.4 394.68L320.65 393.32L319.9 394.44L319.15 394.25L318.4 394.77L317.65 394.11L316.9 393.51L316.15 394.44L315.4 393.67L314.65 393.98L313.9 393.59L313.15 394.79L312.4 393.51L311.65 393.21L310.9 393.09L310.15 394.68L309.4 394.14L308.65 394.24L307.9 394.75L307.15 394.05L306.4 393.33L305.65 394.2L304.9 393.23L304.15 394.5L303.4 394.27L302.65 394.02L301.9 394.52L301.15 393.6L300.4 394.29L299.65 394.29L298.9 394.43L298.15 393.46L297.4 394.57L296.65 393.29L295.9 394.39L295.15 393.2L294.4 393.18L293.65 393.11L292.9 393.92L292.15 393.58L291.4 393.43L290.65 394.35L289.9 393.67L289.15 393.88L288.4 393.29L287.65 394.74L286.9 394.25L286.15 393.56L285.4 393.62L284.65 394.74L283.9 394.01L283.15 393.99L282.4 393.89L281.65 393.71L280.9 393L280.15 394.22L279.4 393.35L278.65 394.76L277.9 393.56L277.15 393.24L276.4 394.64L275.65 394.58L274.9 393.5L274.15 393.74L273.4 394.13L272.65 394.7L271.9 393.65L271.15 394.11L270.4 393.33L269.65 393.47L268.9 394.61L268.15 393.04L267.4 393.59L266.65 394.05L265.9 393.1L265.15 393.11L264.4 393.7L263.65 394.26L262.9 394.26L262.15 393.27L261.4 393.62L260.65 393.43L259.9 393.3L259.15 393.72L258.4 393.5L257.65 393.59L256.9 393.11L256.15 393.77L255.4 394.14L254.65 394.56L253.9 394.2L253.15 393.39L252.4 394.21L251.65 394.76L250.9 394.02L250.15 393.04L249.4 393.39L248.65 393.53L247.9 394.56L247.15 393.73L246.4 393.5L245.65 393.26L244.9 394.31L244.15 394.27L243.4 393.98L242.65 393.56L241.9 394.07L241.15 393.07L240.4 393.71L239.65 393.93L238.9 393.59L238.15 393.15L237.4 393.58L236.65 394.63L235.9 394.38L235.15 394.69L234.4 393.65L233.65 394.29L232.9 393.71L232.15 393.33L231.4 393.49L230.65 394.24L229.9 393.69L229.15 394.55L228.4 394.79L227.65 393.56L226.9 393.39L226.15 393.29L225.4 393.33L224.65 393.39L223.9 393.69L223.15 393.71L222.4 394.6L221.65 394.56L220.9 393.62L220.15 394.17L219.4 393.07L218.65 394.77L217.9 393.66L217.15 393.83L216.4 393.99L215.65 393.41L214.9 394.37L214.15 393.06L213.4 393.76L212.65 393.71L211.9 394.6L211.15 393.07L210.4 393.82L209.65 394.78L208.9 393.88L208.15 394.75L207.4 393.66L206.65 393.11L205.9 394.5L205.15 393.29L204.4 393.31L203.65 393.16L202.9 393.48L202.15 394.12L201.4 393.08L200.65 393.26L199.9 394.42L199.15 394.02L198.4 393.13L197.65 393.47L196.9 393.78L196.15 393.03L195.4 393.32L194.65 394.03L193.9 394.07L193.15 393.9L192.4 393.4L191.65 393.42L190.9 394.42L190.15 393.79L189.4 394.09L188.65 394.4L187.9 394.71Z" fill="#000"/>
<path d="M229.8 331V491M378.7 331V491" stroke="#000" stroke-width="0.95" stroke-dasharray="1.7 2" fill="none"/>
<text x="168.5" y="417.1" font-size="12.1" text-anchor="end">Normal</text>
<text x="168.5" y="432.3" font-size="12.1" text-anchor="end"><tspan font-style="italic">KEAP1</tspan> mutants</text>
<text x="168.5" y="448.2" font-size="12.1" text-anchor="end"><tspan font-style="italic">NRF2</tspan> mutants</text>
<rect x="187.7" y="408.1" width="42.4" height="8.4" fill="#000"/>
<rect x="211" y="408.1" width="0.5" height="8.4" fill="#444"/>
<path d="M231.4 423.6h2.4v8.5h-2.4zM240.2 423.6h1.3v8.5h-1.3zM243.9 423.6h1v8.5h-1zM246.3 423.6h1.1v8.5h-1.1zM252 423.6h1.7v8.5h-1.7zM254.5 423.6h1.2v8.5h-1.2zM259.2 423.6h2.1v8.5h-2.1zM264.6 423.6h30.4v8.5h-30.4zM303 423.6h1.3v8.5h-1.3zM304.8 423.6h1.2v8.5h-1.2zM306.7 423.6h1.3v8.5h-1.3zM309.9 423.6h0.8v8.5h-0.8zM311.6 423.6h1.1v8.5h-1.1zM333.8 423.6h1.3v8.5h-1.3zM335.6 423.6h4.2v8.5h-4.2zM343.9 423.6h1v8.5h-1zM350.3 423.6h1.4v8.5h-1.4zM354 423.6h19.9v8.5h-19.9zM376.5 423.6h2.8v8.5h-2.8zM385.2 423.6h1.4v8.5h-1.4zM391.1 423.6h1.1v8.5h-1.1zM392.5 423.6h2v8.5h-2zM395.9 423.6h2.8v8.5h-2.8zM402.6 423.6h1.2v8.5h-1.2zM412.2 423.6h1v8.5h-1zM417 423.6h1v8.5h-1zM421.2 423.6h1.2v8.5h-1.2zM427.7 423.6h1.2v8.5h-1.2zM446.1 423.6h1.2v8.5h-1.2zM447.8 423.6h2.2v8.5h-2.2zM454 423.6h2.2v8.5h-2.2zM456.7 423.6h1.2v8.5h-1.2zM469.2 423.6h1.4v8.5h-1.4zM477.3 423.6h1.4v8.5h-1.4zM499.6 423.6h1.3v8.5h-1.3zM530 423.6h1.4v8.5h-1.4zM558 423.6h1.1v8.5h-1.1zM560.5 423.6h2.5v8.5h-2.5zM569.8 423.6h1.2v8.5h-1.2zM571.8 423.6h2.2v8.5h-2.2z" fill="#000"/>
<path d="M268.6 423.6v8.5M273.5 423.6v8.5M279.7 423.6v8.5M284.5 423.6v8.5M289.7 423.6v8.5M364.7 423.6v8.5M369.3 423.6v8.5" stroke="#666" stroke-width="0.35" fill="none"/>
<rect x="229.2" y="439.1" width="1.4" height="8.5" fill="#b5ebb5"/><rect x="231.7" y="439.1" width="1.7" height="8.5" fill="#f9a0a0"/><rect x="236.3" y="439.1" width="1.4" height="8.5" fill="#f9a0a0"/><rect x="240.2" y="439.1" width="1.7" height="8.5" fill="#7fd67f"/><rect x="262.5" y="439.1" width="1.3" height="8.5" fill="#6a6acc"/><rect x="263.8" y="439.1" width="2.8" height="8.5" fill="#e83a3e"/><rect x="266.6" y="439.1" width="2.6" height="8.5" fill="#f06a6a"/><rect x="269.2" y="439.1" width="1.4" height="8.5" fill="#6a6acc"/><rect x="275.3" y="439.1" width="1.2" height="8.5" fill="#6a6acc"/><rect x="276.5" y="439.1" width="1.6" height="8.5" fill="#e83a3e"/><rect x="279" y="439.1" width="1" height="8.5" fill="#e83a3e"/><rect x="281" y="439.1" width="1" height="8.5" fill="#e83a3e"/><rect x="283.2" y="439.1" width="1.2" height="8.5" fill="#8f8fe0"/><rect x="286" y="439.1" width="1.4" height="8.5" fill="#8f8fe0"/><rect x="293" y="439.1" width="1.2" height="8.5" fill="#6a6acc"/><rect x="294.5" y="439.1" width="1.4" height="8.5" fill="#e83a3e"/><rect x="303" y="439.1" width="1" height="8.5" fill="#e83a3e"/><rect x="305.1" y="439.1" width="1.7" height="8.5" fill="#b5ebb5"/><rect x="312.2" y="439.1" width="1.4" height="8.5" fill="#7fd67f"/><rect x="317.3" y="439.1" width="1.3" height="8.5" fill="#f9a0a0"/><rect x="333.8" y="439.1" width="3" height="8.5" fill="#e83a3e"/><rect x="336.8" y="439.1" width="1.4" height="8.5" fill="#f06a6a"/><rect x="338.2" y="439.1" width="1.2" height="8.5" fill="#7fd67f"/><rect x="339.4" y="439.1" width="1.6" height="8.5" fill="#a04aa0"/><rect x="341" y="439.1" width="1.8" height="8.5" fill="#e83a3e"/><rect x="342.8" y="439.1" width="2" height="8.5" fill="#f5a0a0"/><rect x="344.9" y="439.1" width="1.2" height="8.5" fill="#6a6acc"/><rect x="346.1" y="439.1" width="1.7" height="8.5" fill="#e83a3e"/><rect x="347.8" y="439.1" width="0.9" height="8.5" fill="#7fd67f"/><rect x="348.7" y="439.1" width="1.7" height="8.5" fill="#e83a3e"/><rect x="350.4" y="439.1" width="0.8" height="8.5" fill="#f5a0a0"/><rect x="351.2" y="439.1" width="0.8" height="8.5" fill="#6a6acc"/><rect x="352" y="439.1" width="2.6" height="8.5" fill="#e83a3e"/><rect x="355" y="439.1" width="0.9" height="8.5" fill="#6a6acc"/><rect x="361" y="439.1" width="1.1" height="8.5" fill="#f9a0a0"/><rect x="363.5" y="439.1" width="1.1" height="8.5" fill="#f9a0a0"/><rect x="369.4" y="439.1" width="1.2" height="8.5" fill="#7fd67f"/><rect x="370.6" y="439.1" width="1.7" height="8.5" fill="#e83a3e"/><rect x="373" y="439.1" width="1.3" height="8.5" fill="#6a6acc"/><rect x="374.8" y="439.1" width="0.8" height="8.5" fill="#e83a3e"/><rect x="375.6" y="439.1" width="1.2" height="8.5" fill="#6a6acc"/><rect x="376.8" y="439.1" width="1.3" height="8.5" fill="#e83a3e"/><rect x="423.4" y="439.1" width="1.1" height="8.5" fill="#f9a0a0"/><rect x="471.1" y="439.1" width="1.1" height="8.5" fill="#f9a0a0"/><rect x="514.9" y="439.1" width="1.2" height="8.5" fill="#f9a0a0"/><rect x="531" y="439.1" width="1.3" height="8.5" fill="#7fd67f"/><rect x="541.1" y="439.1" width="1.7" height="8.5" fill="#f9a0a0"/><rect x="544.1" y="439.1" width="1.7" height="8.5" fill="#5050c8"/><rect x="568.9" y="439.1" width="1.4" height="8.5" fill="#7fd67f"/>
<text x="147.5" y="461.8" font-size="10" text-anchor="end">DLG or ETGE</text>
<text x="147.5" y="472.7" font-size="10" text-anchor="end">R34</text>
<text x="147.5" y="483.8" font-size="10" text-anchor="end">Other</text>
<rect x="152.1" y="454.7" width="7.1" height="6.6" fill="#f9c4c4"/>
<rect x="152.1" y="465.6" width="7.1" height="6.6" fill="#c6c6ee"/>
<rect x="152.1" y="476.5" width="7.1" height="6.6" fill="#c8f0c8"/>
<text x="207.6" y="476.6" font-size="20.3" text-anchor="middle">G1</text>
<text x="298.6" y="476.6" font-size="20.3" text-anchor="middle">G2</text>
<text x="463.2" y="476.6" font-size="20.3" text-anchor="middle">G3</text>
<path d="M298 482.7V490.5H463.3V482.7" stroke="#000" stroke-width="1" fill="none"/>
<text x="380.8" y="499.5" font-size="8.08" text-anchor="middle"><tspan font-style="italic">KEAP1/NRF2</tspan> mutant enrichment: p&lt;0.05</text>
<text x="380.8" y="509.6" font-size="8.08" text-anchor="middle">R34 enrichment: p&lt;0.05</text>
</g>
<g id="panel-d">
<text x="70.6" y="525.4" font-size="12.2" font-weight="bold">d</text>
<rect x="90.7" y="578.1" width="15.5" height="5" fill="#2b3a9e"/>
<rect x="106" y="578.1" width="15.5" height="5" fill="#7272c4"/>
<rect x="137" y="578.1" width="15.5" height="5" fill="#f98484"/>
<rect x="152.3" y="578.1" width="15.5" height="5" fill="#e02c1c"/>
<text x="103.7" y="586.2" font-size="11.5" text-anchor="end" fill="#111" transform="rotate(-90 103.7 586.2)">-10</text>
<text x="118.5" y="586.2" font-size="11.5" text-anchor="end" fill="#111" transform="rotate(-90 118.5 586.2)">-5</text>
<text x="133.6" y="586.2" font-size="11.5" text-anchor="end" fill="#111" transform="rotate(-90 133.6 586.2)">0</text>
<text x="149.4" y="586.2" font-size="11.5" text-anchor="end" fill="#111" transform="rotate(-90 149.4 586.2)">5</text>
<text x="165" y="586.2" font-size="11.5" text-anchor="end" fill="#111" transform="rotate(-90 165 586.2)">10</text>
<text x="129.6" y="618.2" font-size="12" text-anchor="middle" fill="#111">-log(fc)</text>
<rect x="187.5" y="525.7" width="42.3" height="16.07" fill="#fff9f8"/>
<rect x="187.5" y="541.77" width="42.3" height="16.07" fill="#fff9f8"/>
<rect x="187.5" y="557.83" width="42.3" height="16.07" fill="#ffffff"/>
<rect x="187.5" y="573.9" width="42.3" height="16.07" fill="#fffdfd"/>
<rect x="187.5" y="589.97" width="42.3" height="16.07" fill="#fffdfd"/>
<rect x="187.5" y="606.03" width="42.3" height="16.07" fill="#fff6f6"/>
<rect x="229.8" y="525.7" width="95.2" height="16.07" fill="#ed4641"/>
<rect x="229.8" y="541.77" width="95.2" height="16.07" fill="#f9827f"/>
<rect x="229.8" y="557.83" width="95.2" height="16.07" fill="#ee4a45"/>
<rect x="229.8" y="573.9" width="95.2" height="16.07" fill="#fec7c6"/>
<rect x="229.8" y="589.97" width="95.2" height="16.07" fill="#fec3c1"/>
<rect x="229.8" y="606.03" width="95.2" height="16.07" fill="#fc9895"/>
<rect x="325" y="525.7" width="53.7" height="16.07" fill="#ed4843"/>
<rect x="325" y="541.77" width="53.7" height="16.07" fill="#fa8985"/>
<rect x="325" y="557.83" width="53.7" height="16.07" fill="#ef4f4a"/>
<rect x="325" y="573.9" width="53.7" height="16.07" fill="#ffdad9"/>
<rect x="325" y="589.97" width="53.7" height="16.07" fill="#fec7c6"/>
<rect x="325" y="606.03" width="53.7" height="16.07" fill="#fc9c99"/>
<rect x="378.7" y="525.7" width="197.1" height="16.07" fill="#feb6b4"/>
<rect x="378.7" y="541.77" width="197.1" height="16.07" fill="#ffd8d7"/>
<rect x="378.7" y="557.83" width="197.1" height="16.07" fill="#feb6b4"/>
<rect x="378.7" y="573.9" width="197.1" height="16.07" fill="#fff6f6"/>
<rect x="378.7" y="589.97" width="197.1" height="16.07" fill="#fff0f0"/>
<rect x="378.7" y="606.03" width="197.1" height="16.07" fill="#ffcecc"/>
<g fill="none">
<path d="M187.5 533.73h0.75M198.75 533.73h0.75M203.25 533.73h0.75M213 533.73h0.75" stroke="#d3d5f0" stroke-width="16.07"/>
<path d="M188.25 533.73h0.75M195.75 533.73h1.5M202.5 533.73h0.75M206.25 533.73h0.75M220.5 533.73h0.75M228.75 533.73h0.75M385.5 533.73h0.75M401.25 533.73h1.5M412.5 533.73h0.75M425.25 533.73h1.5M437.25 533.73h0.75M439.5 533.73h0.75M442.5 533.73h1.5M452.25 533.73h0.75M454.5 533.73h0.75M464.25 533.73h0.75M489 533.73h0.75M523.5 533.73h0.75M531.75 533.73h1.5M534 533.73h0.75M544.5 533.73h0.75M570.75 533.73h0.75M575.25 533.73h0.75" stroke="#ffdfde" stroke-width="16.07"/>
<path d="M189 533.73h0.75M201.75 533.73h0.75M204 533.73h0.75M207.75 533.73h0.75M215.25 533.73h0.75M218.25 533.73h0.75M222.75 533.73h0.75" stroke="#e2e3f5" stroke-width="16.07"/>
<path d="M189.75 533.73h0.75M192.75 533.73h1.5M197.25 533.73h0.75M199.5 533.73h0.75M212.25 533.73h0.75M217.5 533.73h0.75M219.75 533.73h0.75M221.25 533.73h0.75M223.5 533.73h0.75M227.25 533.73h0.75M384.75 533.73h0.75M393 533.73h0.75M417.75 533.73h0.75M420.75 533.73h1.5M441.75 533.73h0.75M444.75 533.73h0.75M455.25 533.73h0.75M459.75 533.73h0.75M496.5 533.73h0.75M503.25 533.73h0.75M513 533.73h0.75" stroke="#ffffff" stroke-width="16.07"/>
<path d="M190.5 533.73h0.75M201 533.73h0.75M213.75 533.73h0.75M216 533.73h1.5M226.5 533.73h0.75M392.25 533.73h0.75M395.25 533.73h0.75M406.5 533.73h0.75M420 533.73h0.75M446.25 533.73h0.75M481.5 533.73h0.75M500.25 533.73h0.75M510 533.73h0.75M522.75 533.73h0.75M529.5 533.73h0.75M546 533.73h0.75M568.5 533.73h0.75" stroke="#ffeae9" stroke-width="16.07"/>
<path d="M191.25 533.73h1.5M198 533.73h0.75M204.75 533.73h1.5M207 533.73h0.75M208.5 533.73h0.75M210 533.73h0.75M211.5 533.73h0.75M214.5 533.73h0.75M225.75 533.73h0.75M393.75 533.73h0.75M441 533.73h0.75M444 533.73h0.75M449.25 533.73h0.75M450.75 533.73h0.75M458.25 533.73h0.75M465 533.73h0.75M468 533.73h0.75M470.25 533.73h0.75M483.75 533.73h0.75M490.5 533.73h0.75M497.25 533.73h0.75M515.25 533.73h0.75M537.75 533.73h0.75M547.5 533.73h0.75" stroke="#fff4f4" stroke-width="16.07"/>
<path d="M194.25 533.73h0.75M209.25 533.73h0.75M219 533.73h0.75" stroke="#f0f1fa" stroke-width="16.07"/>
<path d="M195 533.73h0.75M200.25 533.73h0.75M228 533.73h0.75M384 533.73h0.75M388.5 533.73h0.75M405.75 533.73h0.75M413.25 533.73h0.75M431.25 533.73h0.75M435 533.73h0.75M460.5 533.73h0.75M477.75 533.73h0.75M489.75 533.73h0.75M509.25 533.73h0.75M525 533.73h0.75M531 533.73h0.75M543.75 533.73h0.75M549 533.73h0.75" stroke="#ffd4d3" stroke-width="16.07"/>
<path d="M210.75 533.73h0.75M419.25 533.73h0.75M424.5 533.73h0.75M429.75 533.73h0.75M432.75 533.73h0.75M456 533.73h0.75M461.25 533.73h0.75M467.25 533.73h0.75M468.75 533.73h0.75M472.5 533.73h0.75M474 533.73h0.75M479.25 533.73h0.75M484.5 533.73h0.75M486.75 533.73h0.75M491.25 533.73h0.75M494.25 533.73h0.75M501.75 533.73h1.5M510.75 533.73h0.75M513.75 533.73h1.5M519.75 533.73h0.75M535.5 533.73h0.75M540.75 533.73h0.75M546.75 533.73h0.75M549.75 533.73h0.75M552 533.73h0.75M555.75 533.73h1.5M558 533.73h0.75M569.25 533.73h0.75" stroke="#febebd" stroke-width="16.07"/>
<path d="M222 533.73h0.75M378.75 533.73h0.75M381.75 533.73h0.75M408.75 533.73h0.75M411.75 533.73h0.75M415.5 533.73h1.5M422.25 533.73h0.75M428.25 533.73h0.75M434.25 533.73h0.75M436.5 533.73h0.75M440.25 533.73h0.75M466.5 533.73h0.75M493.5 533.73h0.75M501 533.73h0.75M505.5 533.73h0.75M507.75 533.73h0.75M511.5 533.73h0.75M516 533.73h0.75M533.25 533.73h0.75M543 533.73h0.75M563.25 533.73h1.5" stroke="#ffc9c8" stroke-width="16.07"/>
<path d="M224.25 533.73h0.75M379.5 533.73h0.75M390.75 533.73h0.75M399 533.73h0.75M426.75 533.73h0.75M445.5 533.73h0.75M473.25 533.73h0.75M475.5 533.73h0.75M478.5 533.73h0.75M480 533.73h0.75M482.25 533.73h1.5M492 533.73h0.75M508.5 533.73h0.75M519 533.73h0.75M521.25 533.73h0.75M527.25 533.73h0.75M539.25 533.73h1.5M541.5 533.73h0.75M545.25 533.73h0.75M555 533.73h0.75M567 533.73h0.75" stroke="#feb4b2" stroke-width="16.07"/>
<path d="M225 533.73h0.75" stroke="#b6bae7" stroke-width="16.07"/>
<path d="M229.5 533.73h0.75M234 533.73h0.75M236.25 533.73h0.75M244.5 533.73h0.75M253.5 533.73h0.75M257.25 533.73h0.75M258.75 533.73h0.75M267.75 533.73h0.75M269.25 533.73h0.75M275.25 533.73h0.75M279.75 533.73h0.75M289.5 533.73h0.75M296.25 533.73h0.75M298.5 533.73h0.75M300 533.73h0.75M303 533.73h0.75M324 533.73h0.75M326.25 533.73h0.75M332.25 533.73h0.75M338.25 533.73h0.75M341.25 533.73h0.75M345.75 533.73h0.75M347.25 533.73h0.75M368.25 533.73h0.75M380.25 533.73h0.75M390 533.73h0.75M394.5 533.73h0.75M397.5 533.73h0.75M453 533.73h0.75M530.25 533.73h0.75" stroke="#f0534e" stroke-width="16.07"/>
<path d="M230.25 533.73h0.75M233.25 533.73h0.75M234.75 533.73h0.75M237 533.73h0.75M240 533.73h0.75M242.25 533.73h0.75M249 533.73h0.75M252.75 533.73h0.75M256.5 533.73h0.75M261 533.73h0.75M262.5 533.73h0.75M270.75 533.73h0.75M276 533.73h0.75M277.5 533.73h0.75M281.25 533.73h0.75M293.25 533.73h1.5M300.75 533.73h0.75M304.5 533.73h0.75M309.75 533.73h0.75M314.25 533.73h0.75M315.75 533.73h0.75M318.75 533.73h0.75M322.5 533.73h0.75M329.25 533.73h0.75M330.75 533.73h0.75M334.5 533.73h0.75M336 533.73h1.5M342 533.73h1.5M348.75 533.73h0.75M351 533.73h0.75M360.75 533.73h0.75M367.5 533.73h0.75M369.75 533.73h0.75M372.75 533.73h0.75" stroke="#ea3e38" stroke-width="16.07"/>
<path d="M231 533.73h0.75M235.5 533.73h0.75M238.5 533.73h0.75M245.25 533.73h1.5M252 533.73h0.75M259.5 533.73h0.75M263.25 533.73h0.75M271.5 533.73h1.5M294.75 533.73h0.75M309 533.73h0.75M319.5 533.73h0.75M321.75 533.73h0.75M333 533.73h0.75M339 533.73h0.75M345 533.73h0.75M349.5 533.73h0.75M356.25 533.73h0.75M378 533.73h0.75M565.5 533.73h0.75M572.25 533.73h0.75" stroke="#e6332d" stroke-width="16.07"/>
<path d="M231.75 533.73h0.75M243.75 533.73h0.75M249.75 533.73h0.75M255.75 533.73h0.75M278.25 533.73h1.5M280.5 533.73h0.75M282.75 533.73h0.75M285 533.73h0.75M286.5 533.73h0.75M301.5 533.73h0.75M303.75 533.73h0.75M312.75 533.73h0.75M323.25 533.73h0.75M327.75 533.73h0.75M333.75 533.73h0.75M344.25 533.73h0.75M353.25 533.73h0.75M364.5 533.73h0.75M366.75 533.73h0.75M370.5 533.73h0.75M377.25 533.73h0.75M391.5 533.73h0.75M526.5 533.73h0.75" stroke="#ed4843" stroke-width="16.07"/>
<path d="M232.5 533.73h0.75M243 533.73h0.75M247.5 533.73h0.75M250.5 533.73h0.75M261.75 533.73h0.75M264.75 533.73h0.75M288 533.73h1.5M290.25 533.73h0.75M297 533.73h0.75M299.25 533.73h0.75M306 533.73h1.5M312 533.73h0.75M324.75 533.73h1.5M328.5 533.73h0.75M339.75 533.73h0.75M352.5 533.73h0.75M354 533.73h0.75M355.5 533.73h0.75M366 533.73h0.75M369 533.73h0.75M374.25 533.73h1.5M396.75 533.73h0.75M404.25 533.73h0.75M433.5 533.73h0.75M551.25 533.73h0.75M554.25 533.73h0.75M573 533.73h0.75" stroke="#f35e59" stroke-width="16.07"/>
<path d="M237.75 533.73h0.75M255 533.73h0.75M330 533.73h0.75M387 533.73h1.5M403.5 533.73h0.75M411 533.73h0.75M414.75 533.73h0.75M435.75 533.73h0.75M438.75 533.73h0.75M447.75 533.73h1.5M456.75 533.73h0.75M469.5 533.73h0.75M476.25 533.73h0.75M486 533.73h0.75M487.5 533.73h0.75M499.5 533.73h0.75M504 533.73h0.75M506.25 533.73h1.5M520.5 533.73h0.75M524.25 533.73h0.75M525.75 533.73h0.75M557.25 533.73h0.75" stroke="#fb9490" stroke-width="16.07"/>
<path d="M239.25 533.73h0.75M246.75 533.73h0.75M248.25 533.73h0.75M254.25 533.73h0.75M258 533.73h0.75M265.5 533.73h0.75M267 533.73h0.75M270 533.73h0.75M273 533.73h0.75M285.75 533.73h0.75M287.25 533.73h0.75M291 533.73h2.25M310.5 533.73h1.5M313.5 533.73h0.75M315 533.73h0.75M316.5 533.73h0.75M318 533.73h0.75M320.25 533.73h0.75M327 533.73h0.75M343.5 533.73h0.75M346.5 533.73h0.75M348 533.73h0.75M350.25 533.73h0.75M361.5 533.73h2.25M373.5 533.73h0.75M375.75 533.73h0.75M553.5 533.73h0.75" stroke="#e22822" stroke-width="16.07"/>
<path d="M240.75 533.73h0.75M266.25 533.73h0.75M297.75 533.73h0.75M317.25 533.73h0.75M354.75 533.73h0.75M357.75 533.73h1.5M360 533.73h0.75M363.75 533.73h0.75M371.25 533.73h1.5M410.25 533.73h0.75M417 533.73h0.75M427.5 533.73h0.75M498.75 533.73h0.75M518.25 533.73h0.75M522 533.73h0.75M538.5 533.73h0.75M542.25 533.73h0.75M550.5 533.73h0.75M571.5 533.73h0.75M574.5 533.73h0.75" stroke="#f7736f" stroke-width="16.07"/>
<path d="M241.5 533.73h0.75M274.5 533.73h0.75M276.75 533.73h0.75M321 533.73h0.75M337.5 533.73h0.75M359.25 533.73h0.75M382.5 533.73h0.75M405 533.73h0.75M409.5 533.73h0.75M485.25 533.73h0.75M492.75 533.73h0.75M495 533.73h0.75M517.5 533.73h0.75M559.5 533.73h0.75" stroke="#f97e7a" stroke-width="16.07"/>
<path d="M251.25 533.73h0.75M264 533.73h0.75M273.75 533.73h0.75M282 533.73h0.75M283.5 533.73h1.5M295.5 533.73h0.75M302.25 533.73h0.75M305.25 533.73h0.75M307.5 533.73h1.5M335.25 533.73h0.75M340.5 533.73h0.75M351.75 533.73h0.75M357 533.73h0.75M365.25 533.73h0.75M398.25 533.73h0.75M432 533.73h0.75M447 533.73h0.75M450 533.73h0.75M453.75 533.73h0.75M480.75 533.73h0.75M566.25 533.73h0.75" stroke="#f56864" stroke-width="16.07"/>
<path d="M260.25 533.73h0.75M268.5 533.73h0.75M376.5 533.73h0.75M383.25 533.73h0.75M386.25 533.73h0.75M400.5 533.73h0.75M402.75 533.73h0.75M408 533.73h0.75M414 533.73h0.75M423.75 533.73h0.75M459 533.73h0.75M498 533.73h0.75M512.25 533.73h0.75M537 533.73h0.75M548.25 533.73h0.75M552.75 533.73h0.75M561 533.73h0.75M564.75 533.73h0.75M573.75 533.73h0.75" stroke="#fa8985" stroke-width="16.07"/>
<path d="M331.5 533.73h0.75M381 533.73h0.75M389.25 533.73h0.75M423 533.73h0.75M438 533.73h0.75M457.5 533.73h0.75M462 533.73h0.75M463.5 533.73h0.75M465.75 533.73h0.75M474.75 533.73h0.75M477 533.73h0.75M488.25 533.73h0.75M495.75 533.73h0.75M504.75 533.73h0.75M528 533.73h0.75M534.75 533.73h0.75M536.25 533.73h0.75M558.75 533.73h0.75M561.75 533.73h1.5M567.75 533.73h0.75M570 533.73h0.75" stroke="#fc9e9c" stroke-width="16.07"/>
<path d="M396 533.73h0.75M399.75 533.73h0.75M407.25 533.73h0.75M418.5 533.73h0.75M429 533.73h0.75M430.5 533.73h0.75M451.5 533.73h0.75M462.75 533.73h0.75M471 533.73h1.5M516.75 533.73h0.75M528.75 533.73h0.75M560.25 533.73h0.75" stroke="#fda9a7" stroke-width="16.07"/>
<path d="M187.5 549.8h2.25M192 549.8h0.75M196.5 549.8h0.75M198.75 549.8h1.5M201 549.8h0.75M204 549.8h0.75M205.5 549.8h0.75M208.5 549.8h0.75M210 549.8h0.75M211.5 549.8h0.75M214.5 549.8h1.5M219.75 549.8h0.75M224.25 549.8h0.75M226.5 549.8h1.5M393.75 549.8h0.75M401.25 549.8h1.5M412.5 549.8h0.75M421.5 549.8h0.75M425.25 549.8h0.75M430.5 549.8h1.5M438.75 549.8h0.75M443.25 549.8h0.75M444.75 549.8h2.25M454.5 549.8h0.75M465 549.8h0.75M468.75 549.8h0.75M470.25 549.8h0.75M472.5 549.8h0.75M477.75 549.8h0.75M507.75 549.8h0.75M515.25 549.8h1.5M517.5 549.8h0.75M522.75 549.8h0.75M529.5 549.8h0.75M532.5 549.8h0.75M558 549.8h0.75M559.5 549.8h0.75M561.75 549.8h0.75M563.25 549.8h0.75" stroke="#ffffff" stroke-width="16.07"/>
<path d="M189.75 549.8h0.75M206.25 549.8h0.75M207.75 549.8h0.75M212.25 549.8h0.75M216.75 549.8h0.75M218.25 549.8h1.5M225 549.8h0.75M228 549.8h0.75" stroke="#f0f1fa" stroke-width="16.07"/>
<path d="M190.5 549.8h1.5M194.25 549.8h0.75M198 549.8h0.75M202.5 549.8h0.75M204.75 549.8h0.75M210.75 549.8h0.75M213 549.8h0.75M221.25 549.8h1.5M225.75 549.8h0.75M261.75 549.8h0.75M331.5 549.8h0.75M381.75 549.8h0.75M385.5 549.8h0.75M387.75 549.8h0.75M393 549.8h0.75M399.75 549.8h0.75M406.5 549.8h0.75M426 549.8h0.75M429.75 549.8h0.75M434.25 549.8h0.75M440.25 549.8h1.5M459.75 549.8h0.75M468 549.8h0.75M476.25 549.8h0.75M482.25 549.8h0.75M483.75 549.8h0.75M495.75 549.8h1.5M498.75 549.8h0.75M503.25 549.8h0.75M506.25 549.8h0.75M519 549.8h0.75M527.25 549.8h1.5M530.25 549.8h0.75M542.25 549.8h0.75M543.75 549.8h0.75M546 549.8h0.75M547.5 549.8h1.5M561 549.8h0.75M564 549.8h1.5M567.75 549.8h0.75M569.25 549.8h0.75" stroke="#ffeae9" stroke-width="16.07"/>
<path d="M192.75 549.8h1.5M195.75 549.8h0.75M197.25 549.8h0.75M207 549.8h0.75M209.25 549.8h0.75M213.75 549.8h0.75M216 549.8h0.75M217.5 549.8h0.75M220.5 549.8h0.75M222.75 549.8h1.5M395.25 549.8h0.75M399 549.8h0.75M405.75 549.8h0.75M408 549.8h0.75M411.75 549.8h0.75M426.75 549.8h0.75M438 549.8h0.75M442.5 549.8h0.75M444 549.8h0.75M455.25 549.8h0.75M461.25 549.8h0.75M464.25 549.8h0.75M481.5 549.8h0.75M489.75 549.8h1.5M497.25 549.8h0.75M502.5 549.8h0.75M505.5 549.8h0.75M513.75 549.8h0.75M519.75 549.8h0.75M521.25 549.8h0.75M525 549.8h0.75M531 549.8h1.5M537.75 549.8h0.75M540 549.8h0.75M541.5 549.8h0.75M546.75 549.8h0.75M549 549.8h0.75M555.75 549.8h0.75M568.5 549.8h0.75M571.5 549.8h0.75" stroke="#fff4f4" stroke-width="16.07"/>
<path d="M195 549.8h0.75M200.25 549.8h0.75M201.75 549.8h0.75M228.75 549.8h0.75M289.5 549.8h0.75M337.5 549.8h0.75M371.25 549.8h0.75M384 549.8h1.5M387 549.8h0.75M392.25 549.8h0.75M400.5 549.8h0.75M415.5 549.8h0.75M419.25 549.8h1.5M435 549.8h1.5M439.5 549.8h0.75M441.75 549.8h0.75M456 549.8h0.75M473.25 549.8h0.75M480 549.8h0.75M488.25 549.8h0.75M491.25 549.8h0.75M500.25 549.8h0.75M513 549.8h0.75M536.25 549.8h0.75M539.25 549.8h0.75M544.5 549.8h0.75M556.5 549.8h0.75M562.5 549.8h0.75M570.75 549.8h0.75M575.25 549.8h0.75" stroke="#ffdfde" stroke-width="16.07"/>
<path d="M203.25 549.8h0.75" stroke="#e2e3f5" stroke-width="16.07"/>
<path d="M229.5 549.8h0.75M241.5 549.8h0.75M248.25 549.8h0.75M251.25 549.8h0.75M252.75 549.8h0.75M260.25 549.8h0.75M264 549.8h0.75M274.5 549.8h0.75M281.25 549.8h0.75M285.75 549.8h2.25M294 549.8h1.5M304.5 549.8h0.75M311.25 549.8h0.75M326.25 549.8h0.75M328.5 549.8h0.75M336.75 549.8h0.75M342.75 549.8h0.75M347.25 549.8h0.75M372.75 549.8h0.75M375 549.8h0.75M376.5 549.8h0.75M397.5 549.8h0.75M534.75 549.8h0.75" stroke="#fa8985" stroke-width="16.07"/>
<path d="M230.25 549.8h0.75M275.25 549.8h0.75M279.75 549.8h0.75M296.25 549.8h0.75M307.5 549.8h0.75M316.5 549.8h0.75M341.25 549.8h0.75M348 549.8h0.75M354.75 549.8h0.75M368.25 549.8h0.75M390 549.8h0.75M407.25 549.8h0.75M427.5 549.8h0.75M432 549.8h0.75M447.75 549.8h0.75M487.5 549.8h0.75M504 549.8h1.5M520.5 549.8h0.75M525.75 549.8h0.75M558.75 549.8h0.75M560.25 549.8h0.75M566.25 549.8h1.5" stroke="#fda9a7" stroke-width="16.07"/>
<path d="M231 549.8h0.75M245.25 549.8h0.75M258.75 549.8h0.75M265.5 549.8h0.75M299.25 549.8h0.75M306.75 549.8h0.75M309 549.8h0.75M318.75 549.8h0.75M330.75 549.8h0.75M342 549.8h0.75M350.25 549.8h0.75M351.75 549.8h0.75M363 549.8h0.75" stroke="#f35e59" stroke-width="16.07"/>
<path d="M231.75 549.8h0.75M233.25 549.8h0.75M237.75 549.8h0.75M255 549.8h0.75M256.5 549.8h1.5M261 549.8h0.75M264.75 549.8h0.75M273 549.8h0.75M276 549.8h0.75M279 549.8h0.75M288 549.8h0.75M300 549.8h0.75M302.25 549.8h0.75M310.5 549.8h0.75M313.5 549.8h0.75M321.75 549.8h0.75M324 549.8h0.75M345.75 549.8h0.75M355.5 549.8h0.75M377.25 549.8h0.75" stroke="#f7736f" stroke-width="16.07"/>
<path d="M232.5 549.8h0.75M234.75 549.8h1.5M238.5 549.8h1.5M243 549.8h0.75M246.75 549.8h0.75M250.5 549.8h0.75M263.25 549.8h0.75M270.75 549.8h0.75M282 549.8h1.5M291.75 549.8h0.75M300.75 549.8h0.75M320.25 549.8h0.75M327 549.8h0.75M339 549.8h0.75M362.25 549.8h0.75M373.5 549.8h0.75" stroke="#f56864" stroke-width="16.07"/>
<path d="M234 549.8h0.75M236.25 549.8h0.75M240 549.8h0.75M254.25 549.8h0.75M262.5 549.8h0.75M272.25 549.8h0.75M273.75 549.8h0.75M285 549.8h0.75M288.75 549.8h0.75M291 549.8h0.75M295.5 549.8h0.75M297.75 549.8h1.5M303 549.8h0.75M317.25 549.8h0.75M329.25 549.8h0.75M336 549.8h0.75M352.5 549.8h1.5M358.5 549.8h0.75M370.5 549.8h0.75M375.75 549.8h0.75M381 549.8h0.75M396.75 549.8h0.75M462.75 549.8h0.75M518.25 549.8h0.75M565.5 549.8h0.75" stroke="#fb9490" stroke-width="16.07"/>
<path d="M237 549.8h0.75M246 549.8h0.75M249 549.8h0.75M253.5 549.8h0.75M259.5 549.8h0.75M267 549.8h0.75M276.75 549.8h0.75M290.25 549.8h0.75M297 549.8h0.75M303.75 549.8h0.75M312 549.8h0.75M321 549.8h0.75M322.5 549.8h0.75M325.5 549.8h0.75M327.75 549.8h0.75M345 549.8h0.75M356.25 549.8h2.25M359.25 549.8h0.75M366.75 549.8h0.75M369 549.8h0.75M405 549.8h0.75M467.25 549.8h0.75M526.5 549.8h0.75M553.5 549.8h0.75" stroke="#fc9e9c" stroke-width="16.07"/>
<path d="M240.75 549.8h0.75M247.5 549.8h0.75M284.25 549.8h0.75M315.75 549.8h0.75M324.75 549.8h0.75M330 549.8h0.75M332.25 549.8h0.75M344.25 549.8h0.75M351 549.8h0.75M369.75 549.8h0.75M378.75 549.8h0.75M383.25 549.8h0.75M386.25 549.8h0.75M396 549.8h0.75M398.25 549.8h0.75M404.25 549.8h0.75M409.5 549.8h0.75M422.25 549.8h0.75M424.5 549.8h0.75M429 549.8h0.75M433.5 549.8h0.75M448.5 549.8h0.75M451.5 549.8h0.75M457.5 549.8h0.75M465.75 549.8h0.75M471.75 549.8h0.75M474 549.8h0.75M492.75 549.8h0.75M498 549.8h0.75M507 549.8h0.75M510 549.8h0.75M522 549.8h0.75M524.25 549.8h0.75M533.25 549.8h0.75M538.5 549.8h0.75M557.25 549.8h0.75M574.5 549.8h0.75" stroke="#feb4b2" stroke-width="16.07"/>
<path d="M242.25 549.8h0.75M269.25 549.8h0.75M278.25 549.8h0.75M308.25 549.8h0.75M335.25 549.8h0.75M366 549.8h0.75M374.25 549.8h0.75M378 549.8h0.75M379.5 549.8h1.5M410.25 549.8h1.5M414.75 549.8h0.75M420.75 549.8h0.75M423 549.8h0.75M437.25 549.8h0.75M450 549.8h0.75M452.25 549.8h0.75M458.25 549.8h0.75M462 549.8h0.75M463.5 549.8h0.75M478.5 549.8h0.75M483 549.8h0.75M485.25 549.8h0.75M501 549.8h0.75M508.5 549.8h0.75M510.75 549.8h0.75M516.75 549.8h0.75M523.5 549.8h0.75M537 549.8h0.75M540.75 549.8h0.75M543 549.8h0.75M549.75 549.8h0.75M552.75 549.8h0.75M572.25 549.8h0.75M573.75 549.8h0.75" stroke="#febebd" stroke-width="16.07"/>
<path d="M243.75 549.8h0.75M271.5 549.8h0.75M301.5 549.8h0.75M343.5 549.8h0.75M365.25 549.8h0.75" stroke="#ed4843" stroke-width="16.07"/>
<path d="M244.5 549.8h0.75M258 549.8h0.75M293.25 549.8h0.75M318 549.8h0.75M319.5 549.8h0.75M346.5 549.8h0.75" stroke="#ea3e38" stroke-width="16.07"/>
<path d="M249.75 549.8h0.75M255.75 549.8h0.75M267.75 549.8h0.75M333 549.8h0.75" stroke="#e6332d" stroke-width="16.07"/>
<path d="M252 549.8h0.75M277.5 549.8h0.75M309.75 549.8h0.75M312.75 549.8h0.75M315 549.8h0.75M323.25 549.8h0.75M334.5 549.8h0.75M360 549.8h0.75M367.5 549.8h0.75M391.5 549.8h0.75" stroke="#f97e7a" stroke-width="16.07"/>
<path d="M266.25 549.8h0.75M280.5 549.8h0.75M292.5 549.8h0.75M305.25 549.8h1.5M339.75 549.8h0.75M348.75 549.8h1.5M360.75 549.8h1.5M364.5 549.8h0.75" stroke="#f0534e" stroke-width="16.07"/>
<path d="M268.5 549.8h0.75M338.25 549.8h0.75M382.5 549.8h0.75M408.75 549.8h0.75M413.25 549.8h0.75M416.25 549.8h1.5M418.5 549.8h0.75M423.75 549.8h0.75M428.25 549.8h0.75M432.75 549.8h0.75M436.5 549.8h0.75M449.25 549.8h0.75M453.75 549.8h0.75M456.75 549.8h0.75M459 549.8h0.75M460.5 549.8h0.75M466.5 549.8h0.75M474.75 549.8h0.75M477 549.8h0.75M484.5 549.8h0.75M486 549.8h1.5M489 549.8h0.75M493.5 549.8h0.75M509.25 549.8h0.75M512.25 549.8h0.75M514.5 549.8h0.75M534 549.8h0.75M535.5 549.8h0.75M550.5 549.8h0.75M552 549.8h0.75M570 549.8h0.75M573 549.8h0.75" stroke="#ffd4d3" stroke-width="16.07"/>
<path d="M270 549.8h0.75" stroke="#e22822" stroke-width="16.07"/>
<path d="M283.5 549.8h0.75M314.25 549.8h0.75M333.75 549.8h0.75M340.5 549.8h0.75M354 549.8h0.75M363.75 549.8h0.75M372 549.8h0.75M388.5 549.8h1.5M390.75 549.8h0.75M394.5 549.8h0.75M402.75 549.8h1.5M414 549.8h0.75M417.75 549.8h0.75M447 549.8h0.75M450.75 549.8h0.75M453 549.8h0.75M469.5 549.8h0.75M471 549.8h0.75M475.5 549.8h0.75M479.25 549.8h0.75M480.75 549.8h0.75M492 549.8h0.75M494.25 549.8h1.5M499.5 549.8h0.75M501.75 549.8h0.75M511.5 549.8h0.75M528.75 549.8h0.75M545.25 549.8h0.75M551.25 549.8h0.75M554.25 549.8h1.5" stroke="#ffc9c8" stroke-width="16.07"/>
<path d="M187.5 565.87h0.75" stroke="#b6bae7" stroke-width="16.07"/>
<path d="M188.25 565.87h0.75M192.75 565.87h0.75M194.25 565.87h0.75M195.75 565.87h0.75M197.25 565.87h0.75M208.5 565.87h1.5M215.25 565.87h0.75M217.5 565.87h0.75M221.25 565.87h1.5M225.75 565.87h0.75M228 565.87h1.5M382.5 565.87h0.75M384 565.87h0.75M407.25 565.87h0.75M421.5 565.87h0.75M446.25 565.87h0.75M452.25 565.87h0.75M462 565.87h0.75M465 565.87h1.5M481.5 565.87h0.75M494.25 565.87h0.75M500.25 565.87h0.75M520.5 565.87h0.75M537.75 565.87h0.75" stroke="#fff4f4" stroke-width="16.07"/>
<path d="M189 565.87h1.5M191.25 565.87h0.75M202.5 565.87h0.75M255.75 565.87h0.75M399 565.87h0.75M410.25 565.87h0.75M411.75 565.87h0.75M414.75 565.87h0.75M417 565.87h0.75M420.75 565.87h0.75M443.25 565.87h0.75M470.25 565.87h0.75M492.75 565.87h0.75M550.5 565.87h0.75M559.5 565.87h0.75M570.75 565.87h0.75" stroke="#e2e3f5" stroke-width="16.07"/>
<path d="M190.5 565.87h0.75M192 565.87h0.75M193.5 565.87h0.75M198 565.87h0.75M200.25 565.87h0.75M210 565.87h0.75M211.5 565.87h0.75M214.5 565.87h0.75M219 565.87h0.75M224.25 565.87h0.75M395.25 565.87h0.75M441.75 565.87h0.75M449.25 565.87h0.75M455.25 565.87h0.75M460.5 565.87h0.75M489 565.87h0.75" stroke="#ffffff" stroke-width="16.07"/>
<path d="M195 565.87h0.75M196.5 565.87h0.75M207 565.87h0.75M212.25 565.87h0.75M213.75 565.87h0.75M218.25 565.87h0.75M222.75 565.87h0.75M226.5 565.87h0.75M305.25 565.87h0.75M320.25 565.87h0.75M501 565.87h0.75M504 565.87h0.75M531 565.87h0.75M548.25 565.87h0.75" stroke="#f0f1fa" stroke-width="16.07"/>
<path d="M198.75 565.87h0.75M201 565.87h0.75M227.25 565.87h0.75M385.5 565.87h0.75M402 565.87h0.75M408.75 565.87h0.75M424.5 565.87h1.5M441 565.87h0.75M444 565.87h0.75M459.75 565.87h0.75M464.25 565.87h0.75M482.25 565.87h0.75M496.5 565.87h1.5M529.5 565.87h0.75M555.75 565.87h0.75" stroke="#ffeae9" stroke-width="16.07"/>
<path d="M199.5 565.87h0.75M203.25 565.87h0.75M205.5 565.87h1.5M207.75 565.87h0.75M430.5 565.87h0.75" stroke="#c4c8ec" stroke-width="16.07"/>
<path d="M201.75 565.87h0.75M210.75 565.87h0.75M216 565.87h1.5M220.5 565.87h0.75M223.5 565.87h0.75M402.75 565.87h0.75M416.25 565.87h0.75M450.75 565.87h0.75M456.75 565.87h0.75M478.5 565.87h0.75M486 565.87h0.75M488.25 565.87h0.75M491.25 565.87h0.75M498.75 565.87h0.75M513 565.87h1.5M515.25 565.87h1.5M531.75 565.87h0.75M546.75 565.87h0.75" stroke="#ffdfde" stroke-width="16.07"/>
<path d="M204 565.87h0.75M391.5 565.87h0.75M408 565.87h0.75M426 565.87h0.75M434.25 565.87h0.75M437.25 565.87h0.75M442.5 565.87h0.75M444.75 565.87h1.5M463.5 565.87h0.75M479.25 565.87h0.75M483.75 565.87h1.5M486.75 565.87h0.75M507.75 565.87h0.75M538.5 565.87h1.5M543.75 565.87h1.5M571.5 565.87h0.75" stroke="#ffd4d3" stroke-width="16.07"/>
<path d="M204.75 565.87h0.75M213 565.87h0.75M225 565.87h0.75M414 565.87h0.75M440.25 565.87h0.75M454.5 565.87h0.75M466.5 565.87h0.75M503.25 565.87h0.75M512.25 565.87h0.75M534.75 565.87h0.75M540 565.87h0.75M561 565.87h1.5M564 565.87h0.75M565.5 565.87h0.75" stroke="#d3d5f0" stroke-width="16.07"/>
<path d="M219.75 565.87h0.75" stroke="#a7ace2" stroke-width="16.07"/>
<path d="M229.5 565.87h1.5M241.5 565.87h0.75M263.25 565.87h0.75M279.75 565.87h0.75M283.5 565.87h0.75M295.5 565.87h0.75M297.75 565.87h0.75M300 565.87h0.75M329.25 565.87h0.75M330.75 565.87h1.5M343.5 565.87h0.75M345 565.87h0.75M349.5 565.87h0.75M367.5 565.87h0.75M369.75 565.87h0.75M394.5 565.87h0.75M495 565.87h0.75M526.5 565.87h0.75M528.75 565.87h0.75M554.25 565.87h0.75" stroke="#f56864" stroke-width="16.07"/>
<path d="M231 565.87h0.75M238.5 565.87h0.75M246 565.87h1.5M248.25 565.87h0.75M252.75 565.87h0.75M265.5 565.87h0.75M270 565.87h0.75M271.5 565.87h0.75M273 565.87h0.75M285.75 565.87h0.75M287.25 565.87h0.75M298.5 565.87h0.75M307.5 565.87h0.75M310.5 565.87h0.75M313.5 565.87h0.75M315 565.87h0.75M336 565.87h0.75M346.5 565.87h0.75M362.25 565.87h0.75" stroke="#e22822" stroke-width="16.07"/>
<path d="M231.75 565.87h1.5M258 565.87h0.75M259.5 565.87h0.75M270.75 565.87h0.75M274.5 565.87h0.75M282 565.87h1.5M285 565.87h0.75M289.5 565.87h0.75M291.75 565.87h0.75M299.25 565.87h0.75M301.5 565.87h2.25M312.75 565.87h0.75M324.75 565.87h0.75M333 565.87h0.75M336.75 565.87h0.75M342 565.87h0.75M354 565.87h2.25M360 565.87h0.75M361.5 565.87h0.75M363.75 565.87h1.5M380.25 565.87h0.75M386.25 565.87h0.75M432 565.87h0.75M558.75 565.87h0.75" stroke="#f35e59" stroke-width="16.07"/>
<path d="M233.25 565.87h0.75M237 565.87h0.75M239.25 565.87h0.75M249.75 565.87h1.5M256.5 565.87h0.75M262.5 565.87h0.75M264.75 565.87h0.75M266.25 565.87h1.5M280.5 565.87h0.75M292.5 565.87h0.75M294 565.87h1.5M297 565.87h0.75M303.75 565.87h0.75M318 565.87h0.75M322.5 565.87h0.75M326.25 565.87h2.25M339 565.87h0.75M373.5 565.87h0.75" stroke="#e6332d" stroke-width="16.07"/>
<path d="M234 565.87h0.75M236.25 565.87h0.75M237.75 565.87h0.75M240.75 565.87h0.75M249 565.87h0.75M253.5 565.87h0.75M267.75 565.87h0.75M275.25 565.87h1.5M281.25 565.87h0.75M284.25 565.87h0.75M286.5 565.87h0.75M306 565.87h0.75M308.25 565.87h0.75M312 565.87h0.75M315.75 565.87h0.75M321 565.87h0.75M323.25 565.87h1.5M339.75 565.87h0.75M341.25 565.87h0.75M347.25 565.87h1.5M356.25 565.87h0.75M365.25 565.87h0.75M368.25 565.87h0.75M372 565.87h0.75M375.75 565.87h0.75M471.75 565.87h0.75M542.25 565.87h0.75" stroke="#f0534e" stroke-width="16.07"/>
<path d="M234.75 565.87h1.5M242.25 565.87h1.5M244.5 565.87h1.5M252 565.87h0.75M254.25 565.87h0.75M269.25 565.87h0.75M276.75 565.87h0.75M288 565.87h0.75M290.25 565.87h0.75M300.75 565.87h0.75M304.5 565.87h0.75M309.75 565.87h0.75M311.25 565.87h0.75M328.5 565.87h0.75M333.75 565.87h0.75M335.25 565.87h0.75M337.5 565.87h1.5M342.75 565.87h0.75M344.25 565.87h0.75M357 565.87h0.75M359.25 565.87h0.75M366 565.87h1.5M372.75 565.87h0.75M377.25 565.87h1.5M516.75 565.87h0.75" stroke="#ed4843" stroke-width="16.07"/>
<path d="M240 565.87h0.75M258.75 565.87h0.75M261 565.87h1.5M264 565.87h0.75M272.25 565.87h0.75M273.75 565.87h0.75M277.5 565.87h0.75M279 565.87h0.75M288.75 565.87h0.75M291 565.87h0.75M293.25 565.87h0.75M306.75 565.87h0.75M309 565.87h0.75M316.5 565.87h0.75M318.75 565.87h1.5M334.5 565.87h0.75M345.75 565.87h0.75M348.75 565.87h0.75M350.25 565.87h0.75M352.5 565.87h0.75M363 565.87h0.75M370.5 565.87h0.75M375 565.87h0.75M552.75 565.87h1.5M574.5 565.87h0.75" stroke="#ea3e38" stroke-width="16.07"/>
<path d="M243.75 565.87h0.75M255 565.87h0.75M257.25 565.87h0.75M278.25 565.87h0.75M321.75 565.87h0.75M353.25 565.87h0.75M357.75 565.87h1.5M369 565.87h0.75M374.25 565.87h0.75M376.5 565.87h0.75M381 565.87h0.75M390 565.87h0.75M450 565.87h0.75M458.25 565.87h0.75M462.75 565.87h0.75M534 565.87h0.75" stroke="#f7736f" stroke-width="16.07"/>
<path d="M247.5 565.87h0.75M296.25 565.87h0.75M314.25 565.87h0.75M325.5 565.87h0.75M332.25 565.87h0.75M351 565.87h1.5M360.75 565.87h0.75M397.5 565.87h0.75M405 565.87h0.75M438 565.87h0.75M447.75 565.87h0.75M457.5 565.87h0.75M459 565.87h0.75M508.5 565.87h0.75M511.5 565.87h0.75M517.5 565.87h0.75M528 565.87h0.75M530.25 565.87h0.75M557.25 565.87h0.75M564.75 565.87h0.75M566.25 565.87h0.75M567.75 565.87h0.75M570 565.87h0.75" stroke="#f97e7a" stroke-width="16.07"/>
<path d="M251.25 565.87h0.75M268.5 565.87h0.75M317.25 565.87h0.75M330 565.87h0.75M340.5 565.87h0.75M379.5 565.87h0.75M398.25 565.87h0.75M400.5 565.87h0.75M433.5 565.87h0.75M474.75 565.87h0.75M476.25 565.87h0.75M498 565.87h0.75M499.5 565.87h0.75M507 565.87h0.75M524.25 565.87h0.75M537 565.87h0.75M572.25 565.87h0.75" stroke="#fa8985" stroke-width="16.07"/>
<path d="M260.25 565.87h0.75M396.75 565.87h0.75M406.5 565.87h0.75M412.5 565.87h0.75M419.25 565.87h0.75M426.75 565.87h0.75M429.75 565.87h0.75M435 565.87h0.75M438.75 565.87h1.5M468.75 565.87h0.75M473.25 565.87h0.75M477.75 565.87h0.75M480 565.87h0.75M487.5 565.87h0.75M518.25 565.87h0.75M519.75 565.87h0.75M540.75 565.87h0.75M552 565.87h0.75M555 565.87h0.75M560.25 565.87h0.75M563.25 565.87h0.75" stroke="#fb9490" stroke-width="16.07"/>
<path d="M371.25 565.87h0.75M390.75 565.87h0.75M399.75 565.87h0.75M404.25 565.87h0.75M411 565.87h0.75M423 565.87h0.75M448.5 565.87h0.75M468 565.87h0.75M472.5 565.87h0.75M477 565.87h0.75M489.75 565.87h0.75M504.75 565.87h0.75M521.25 565.87h0.75M525.75 565.87h0.75M535.5 565.87h0.75M549.75 565.87h0.75M558 565.87h0.75" stroke="#feb4b2" stroke-width="16.07"/>
<path d="M378.75 565.87h0.75M381.75 565.87h0.75M384.75 565.87h0.75M387 565.87h0.75M392.25 565.87h0.75M405.75 565.87h0.75M409.5 565.87h0.75M420 565.87h0.75M429 565.87h0.75M471 565.87h0.75M474 565.87h0.75M522 565.87h1.5M525 565.87h0.75M533.25 565.87h0.75M547.5 565.87h0.75M562.5 565.87h0.75M567 565.87h0.75M573 565.87h1.5" stroke="#fda9a7" stroke-width="16.07"/>
<path d="M383.25 565.87h0.75M388.5 565.87h0.75M393.75 565.87h0.75M413.25 565.87h0.75M435.75 565.87h0.75M451.5 565.87h0.75M453 565.87h1.5M456 565.87h0.75M467.25 565.87h0.75M469.5 565.87h0.75M490.5 565.87h0.75M492 565.87h0.75M501.75 565.87h1.5M506.25 565.87h0.75M527.25 565.87h0.75M541.5 565.87h0.75M543 565.87h0.75M545.25 565.87h0.75M556.5 565.87h0.75M575.25 565.87h0.75" stroke="#fc9e9c" stroke-width="16.07"/>
<path d="M387.75 565.87h0.75M401.25 565.87h0.75M415.5 565.87h0.75M417.75 565.87h0.75M422.25 565.87h0.75M423.75 565.87h0.75M427.5 565.87h1.5M431.25 565.87h0.75M436.5 565.87h0.75M461.25 565.87h0.75M493.5 565.87h0.75M505.5 565.87h0.75M509.25 565.87h2.25M536.25 565.87h0.75M546 565.87h0.75" stroke="#ffc9c8" stroke-width="16.07"/>
<path d="M389.25 565.87h0.75M393 565.87h0.75M396 565.87h0.75M403.5 565.87h0.75M418.5 565.87h0.75M432.75 565.87h0.75M447 565.87h0.75M475.5 565.87h0.75M480.75 565.87h0.75M483 565.87h0.75M485.25 565.87h0.75M495.75 565.87h0.75M514.5 565.87h0.75M519 565.87h0.75M523.5 565.87h0.75M532.5 565.87h0.75M549 565.87h0.75M551.25 565.87h0.75M568.5 565.87h1.5" stroke="#febebd" stroke-width="16.07"/>
<path d="M187.5 581.93h1.5M189.75 581.93h1.5M192 581.93h3.75M196.5 581.93h3.75M201 581.93h4.5M206.25 581.93h0.75M209.25 581.93h1.5M211.5 581.93h0.75M213.75 581.93h2.25M216.75 581.93h0.75M218.25 581.93h0.75M219.75 581.93h0.75M221.25 581.93h0.75M222.75 581.93h2.25M225.75 581.93h0.75M227.25 581.93h1.5M381.75 581.93h4.5M390.75 581.93h0.75M392.25 581.93h0.75M395.25 581.93h1.5M405.75 581.93h2.25M408.75 581.93h0.75M415.5 581.93h3M421.5 581.93h0.75M425.25 581.93h1.5M428.25 581.93h0.75M431.25 581.93h0.75M434.25 581.93h4.5M439.5 581.93h0.75M441.75 581.93h2.25M445.5 581.93h0.75M454.5 581.93h0.75M458.25 581.93h0.75M465.75 581.93h0.75M469.5 581.93h0.75M471.75 581.93h0.75M474 581.93h0.75M477 581.93h1.5M481.5 581.93h0.75M483.75 581.93h0.75M486.75 581.93h0.75M489 581.93h0.75M490.5 581.93h0.75M493.5 581.93h1.5M495.75 581.93h0.75M497.25 581.93h0.75M498.75 581.93h1.5M501 581.93h0.75M503.25 581.93h0.75M505.5 581.93h0.75M513 581.93h0.75M519 581.93h0.75M523.5 581.93h0.75M525 581.93h0.75M528 581.93h0.75M529.5 581.93h0.75M531.75 581.93h0.75M534 581.93h0.75M536.25 581.93h0.75M537.75 581.93h0.75M548.25 581.93h0.75M549.75 581.93h0.75M558 581.93h0.75M559.5 581.93h0.75M563.25 581.93h2.25M568.5 581.93h0.75M573.75 581.93h0.75" stroke="#ffffff" stroke-width="16.07"/>
<path d="M189 581.93h0.75M191.25 581.93h0.75M195.75 581.93h0.75M205.5 581.93h0.75M207.75 581.93h0.75M212.25 581.93h1.5M219 581.93h0.75M225 581.93h0.75M337.5 581.93h0.75M423 581.93h0.75M444.75 581.93h0.75M459.75 581.93h0.75M501.75 581.93h0.75M515.25 581.93h0.75M526.5 581.93h0.75" stroke="#f0f1fa" stroke-width="16.07"/>
<path d="M200.25 581.93h0.75M207 581.93h0.75M208.5 581.93h0.75M216 581.93h0.75M217.5 581.93h0.75M220.5 581.93h0.75M222 581.93h0.75M226.5 581.93h0.75M228.75 581.93h0.75M260.25 581.93h0.75M261.75 581.93h0.75M284.25 581.93h0.75M325.5 581.93h0.75M328.5 581.93h0.75M342.75 581.93h0.75M351.75 581.93h0.75M354 581.93h0.75M356.25 581.93h0.75M357.75 581.93h0.75M363.75 581.93h0.75M367.5 581.93h0.75M371.25 581.93h0.75M372.75 581.93h0.75M376.5 581.93h1.5M378.75 581.93h2.25M387 581.93h0.75M388.5 581.93h0.75M393 581.93h2.25M396.75 581.93h0.75M399 581.93h1.5M402 581.93h0.75M409.5 581.93h0.75M411 581.93h0.75M418.5 581.93h3M422.25 581.93h0.75M423.75 581.93h1.5M426.75 581.93h1.5M430.5 581.93h0.75M432 581.93h2.25M440.25 581.93h1.5M446.25 581.93h1.5M448.5 581.93h0.75M450 581.93h1.5M455.25 581.93h0.75M456.75 581.93h0.75M460.5 581.93h0.75M464.25 581.93h1.5M466.5 581.93h0.75M468.75 581.93h0.75M470.25 581.93h0.75M472.5 581.93h0.75M478.5 581.93h2.25M483 581.93h0.75M484.5 581.93h0.75M489.75 581.93h0.75M491.25 581.93h1.5M496.5 581.93h0.75M500.25 581.93h0.75M504.75 581.93h0.75M508.5 581.93h0.75M510 581.93h0.75M512.25 581.93h0.75M514.5 581.93h0.75M517.5 581.93h1.5M519.75 581.93h0.75M521.25 581.93h0.75M522.75 581.93h0.75M525.75 581.93h0.75M528.75 581.93h0.75M531 581.93h0.75M532.5 581.93h0.75M534.75 581.93h1.5M538.5 581.93h0.75M540 581.93h0.75M543 581.93h2.25M546 581.93h2.25M549 581.93h0.75M551.25 581.93h2.25M555 581.93h0.75M556.5 581.93h0.75M561.75 581.93h0.75M566.25 581.93h1.5M569.25 581.93h1.5M575.25 581.93h0.75" stroke="#fff4f4" stroke-width="16.07"/>
<path d="M210.75 581.93h0.75M274.5 581.93h0.75M286.5 581.93h0.75M289.5 581.93h0.75M302.25 581.93h0.75M314.25 581.93h0.75M329.25 581.93h1.5M331.5 581.93h1.5M333.75 581.93h0.75M335.25 581.93h0.75M340.5 581.93h0.75M344.25 581.93h0.75M352.5 581.93h1.5M354.75 581.93h0.75M358.5 581.93h1.5M369.75 581.93h0.75M378 581.93h0.75M381 581.93h0.75M387.75 581.93h0.75M391.5 581.93h0.75M398.25 581.93h0.75M400.5 581.93h0.75M402.75 581.93h3M408 581.93h0.75M410.25 581.93h0.75M411.75 581.93h2.25M414.75 581.93h0.75M429 581.93h1.5M449.25 581.93h0.75M451.5 581.93h3M462 581.93h1.5M468 581.93h0.75M471 581.93h0.75M475.5 581.93h0.75M480.75 581.93h0.75M486 581.93h0.75M487.5 581.93h0.75M492.75 581.93h0.75M495 581.93h0.75M498 581.93h0.75M502.5 581.93h0.75M504 581.93h0.75M506.25 581.93h0.75M507.75 581.93h0.75M509.25 581.93h0.75M510.75 581.93h1.5M527.25 581.93h0.75M533.25 581.93h0.75M539.25 581.93h0.75M540.75 581.93h1.5M545.25 581.93h0.75M550.5 581.93h0.75M553.5 581.93h1.5M557.25 581.93h0.75M560.25 581.93h1.5M562.5 581.93h0.75M567.75 581.93h0.75M570.75 581.93h2.25M574.5 581.93h0.75" stroke="#ffeae9" stroke-width="16.07"/>
<path d="M229.5 581.93h0.75M237 581.93h0.75M240.75 581.93h0.75M243 581.93h1.5M245.25 581.93h1.5M248.25 581.93h1.5M250.5 581.93h0.75M258 581.93h2.25M261 581.93h0.75M268.5 581.93h0.75M272.25 581.93h0.75M276 581.93h0.75M279 581.93h0.75M282 581.93h0.75M283.5 581.93h0.75M287.25 581.93h0.75M298.5 581.93h0.75M301.5 581.93h0.75M303 581.93h0.75M305.25 581.93h0.75M306.75 581.93h0.75M308.25 581.93h1.5M312 581.93h0.75M316.5 581.93h0.75M318.75 581.93h0.75M320.25 581.93h1.5M322.5 581.93h0.75M326.25 581.93h0.75M334.5 581.93h0.75M339.75 581.93h0.75M345 581.93h0.75M368.25 581.93h0.75M375.75 581.93h0.75" stroke="#ffc9c8" stroke-width="16.07"/>
<path d="M230.25 581.93h0.75M234.75 581.93h0.75M240 581.93h0.75M263.25 581.93h0.75M265.5 581.93h0.75M280.5 581.93h0.75M282.75 581.93h0.75M297.75 581.93h0.75M319.5 581.93h0.75M348.75 581.93h0.75M372 581.93h0.75" stroke="#feb4b2" stroke-width="16.07"/>
<path d="M231 581.93h0.75M239.25 581.93h0.75M242.25 581.93h0.75M244.5 581.93h0.75M252 581.93h2.25M262.5 581.93h0.75M267 581.93h0.75M276.75 581.93h2.25M288 581.93h0.75M292.5 581.93h1.5M297 581.93h0.75M299.25 581.93h0.75M306 581.93h0.75M313.5 581.93h0.75M315.75 581.93h0.75M318 581.93h0.75M323.25 581.93h0.75M327 581.93h0.75M345.75 581.93h1.5M362.25 581.93h0.75M364.5 581.93h0.75M369 581.93h0.75M373.5 581.93h0.75" stroke="#febebd" stroke-width="16.07"/>
<path d="M231.75 581.93h0.75M236.25 581.93h0.75M237.75 581.93h0.75M241.5 581.93h0.75M246.75 581.93h1.5M251.25 581.93h0.75M255 581.93h2.25M264 581.93h1.5M267.75 581.93h0.75M279.75 581.93h0.75M288.75 581.93h0.75M291 581.93h1.5M294.75 581.93h0.75M307.5 581.93h0.75M309.75 581.93h0.75M312.75 581.93h0.75M317.25 581.93h0.75M324 581.93h1.5M327.75 581.93h0.75M330.75 581.93h0.75M341.25 581.93h1.5M343.5 581.93h0.75M350.25 581.93h1.5M355.5 581.93h0.75M357 581.93h0.75M360 581.93h0.75M361.5 581.93h0.75M365.25 581.93h0.75M542.25 581.93h0.75M565.5 581.93h0.75" stroke="#ffd4d3" stroke-width="16.07"/>
<path d="M232.5 581.93h0.75M234 581.93h0.75M257.25 581.93h0.75M269.25 581.93h0.75M273 581.93h0.75M281.25 581.93h0.75M290.25 581.93h0.75M296.25 581.93h0.75M333 581.93h0.75M336 581.93h1.5M338.25 581.93h1.5M347.25 581.93h1.5M349.5 581.93h0.75M360.75 581.93h0.75M363 581.93h0.75M366 581.93h1.5M370.5 581.93h0.75M374.25 581.93h1.5M386.25 581.93h0.75M389.25 581.93h1.5M397.5 581.93h0.75M447.75 581.93h0.75M456 581.93h0.75M457.5 581.93h0.75M463.5 581.93h0.75M485.25 581.93h0.75M522 581.93h0.75M524.25 581.93h0.75M558.75 581.93h0.75" stroke="#ffdfde" stroke-width="16.07"/>
<path d="M233.25 581.93h0.75M266.25 581.93h0.75M273.75 581.93h0.75M295.5 581.93h0.75M300.75 581.93h0.75M304.5 581.93h0.75M401.25 581.93h0.75M459 581.93h0.75M467.25 581.93h0.75M482.25 581.93h0.75M513.75 581.93h0.75M516 581.93h0.75M520.5 581.93h0.75M530.25 581.93h0.75M537 581.93h0.75" stroke="#e2e3f5" stroke-width="16.07"/>
<path d="M235.5 581.93h0.75M270.75 581.93h0.75M300 581.93h0.75" stroke="#fc9e9c" stroke-width="16.07"/>
<path d="M238.5 581.93h0.75M249.75 581.93h0.75M270 581.93h0.75M271.5 581.93h0.75M275.25 581.93h0.75M285 581.93h1.5M294 581.93h0.75M303.75 581.93h0.75M310.5 581.93h1.5M315 581.93h0.75M321.75 581.93h0.75" stroke="#fda9a7" stroke-width="16.07"/>
<path d="M254.25 581.93h0.75" stroke="#fb9490" stroke-width="16.07"/>
<path d="M414 581.93h0.75M573 581.93h0.75" stroke="#c4c8ec" stroke-width="16.07"/>
<path d="M438.75 581.93h0.75M444 581.93h0.75M461.25 581.93h0.75M473.25 581.93h0.75M474.75 581.93h0.75M476.25 581.93h0.75M488.25 581.93h0.75M507 581.93h0.75M516.75 581.93h0.75M555.75 581.93h0.75" stroke="#d3d5f0" stroke-width="16.07"/>
<path d="M187.5 598h0.75" stroke="#e2e3f5" stroke-width="16.07"/>
<path d="M188.25 598h0.75M191.25 598h0.75M192.75 598h0.75M198 598h2.25M201.75 598h0.75M204 598h1.5M206.25 598h1.5M209.25 598h1.5M211.5 598h0.75M214.5 598h0.75M216.75 598h5.25M223.5 598h0.75M226.5 598h0.75M228 598h0.75M378.75 598h0.75M381.75 598h0.75M385.5 598h0.75M393 598h0.75M396 598h0.75M399.75 598h0.75M408.75 598h0.75M413.25 598h0.75M420 598h2.25M425.25 598h2.25M428.25 598h0.75M438.75 598h0.75M441.75 598h2.25M447 598h0.75M449.25 598h0.75M459.75 598h0.75M465 598h0.75M477 598h0.75M481.5 598h0.75M486.75 598h0.75M493.5 598h1.5M496.5 598h1.5M501 598h0.75M507.75 598h0.75M515.25 598h0.75M522.75 598h0.75M525 598h0.75M527.25 598h1.5M533.25 598h0.75M536.25 598h0.75M537.75 598h0.75M543.75 598h0.75M547.5 598h0.75M555.75 598h0.75M559.5 598h0.75M563.25 598h0.75" stroke="#ffffff" stroke-width="16.07"/>
<path d="M189 598h1.5M192 598h0.75M194.25 598h2.25M201 598h0.75M202.5 598h0.75M205.5 598h0.75M208.5 598h0.75M216 598h0.75M222.75 598h0.75M224.25 598h2.25M227.25 598h0.75M228.75 598h0.75M288.75 598h0.75M291.75 598h0.75M337.5 598h0.75M371.25 598h1.5M381 598h0.75M382.5 598h0.75M384 598h1.5M387.75 598h2.25M390.75 598h0.75M392.25 598h0.75M393.75 598h0.75M395.25 598h0.75M399 598h0.75M400.5 598h0.75M402 598h0.75M405 598h3.75M410.25 598h0.75M411.75 598h0.75M416.25 598h1.5M419.25 598h0.75M422.25 598h0.75M423.75 598h1.5M429 598h3M433.5 598h2.25M436.5 598h2.25M439.5 598h2.25M444 598h1.5M448.5 598h0.75M451.5 598h1.5M454.5 598h2.25M459 598h0.75M460.5 598h2.25M463.5 598h1.5M466.5 598h0.75M468.75 598h0.75M470.25 598h1.5M473.25 598h0.75M475.5 598h1.5M479.25 598h0.75M482.25 598h0.75M483.75 598h0.75M489 598h2.25M492 598h0.75M498.75 598h2.25M501.75 598h0.75M503.25 598h0.75M505.5 598h1.5M510 598h0.75M513 598h2.25M517.5 598h0.75M519 598h0.75M522 598h0.75M528.75 598h3.75M538.5 598h0.75M540 598h0.75M541.5 598h0.75M544.5 598h0.75M546 598h1.5M549 598h3M552.75 598h0.75M554.25 598h0.75M556.5 598h0.75M558.75 598h0.75M560.25 598h1.5M564.75 598h0.75M568.5 598h3.75M573.75 598h0.75" stroke="#fff4f4" stroke-width="16.07"/>
<path d="M190.5 598h0.75M196.5 598h0.75M200.25 598h0.75M210.75 598h0.75M222 598h0.75M247.5 598h0.75M255 598h0.75M289.5 598h1.5M325.5 598h0.75M336.75 598h0.75M357.75 598h1.5M360.75 598h0.75M374.25 598h0.75M380.25 598h0.75M386.25 598h1.5M390 598h0.75M394.5 598h0.75M401.25 598h0.75M409.5 598h0.75M412.5 598h0.75M414 598h1.5M417.75 598h1.5M423 598h0.75M435.75 598h0.75M446.25 598h0.75M450 598h1.5M453.75 598h0.75M458.25 598h0.75M465.75 598h0.75M468 598h0.75M471.75 598h1.5M474 598h0.75M477.75 598h1.5M483 598h0.75M485.25 598h1.5M488.25 598h0.75M491.25 598h0.75M495.75 598h0.75M502.5 598h0.75M504 598h0.75M508.5 598h1.5M511.5 598h1.5M516 598h1.5M518.25 598h0.75M519.75 598h2.25M523.5 598h1.5M525.75 598h1.5M532.5 598h0.75M534 598h1.5M537 598h0.75M542.25 598h0.75M545.25 598h0.75M548.25 598h0.75M558 598h0.75M562.5 598h0.75M564 598h0.75M566.25 598h2.25M575.25 598h0.75" stroke="#ffeae9" stroke-width="16.07"/>
<path d="M193.5 598h0.75M197.25 598h0.75M203.25 598h0.75M207.75 598h0.75M212.25 598h2.25M215.25 598h0.75" stroke="#f0f1fa" stroke-width="16.07"/>
<path d="M229.5 598h0.75M231 598h0.75M232.5 598h0.75M234 598h0.75M243.75 598h0.75M248.25 598h0.75M250.5 598h0.75M257.25 598h0.75M259.5 598h0.75M261 598h0.75M262.5 598h0.75M273 598h0.75M274.5 598h0.75M294.75 598h0.75M297.75 598h1.5M305.25 598h0.75M308.25 598h0.75M311.25 598h0.75M312.75 598h0.75M318.75 598h0.75M323.25 598h0.75M327.75 598h0.75M332.25 598h0.75M334.5 598h0.75M338.25 598h0.75M342 598h0.75M343.5 598h0.75M349.5 598h0.75M355.5 598h0.75M366 598h0.75M368.25 598h0.75M370.5 598h0.75M372.75 598h0.75M375.75 598h0.75M398.25 598h0.75M553.5 598h0.75M565.5 598h0.75" stroke="#ffc9c8" stroke-width="16.07"/>
<path d="M230.25 598h0.75M231.75 598h0.75M236.25 598h1.5M238.5 598h0.75M243 598h0.75M245.25 598h1.5M252.75 598h0.75M256.5 598h0.75M263.25 598h0.75M266.25 598h0.75M267.75 598h0.75M272.25 598h0.75M276.75 598h0.75M278.25 598h1.5M286.5 598h1.5M297 598h0.75M300.75 598h0.75M304.5 598h0.75M309 598h0.75M316.5 598h0.75M321 598h1.5M330 598h0.75M336 598h0.75M339 598h0.75M341.25 598h0.75M342.75 598h0.75M344.25 598h3M348.75 598h0.75M359.25 598h1.5M365.25 598h0.75M369.75 598h0.75M375 598h0.75M378 598h0.75" stroke="#febebd" stroke-width="16.07"/>
<path d="M233.25 598h0.75M234.75 598h0.75M237.75 598h0.75M239.25 598h1.5M242.25 598h0.75M249 598h0.75M252 598h0.75M253.5 598h0.75M264.75 598h0.75M271.5 598h0.75M277.5 598h0.75M280.5 598h0.75M282 598h2.25M285.75 598h0.75M292.5 598h1.5M295.5 598h0.75M299.25 598h1.5M301.5 598h0.75M306 598h0.75M307.5 598h0.75M310.5 598h0.75M313.5 598h0.75M315 598h1.5M318 598h0.75M330.75 598h0.75M339.75 598h0.75M353.25 598h0.75M363 598h0.75" stroke="#feb4b2" stroke-width="16.07"/>
<path d="M235.5 598h0.75M244.5 598h0.75M249.75 598h0.75M254.25 598h0.75M326.25 598h0.75M350.25 598h1.5M362.25 598h0.75M373.5 598h0.75" stroke="#fc9e9c" stroke-width="16.07"/>
<path d="M240.75 598h0.75M260.25 598h0.75M261.75 598h0.75M268.5 598h1.5M273.75 598h0.75M276 598h0.75M279.75 598h0.75M281.25 598h0.75M284.25 598h0.75M288 598h0.75M291 598h0.75M296.25 598h0.75M303 598h0.75M306.75 598h0.75M309.75 598h0.75M312 598h0.75M314.25 598h0.75M317.25 598h0.75M319.5 598h0.75M322.5 598h0.75M324.75 598h0.75M328.5 598h0.75M335.25 598h0.75M340.5 598h0.75M347.25 598h1.5M351.75 598h0.75M354.75 598h0.75M356.25 598h0.75M363.75 598h0.75M367.5 598h0.75M411 598h0.75M487.5 598h0.75M492.75 598h0.75M510.75 598h0.75M555 598h0.75M557.25 598h0.75M572.25 598h0.75" stroke="#ffd4d3" stroke-width="16.07"/>
<path d="M241.5 598h0.75M251.25 598h0.75M255.75 598h0.75M258.75 598h0.75M324 598h0.75M329.25 598h0.75M331.5 598h0.75M333.75 598h0.75M352.5 598h0.75M354 598h0.75M357 598h0.75M361.5 598h0.75M366.75 598h0.75M369 598h0.75M376.5 598h1.5M379.5 598h0.75M383.25 598h0.75M391.5 598h0.75M396.75 598h1.5M402.75 598h2.25M415.5 598h0.75M427.5 598h0.75M432 598h1.5M445.5 598h0.75M447.75 598h0.75M453 598h0.75M456.75 598h1.5M462.75 598h0.75M467.25 598h0.75M469.5 598h0.75M474.75 598h0.75M480 598h1.5M484.5 598h0.75M495 598h0.75M498 598h0.75M504.75 598h0.75M507 598h0.75M535.5 598h0.75M539.25 598h0.75M540.75 598h0.75M543 598h0.75M552 598h0.75M561.75 598h0.75M573 598h0.75M574.5 598h0.75" stroke="#ffdfde" stroke-width="16.07"/>
<path d="M246.75 598h0.75M258 598h0.75M264 598h0.75M265.5 598h0.75M285 598h0.75M294 598h0.75M302.25 598h0.75M303.75 598h0.75M320.25 598h0.75M327 598h0.75M333 598h0.75M364.5 598h0.75" stroke="#fda9a7" stroke-width="16.07"/>
<path d="M267 598h0.75M270 598h1.5" stroke="#fb9490" stroke-width="16.07"/>
<path d="M275.25 598h0.75" stroke="#fa8985" stroke-width="16.07"/>
<path d="M187.5 614.07h1.5M195.75 614.07h1.5M200.25 614.07h2.25M203.25 614.07h0.75M205.5 614.07h1.5M208.5 614.07h2.25M215.25 614.07h1.5M228 614.07h0.75M331.5 614.07h0.75M381.75 614.07h0.75M388.5 614.07h0.75M393 614.07h0.75M396 614.07h0.75M413.25 614.07h0.75M420 614.07h0.75M426.75 614.07h0.75M440.25 614.07h0.75M442.5 614.07h1.5M470.25 614.07h0.75M520.5 614.07h0.75M525 614.07h1.5M532.5 614.07h0.75M537.75 614.07h0.75" stroke="#fff4f4" stroke-width="16.07"/>
<path d="M189 614.07h1.5M191.25 614.07h0.75M195 614.07h0.75M198 614.07h1.5M204.75 614.07h0.75M212.25 614.07h1.5M217.5 614.07h2.25M220.5 614.07h0.75M224.25 614.07h1.5M226.5 614.07h0.75M382.5 614.07h0.75M399.75 614.07h0.75M408.75 614.07h0.75M435.75 614.07h0.75M441.75 614.07h0.75M481.5 614.07h0.75M515.25 614.07h0.75M540 614.07h0.75" stroke="#ffffff" stroke-width="16.07"/>
<path d="M190.5 614.07h0.75M207.75 614.07h0.75M211.5 614.07h0.75M213.75 614.07h0.75M219.75 614.07h0.75M492 614.07h0.75" stroke="#f0f1fa" stroke-width="16.07"/>
<path d="M192 614.07h2.25M199.5 614.07h0.75M202.5 614.07h0.75M204 614.07h0.75M207 614.07h0.75M214.5 614.07h0.75M222.75 614.07h1.5M225.75 614.07h0.75M227.25 614.07h0.75M247.5 614.07h0.75M384 614.07h0.75M385.5 614.07h0.75M402.75 614.07h0.75M414.75 614.07h0.75M421.5 614.07h0.75M426 614.07h0.75M427.5 614.07h0.75M429.75 614.07h0.75M437.25 614.07h0.75M438.75 614.07h0.75M441 614.07h0.75M463.5 614.07h2.25M473.25 614.07h0.75M483.75 614.07h0.75M491.25 614.07h0.75M496.5 614.07h0.75M500.25 614.07h0.75M501.75 614.07h0.75M513 614.07h1.5M519 614.07h0.75M523.5 614.07h0.75M527.25 614.07h0.75M528.75 614.07h0.75M531 614.07h0.75M543.75 614.07h0.75M558 614.07h0.75M568.5 614.07h0.75" stroke="#ffeae9" stroke-width="16.07"/>
<path d="M194.25 614.07h0.75M216.75 614.07h0.75M221.25 614.07h1.5M228.75 614.07h0.75M255 614.07h0.75M353.25 614.07h0.75M392.25 614.07h0.75M395.25 614.07h0.75M401.25 614.07h1.5M407.25 614.07h0.75M409.5 614.07h0.75M415.5 614.07h0.75M432 614.07h0.75M435 614.07h0.75M445.5 614.07h0.75M450.75 614.07h0.75M454.5 614.07h0.75M460.5 614.07h1.5M477.75 614.07h0.75M482.25 614.07h0.75M488.25 614.07h0.75M490.5 614.07h0.75M493.5 614.07h1.5M495.75 614.07h0.75M497.25 614.07h0.75M498.75 614.07h0.75M501 614.07h0.75M506.25 614.07h0.75M518.25 614.07h0.75M519.75 614.07h0.75M536.25 614.07h0.75M548.25 614.07h0.75M559.5 614.07h0.75M563.25 614.07h0.75M569.25 614.07h1.5" stroke="#ffdfde" stroke-width="16.07"/>
<path d="M197.25 614.07h0.75M434.25 614.07h0.75M444 614.07h0.75M469.5 614.07h0.75M489 614.07h0.75M504.75 614.07h0.75M522 614.07h0.75M528 614.07h0.75M538.5 614.07h0.75M546.75 614.07h0.75M549 614.07h0.75M551.25 614.07h0.75M556.5 614.07h0.75M561 614.07h0.75" stroke="#e2e3f5" stroke-width="16.07"/>
<path d="M210.75 614.07h0.75M251.25 614.07h0.75M260.25 614.07h0.75M269.25 614.07h0.75M291.75 614.07h0.75M332.25 614.07h0.75M354 614.07h0.75M378.75 614.07h0.75M381 614.07h0.75M387 614.07h0.75M394.5 614.07h0.75M404.25 614.07h0.75M405.75 614.07h0.75M416.25 614.07h0.75M424.5 614.07h0.75M431.25 614.07h0.75M433.5 614.07h0.75M436.5 614.07h0.75M452.25 614.07h0.75M455.25 614.07h0.75M456.75 614.07h0.75M462 614.07h0.75M465.75 614.07h0.75M474 614.07h0.75M476.25 614.07h0.75M484.5 614.07h0.75M502.5 614.07h0.75M512.25 614.07h0.75M517.5 614.07h0.75M530.25 614.07h0.75M531.75 614.07h0.75M535.5 614.07h0.75M541.5 614.07h0.75M546 614.07h0.75M549.75 614.07h1.5M555.75 614.07h0.75M560.25 614.07h0.75M570.75 614.07h1.5M573 614.07h1.5" stroke="#ffd4d3" stroke-width="16.07"/>
<path d="M229.5 614.07h1.5M234 614.07h1.5M237.75 614.07h0.75M243.75 614.07h0.75M246 614.07h0.75M252 614.07h2.25M261 614.07h0.75M263.25 614.07h0.75M264.75 614.07h0.75M267 614.07h0.75M268.5 614.07h0.75M275.25 614.07h0.75M288 614.07h0.75M289.5 614.07h0.75M301.5 614.07h0.75M303 614.07h0.75M315.75 614.07h1.5M323.25 614.07h0.75M330.75 614.07h0.75M333 614.07h0.75M336.75 614.07h1.5M339.75 614.07h0.75M342.75 614.07h0.75M348 614.07h1.5M354.75 614.07h0.75M357.75 614.07h0.75M364.5 614.07h0.75M374.25 614.07h0.75M391.5 614.07h0.75M447.75 614.07h0.75M471 614.07h1.5M553.5 614.07h0.75" stroke="#fc9e9c" stroke-width="16.07"/>
<path d="M231 614.07h0.75M232.5 614.07h0.75M235.5 614.07h0.75M237 614.07h0.75M239.25 614.07h0.75M242.25 614.07h0.75M244.5 614.07h0.75M249 614.07h0.75M271.5 614.07h0.75M273.75 614.07h0.75M276 614.07h1.5M279 614.07h0.75M283.5 614.07h0.75M287.25 614.07h0.75M294 614.07h0.75M298.5 614.07h0.75M300 614.07h0.75M306 614.07h0.75M309 614.07h0.75M313.5 614.07h1.5M317.25 614.07h0.75M318.75 614.07h1.5M324 614.07h0.75M327.75 614.07h0.75M334.5 614.07h0.75M343.5 614.07h0.75M345 614.07h0.75M351.75 614.07h0.75M361.5 614.07h0.75M365.25 614.07h0.75" stroke="#fa8985" stroke-width="16.07"/>
<path d="M231.75 614.07h0.75M240 614.07h0.75M274.5 614.07h0.75M290.25 614.07h0.75M297.75 614.07h0.75M302.25 614.07h0.75M305.25 614.07h0.75M312 614.07h0.75M325.5 614.07h0.75M329.25 614.07h0.75M340.5 614.07h0.75M344.25 614.07h0.75M345.75 614.07h0.75M351 614.07h0.75M356.25 614.07h1.5M367.5 614.07h0.75M369.75 614.07h0.75M371.25 614.07h0.75M375 614.07h0.75M377.25 614.07h0.75M383.25 614.07h0.75M384.75 614.07h0.75M389.25 614.07h0.75M390.75 614.07h0.75M400.5 614.07h0.75M405 614.07h0.75M411.75 614.07h1.5M417 614.07h0.75M418.5 614.07h0.75M423.75 614.07h0.75M429 614.07h0.75M472.5 614.07h0.75M499.5 614.07h0.75M510.75 614.07h0.75M514.5 614.07h0.75M522.75 614.07h0.75M534.75 614.07h0.75M540.75 614.07h0.75M542.25 614.07h0.75M547.5 614.07h0.75M552 614.07h0.75M554.25 614.07h0.75M562.5 614.07h0.75" stroke="#febebd" stroke-width="16.07"/>
<path d="M233.25 614.07h0.75M240.75 614.07h0.75M249.75 614.07h1.5M257.25 614.07h0.75M258.75 614.07h0.75M262.5 614.07h0.75M264 614.07h0.75M267.75 614.07h0.75M281.25 614.07h0.75M286.5 614.07h0.75M294.75 614.07h0.75M299.25 614.07h0.75M306.75 614.07h1.5M320.25 614.07h1.5M335.25 614.07h1.5M338.25 614.07h0.75M352.5 614.07h0.75M358.5 614.07h2.25M378 614.07h0.75M390 614.07h0.75M438 614.07h0.75M450 614.07h0.75M453 614.07h0.75M458.25 614.07h0.75M462.75 614.07h0.75M467.25 614.07h0.75M483 614.07h0.75M485.25 614.07h0.75M487.5 614.07h0.75M498 614.07h0.75M511.5 614.07h0.75M526.5 614.07h0.75M529.5 614.07h0.75M557.25 614.07h0.75" stroke="#fda9a7" stroke-width="16.07"/>
<path d="M236.25 614.07h0.75M241.5 614.07h0.75M261.75 614.07h0.75M278.25 614.07h0.75M279.75 614.07h0.75M288.75 614.07h0.75M291 614.07h0.75M297 614.07h0.75M309.75 614.07h0.75M312.75 614.07h0.75M321.75 614.07h0.75M333.75 614.07h0.75M341.25 614.07h0.75M363.75 614.07h0.75M366 614.07h0.75M372 614.07h0.75M397.5 614.07h0.75M408 614.07h0.75M410.25 614.07h0.75M414 614.07h0.75M419.25 614.07h0.75M423 614.07h0.75M439.5 614.07h0.75M448.5 614.07h0.75M453.75 614.07h0.75M457.5 614.07h0.75M459 614.07h0.75M466.5 614.07h0.75M474.75 614.07h1.5M477 614.07h0.75M480 614.07h1.5M486 614.07h0.75M492.75 614.07h0.75M495 614.07h0.75M507 614.07h0.75M545.25 614.07h0.75M552.75 614.07h0.75M558.75 614.07h0.75M564 614.07h1.5M567 614.07h0.75" stroke="#feb4b2" stroke-width="16.07"/>
<path d="M238.5 614.07h0.75M254.25 614.07h0.75M256.5 614.07h0.75M258 614.07h0.75M259.5 614.07h0.75M280.5 614.07h0.75M285 614.07h0.75M292.5 614.07h0.75M303.75 614.07h1.5M315 614.07h0.75M327 614.07h0.75M342 614.07h0.75M346.5 614.07h0.75M370.5 614.07h0.75M373.5 614.07h0.75" stroke="#f7736f" stroke-width="16.07"/>
<path d="M243 614.07h0.75M245.25 614.07h0.75M248.25 614.07h0.75M266.25 614.07h0.75M272.25 614.07h1.5M277.5 614.07h0.75M282 614.07h0.75M284.25 614.07h0.75M285.75 614.07h0.75M295.5 614.07h0.75M308.25 614.07h0.75M328.5 614.07h0.75M330 614.07h0.75M347.25 614.07h0.75M355.5 614.07h0.75M363 614.07h0.75M368.25 614.07h1.5M372.75 614.07h0.75M375.75 614.07h0.75M386.25 614.07h0.75M504 614.07h0.75" stroke="#fb9490" stroke-width="16.07"/>
<path d="M246.75 614.07h0.75M265.5 614.07h0.75M293.25 614.07h0.75M300.75 614.07h0.75M326.25 614.07h0.75M339 614.07h0.75M366.75 614.07h0.75" stroke="#f56864" stroke-width="16.07"/>
<path d="M255.75 614.07h0.75M296.25 614.07h0.75M324.75 614.07h0.75M376.5 614.07h0.75M379.5 614.07h0.75M387.75 614.07h0.75M393.75 614.07h0.75M396.75 614.07h0.75M399 614.07h0.75M403.5 614.07h0.75M406.5 614.07h0.75M411 614.07h0.75M417.75 614.07h0.75M420.75 614.07h0.75M422.25 614.07h0.75M428.25 614.07h0.75M430.5 614.07h0.75M432.75 614.07h0.75M446.25 614.07h1.5M449.25 614.07h0.75M459.75 614.07h0.75M468.75 614.07h0.75M478.5 614.07h1.5M486.75 614.07h0.75M489.75 614.07h0.75M503.25 614.07h0.75M505.5 614.07h0.75M507.75 614.07h0.75M509.25 614.07h1.5M516 614.07h1.5M524.25 614.07h0.75M533.25 614.07h1.5M537 614.07h0.75M539.25 614.07h0.75M543 614.07h0.75M555 614.07h0.75M566.25 614.07h0.75M567.75 614.07h0.75M572.25 614.07h0.75M574.5 614.07h1.5" stroke="#ffc9c8" stroke-width="16.07"/>
<path d="M270 614.07h0.75" stroke="#f0534e" stroke-width="16.07"/>
<path d="M270.75 614.07h0.75M282.75 614.07h0.75M310.5 614.07h1.5M322.5 614.07h0.75M349.5 614.07h1.5M360.75 614.07h0.75M362.25 614.07h0.75" stroke="#f97e7a" stroke-width="16.07"/>
<path d="M318 614.07h0.75" stroke="#f35e59" stroke-width="16.07"/>
<path d="M380.25 614.07h0.75M444.75 614.07h0.75" stroke="#c4c8ec" stroke-width="16.07"/>
<path d="M398.25 614.07h0.75M425.25 614.07h0.75M451.5 614.07h0.75M456 614.07h0.75M468 614.07h0.75M508.5 614.07h0.75M521.25 614.07h0.75M544.5 614.07h0.75M561.75 614.07h0.75M565.5 614.07h0.75" stroke="#d3d5f0" stroke-width="16.07"/>
</g>
<rect x="187" y="525.7" width="389.3" height="96.4" fill="none" stroke="#2a2a2a" stroke-width="1.25"/>
<path d="M229.8 525.7V685M378.7 525.7V685" stroke="#000" stroke-width="0.95" stroke-dasharray="1.7 2" fill="none"/>
<text x="583" y="538.3" font-size="12.3" font-style="italic" fill="#111">AKR1B10</text>
<text x="583" y="554.3" font-size="12.3" font-style="italic" fill="#111">AKR1B15</text>
<text x="583" y="570.6" font-size="12.3" font-style="italic" fill="#111">GPX2</text>
<text x="583" y="587" font-size="12.3" font-style="italic" fill="#111">TXNRD1</text>
<text x="583" y="603.1" font-size="12.3" font-style="italic" fill="#111">GCLM</text>
<text x="583" y="619.3" font-size="12.3" font-style="italic" fill="#111">GCLC</text>
<text x="207.4" y="670.8" font-size="20.3" text-anchor="middle">G1</text>
<text x="298.2" y="670.8" font-size="20.3" text-anchor="middle">G2</text>
<text x="463.3" y="670.8" font-size="20.3" text-anchor="middle">G3</text>
</g>
</svg>
</body>
</html>
